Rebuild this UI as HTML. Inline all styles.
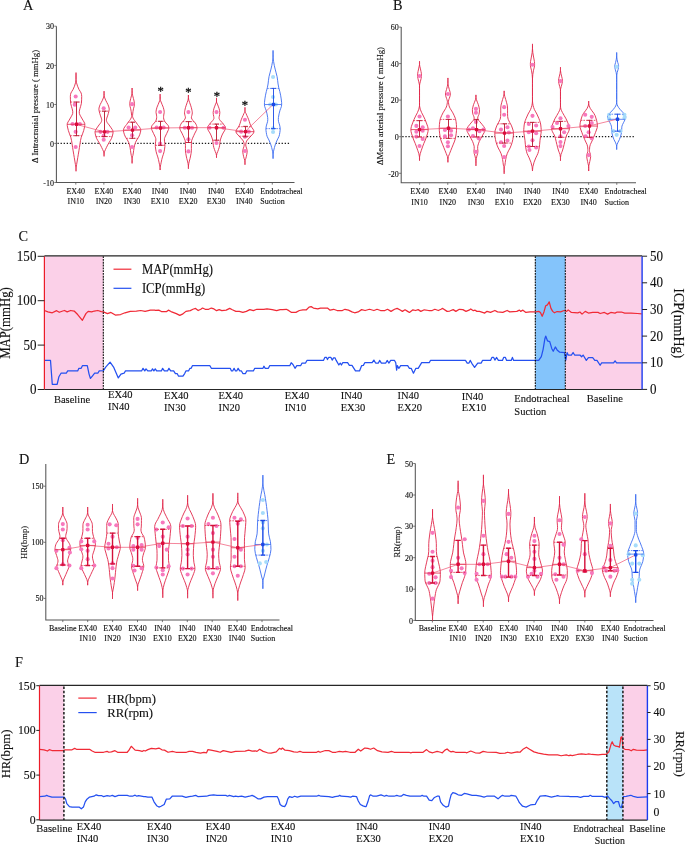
<!DOCTYPE html>
<html><head><meta charset="utf-8"><title>Figure</title>
<style>
html,body{margin:0;padding:0;background:#fff;}
body{width:685px;height:845px;overflow:hidden;}
svg{display:block;font-family:'Liberation Serif', 'DejaVu Serif', serif;fill:#111;}
text{stroke:#111;stroke-width:0.12px;}
</style></head><body>
<svg width="685" height="845" viewBox="0 0 685 845">
<rect width="685" height="845" fill="#fff"/>
<g id="panelA">
<text x="23" y="10" font-size="14.3" text-anchor="start">A</text>
<path d="M56.4 26.2V182.5H294.5" fill="none" stroke="#555" stroke-width="1.05"/>
<path d="M54.3 26.2h2.1M54.3 65.4h2.1M54.3 104.5h2.1M54.3 143.4h2.1M54.3 182.5h2.1M75.8 182.5v2.1M103.87 182.5v2.1M131.94 182.5v2.1M160.01 182.5v2.1M188.08 182.5v2.1M216.15 182.5v2.1M244.22 182.5v2.1M272.29 182.5v2.1" fill="none" stroke="#555" stroke-width="0.8"/>
<text x="54" y="29.3" font-size="8" text-anchor="end">30</text>
<text x="54" y="68.5" font-size="8" text-anchor="end">20</text>
<text x="54" y="107.6" font-size="8" text-anchor="end">10</text>
<text x="54" y="146.5" font-size="8" text-anchor="end">0</text>
<text x="54" y="185.6" font-size="8" text-anchor="end">-10</text>
<line x1="57.5" x2="290" y1="143.4" y2="143.4" stroke="#1a1a1a" stroke-width="1.3" stroke-dasharray="1.3 1.77"/>
<text x="75.8" y="193.8" font-size="8" text-anchor="middle">EX40</text><text x="75.8" y="204.2" font-size="8" text-anchor="middle">IN10</text>
<text x="103.87" y="193.8" font-size="8" text-anchor="middle">EX40</text><text x="103.87" y="204.2" font-size="8" text-anchor="middle">IN20</text>
<text x="131.94" y="193.8" font-size="8" text-anchor="middle">EX40</text><text x="131.94" y="204.2" font-size="8" text-anchor="middle">IN30</text>
<text x="160.01" y="193.8" font-size="8" text-anchor="middle">IN40</text><text x="160.01" y="204.2" font-size="8" text-anchor="middle">EX10</text>
<text x="188.08" y="193.8" font-size="8" text-anchor="middle">IN40</text><text x="188.08" y="204.2" font-size="8" text-anchor="middle">EX20</text>
<text x="216.15" y="193.8" font-size="8" text-anchor="middle">IN40</text><text x="216.15" y="204.2" font-size="8" text-anchor="middle">EX30</text>
<text x="244.22" y="193.8" font-size="8" text-anchor="middle">EX40</text><text x="244.22" y="204.2" font-size="8" text-anchor="middle">IN40</text>
<text x="260.3" y="193.8" font-size="8" text-anchor="start">Endotracheal</text><text x="260.3" y="204.2" font-size="8" text-anchor="start">Suction</text>
<text x="38.3" y="106.4" font-size="8" text-anchor="middle" transform="rotate(-90 38.3 106.4)" textLength="113" lengthAdjust="spacingAndGlyphs">&#916; Intracranial pressure ( mmHg)</text>
<path d="M76.02 72.61C76.02 73.18 76.02 74.88 76.02 76.02C76.02 77.15 75.94 78.28 76.02 79.42C76.11 80.55 76.28 81.68 76.53 82.82C76.79 83.95 77.15 85.08 77.58 86.22C78 87.35 78.48 88.49 79.07 89.62C79.67 90.75 80.7 91.89 81.14 93.02C81.57 94.15 81.62 95.29 81.7 96.42C81.78 97.56 81.66 98.69 81.62 99.82C81.57 100.96 81.59 102.09 81.41 103.22C81.23 104.36 80.86 105.49 80.55 106.63C80.24 107.76 79.77 108.89 79.57 110.03C79.37 111.16 79.11 112.29 79.35 113.43C79.58 114.56 80.37 115.7 80.97 116.83C81.57 117.96 82.3 119.1 82.94 120.23C83.57 121.36 84.51 122.5 84.77 123.63C85.04 124.76 84.71 125.9 84.53 127.03C84.36 128.17 84.05 129.3 83.72 130.43C83.39 131.57 82.96 132.7 82.55 133.83C82.14 134.97 81.61 136.1 81.27 137.24C80.92 138.37 80.7 139.5 80.48 140.64C80.26 141.77 80.12 142.9 79.95 144.04C79.78 145.17 79.63 146.31 79.45 147.44C79.28 148.57 79.08 149.71 78.9 150.84C78.71 151.97 78.52 153.11 78.33 154.24C78.14 155.38 77.95 156.51 77.76 157.64C77.57 158.78 77.39 159.91 77.2 161.04C77.01 162.18 76.84 163.31 76.64 164.45C76.44 165.58 76.13 166.71 76.02 167.85C75.92 168.98 76.02 170.68 76.02 171.25C76.02 170.68 76.13 168.98 76.02 167.85C75.92 166.71 75.6 165.58 75.41 164.45C75.21 163.31 75.03 162.18 74.85 161.04C74.66 159.91 74.47 158.78 74.29 157.64C74.1 156.51 73.9 155.38 73.71 154.24C73.53 153.11 73.34 151.97 73.15 150.84C72.96 149.71 72.77 148.57 72.59 147.44C72.42 146.31 72.27 145.17 72.09 144.04C71.92 142.9 71.79 141.77 71.57 140.64C71.35 139.5 71.12 138.37 70.78 137.24C70.43 136.1 69.91 134.97 69.5 133.83C69.09 132.7 68.66 131.57 68.33 130.43C68 129.3 67.69 128.17 67.51 127.03C67.34 125.9 67.01 124.76 67.27 123.63C67.54 122.5 68.47 121.36 69.11 120.23C69.74 119.1 70.48 117.96 71.08 116.83C71.68 115.7 72.46 114.56 72.7 113.43C72.93 112.29 72.68 111.16 72.48 110.03C72.28 108.89 71.81 107.76 71.5 106.63C71.19 105.49 70.81 104.36 70.64 103.22C70.46 102.09 70.48 100.96 70.43 99.82C70.38 98.69 70.27 97.56 70.35 96.42C70.43 95.29 70.47 94.15 70.91 93.02C71.35 91.89 72.38 90.75 72.97 89.62C73.57 88.49 74.05 87.35 74.47 86.22C74.89 85.08 75.25 83.95 75.51 82.82C75.77 81.68 75.94 80.55 76.02 79.42C76.11 78.28 76.02 77.15 76.02 76.02C76.02 74.88 76.02 73.18 76.02 72.61Z" fill="#fff" stroke="#e1284b" stroke-width="0.9" stroke-linejoin="round"/>
<circle cx="75.67" cy="96.44" r="2.05" fill="#f778bd"/>
<circle cx="74.8" cy="104.67" r="2.05" fill="#f778bd"/>
<circle cx="72.52" cy="123.95" r="2.05" fill="#f778bd"/>
<circle cx="79.88" cy="123.95" r="2.05" fill="#f778bd"/>
<circle cx="75.67" cy="131.83" r="2.05" fill="#f778bd"/>
<circle cx="75.67" cy="147.07" r="2.05" fill="#f778bd"/>
<line x1="67.19" x2="84.86" y1="124.3" y2="124.3" stroke="#e1284b" stroke-width="0.8"/>
<line x1="70.52" x2="81.53" y1="102.05" y2="102.05" stroke="#e1284b" stroke-width="0.8" stroke-dasharray="1.6 1"/>
<line x1="70.22" x2="81.82" y1="135.68" y2="135.68" stroke="#e1284b" stroke-width="0.8" stroke-dasharray="1.6 1"/>
<path d="M104.05 91.18C104.05 91.56 104.05 92.68 104.05 93.43C104.05 94.18 103.94 94.93 104.05 95.68C104.17 96.43 104.49 97.18 104.75 97.93C105.02 98.68 105.32 99.42 105.66 100.17C106 100.92 106.41 101.67 106.8 102.42C107.18 103.17 107.66 103.92 107.99 104.67C108.32 105.42 108.59 106.17 108.8 106.92C109 107.66 109.2 108.41 109.21 109.16C109.22 109.91 109.01 110.66 108.86 111.41C108.7 112.16 108.5 112.91 108.28 113.66C108.06 114.41 107.8 115.16 107.55 115.9C107.3 116.65 106.97 117.4 106.78 118.15C106.59 118.9 106.33 119.65 106.41 120.4C106.49 121.15 106.81 121.9 107.25 122.65C107.69 123.4 108.48 124.14 109.04 124.89C109.6 125.64 110.09 126.39 110.61 127.14C111.13 127.89 111.75 128.64 112.16 129.39C112.57 130.14 112.94 130.89 113.06 131.64C113.17 132.38 112.98 133.13 112.85 133.88C112.72 134.63 112.51 135.38 112.29 136.13C112.07 136.88 111.86 137.63 111.52 138.38C111.19 139.13 110.71 139.88 110.27 140.62C109.83 141.37 109.29 142.12 108.85 142.87C108.41 143.62 108.02 144.37 107.62 145.12C107.23 145.87 106.85 146.62 106.48 147.37C106.11 148.12 105.76 148.86 105.42 149.61C105.08 150.36 104.66 151.11 104.43 151.86C104.2 152.61 104.12 153.36 104.05 154.11C103.99 154.86 104.05 155.98 104.05 156.36C104.05 155.98 104.12 154.86 104.05 154.11C103.99 153.36 103.9 152.61 103.68 151.86C103.45 151.11 103.03 150.36 102.69 149.61C102.35 148.86 101.99 148.12 101.63 147.37C101.26 146.62 100.88 145.87 100.48 145.12C100.09 144.37 99.7 143.62 99.25 142.87C98.81 142.12 98.28 141.37 97.84 140.62C97.39 139.88 96.92 139.13 96.58 138.38C96.25 137.63 96.04 136.88 95.82 136.13C95.6 135.38 95.39 134.63 95.26 133.88C95.13 133.13 94.94 132.38 95.05 131.64C95.17 130.89 95.54 130.14 95.95 129.39C96.35 128.64 96.98 127.89 97.5 127.14C98.02 126.39 98.51 125.64 99.07 124.89C99.63 124.14 100.42 123.4 100.86 122.65C101.3 121.9 101.62 121.15 101.7 120.4C101.78 119.65 101.52 118.9 101.33 118.15C101.14 117.4 100.81 116.65 100.56 115.9C100.31 115.16 100.05 114.41 99.83 113.66C99.61 112.91 99.41 112.16 99.25 111.41C99.1 110.66 98.89 109.91 98.9 109.16C98.91 108.41 99.11 107.66 99.31 106.92C99.52 106.17 99.79 105.42 100.12 104.67C100.45 103.92 100.92 103.17 101.31 102.42C101.7 101.67 102.1 100.92 102.44 100.17C102.79 99.42 103.09 98.68 103.35 97.93C103.62 97.18 103.94 96.43 104.05 95.68C104.17 94.93 104.05 94.18 104.05 93.43C104.05 92.68 104.05 91.56 104.05 91.18Z" fill="#fff" stroke="#e1284b" stroke-width="0.9" stroke-linejoin="round"/>
<circle cx="103.7" cy="108.18" r="2.05" fill="#f778bd"/>
<circle cx="100.55" cy="131.83" r="2.05" fill="#f778bd"/>
<circle cx="107.56" cy="131.83" r="2.05" fill="#f778bd"/>
<circle cx="103.7" cy="135.68" r="2.05" fill="#f778bd"/>
<circle cx="103.7" cy="139.71" r="2.05" fill="#f778bd"/>
<line x1="95.04" x2="113.06" y1="131.83" y2="131.83" stroke="#e1284b" stroke-width="0.8"/>
<line x1="99.19" x2="108.92" y1="111.16" y2="111.16" stroke="#e1284b" stroke-width="0.8" stroke-dasharray="1.6 1"/>
<line x1="95.94" x2="112.16" y1="136.56" y2="136.56" stroke="#e1284b" stroke-width="0.8" stroke-dasharray="1.6 1"/>
<path d="M132.08 88.03C132.08 88.46 132.08 89.76 132.08 90.63C132.08 91.49 131.98 92.36 132.08 93.23C132.19 94.09 132.5 94.96 132.72 95.82C132.94 96.69 133.19 97.56 133.41 98.42C133.64 99.29 133.9 100.15 134.07 101.02C134.23 101.89 134.4 102.75 134.42 103.62C134.44 104.48 134.33 105.35 134.18 106.21C134.02 107.08 133.67 107.95 133.48 108.81C133.28 109.68 133.12 110.54 132.99 111.41C132.86 112.28 132.77 113.14 132.7 114.01C132.64 114.87 132.44 115.74 132.59 116.61C132.75 117.47 133.13 118.34 133.64 119.2C134.15 120.07 135.02 120.93 135.66 121.8C136.29 122.67 136.83 123.53 137.46 124.4C138.1 125.26 138.94 126.13 139.48 127C140.02 127.86 140.54 128.73 140.71 129.59C140.87 130.46 140.64 131.33 140.47 132.19C140.31 133.06 140.03 133.92 139.7 134.79C139.37 135.66 138.99 136.52 138.5 137.39C138.01 138.25 137.27 139.12 136.75 139.98C136.23 140.85 135.76 141.72 135.4 142.58C135.05 143.45 134.85 144.31 134.63 145.18C134.4 146.05 134.22 146.91 134.06 147.78C133.9 148.64 133.78 149.51 133.66 150.38C133.54 151.24 133.46 152.11 133.32 152.97C133.19 153.84 133.06 154.7 132.85 155.57C132.64 156.44 132.21 157.3 132.08 158.17C131.96 159.03 132.08 159.9 132.08 160.77C132.08 161.63 132.08 162.93 132.08 163.36C132.08 162.93 132.08 161.63 132.08 160.77C132.08 159.9 132.21 159.03 132.08 158.17C131.96 157.3 131.53 156.44 131.32 155.57C131.11 154.7 130.98 153.84 130.85 152.97C130.71 152.11 130.63 151.24 130.51 150.38C130.39 149.51 130.27 148.64 130.11 147.78C129.95 146.91 129.77 146.05 129.54 145.18C129.32 144.31 129.12 143.45 128.77 142.58C128.41 141.72 127.94 140.85 127.42 139.98C126.9 139.12 126.16 138.25 125.67 137.39C125.18 136.52 124.8 135.66 124.47 134.79C124.14 133.92 123.86 133.06 123.7 132.19C123.53 131.33 123.3 130.46 123.46 129.59C123.63 128.73 124.15 127.86 124.69 127C125.23 126.13 126.07 125.26 126.71 124.4C127.34 123.53 127.88 122.67 128.51 121.8C129.15 120.93 130.02 120.07 130.53 119.2C131.04 118.34 131.42 117.47 131.58 116.61C131.73 115.74 131.53 114.87 131.47 114.01C131.4 113.14 131.31 112.28 131.18 111.41C131.05 110.54 130.89 109.68 130.69 108.81C130.5 107.95 130.15 107.08 129.99 106.21C129.84 105.35 129.73 104.48 129.75 103.62C129.77 102.75 129.94 101.89 130.1 101.02C130.27 100.15 130.53 99.29 130.76 98.42C130.98 97.56 131.23 96.69 131.45 95.82C131.67 94.96 131.98 94.09 132.08 93.23C132.19 92.36 132.08 91.49 132.08 90.63C132.08 89.76 132.08 88.46 132.08 88.03Z" fill="#fff" stroke="#e1284b" stroke-width="0.9" stroke-linejoin="round"/>
<circle cx="132.08" cy="104.15" r="2.05" fill="#f778bd"/>
<circle cx="128.58" cy="127.45" r="2.05" fill="#f778bd"/>
<circle cx="135.24" cy="127.45" r="2.05" fill="#f778bd"/>
<circle cx="132.08" cy="135.33" r="2.05" fill="#f778bd"/>
<circle cx="132.08" cy="147.07" r="2.05" fill="#f778bd"/>
<line x1="123.42" x2="140.74" y1="130.08" y2="130.08" stroke="#e1284b" stroke-width="0.8"/>
<line x1="128.22" x2="135.95" y1="122.19" y2="122.19" stroke="#e1284b" stroke-width="0.8" stroke-dasharray="1.6 1"/>
<line x1="126.28" x2="137.89" y1="138.31" y2="138.31" stroke="#e1284b" stroke-width="0.8" stroke-dasharray="1.6 1"/>
<path d="M160.12 94.16C160.12 94.6 160.12 95.91 160.12 96.78C160.12 97.65 159.95 98.52 160.12 99.39C160.28 100.27 160.75 101.14 161.08 102.01C161.42 102.88 161.77 103.75 162.13 104.63C162.49 105.5 162.94 106.37 163.24 107.24C163.54 108.11 163.77 108.99 163.93 109.86C164.09 110.73 164.24 111.6 164.2 112.47C164.17 113.35 163.85 114.22 163.74 115.09C163.64 115.96 163.49 116.83 163.57 117.7C163.64 118.58 163.8 119.45 164.19 120.32C164.57 121.19 165.22 122.06 165.89 122.94C166.56 123.81 167.71 124.68 168.21 125.55C168.71 126.42 168.93 127.3 168.89 128.17C168.86 129.04 168.34 129.91 167.98 130.78C167.63 131.66 167.17 132.53 166.75 133.4C166.32 134.27 165.84 135.14 165.46 136.02C165.07 136.89 164.59 137.76 164.44 138.63C164.29 139.5 164.47 140.38 164.53 141.25C164.6 142.12 164.79 142.99 164.85 143.86C164.9 144.73 164.93 145.61 164.88 146.48C164.83 147.35 164.69 148.22 164.56 149.09C164.43 149.97 164.3 150.84 164.1 151.71C163.9 152.58 163.61 153.45 163.34 154.33C163.07 155.2 162.72 156.07 162.46 156.94C162.2 157.81 161.98 158.69 161.78 159.56C161.57 160.43 161.41 161.3 161.23 162.17C161.05 163.05 160.87 163.92 160.69 164.79C160.5 165.66 160.21 166.53 160.12 167.41C160.02 168.28 160.12 169.59 160.12 170.02C160.12 169.59 160.21 168.28 160.12 167.41C160.02 166.53 159.73 165.66 159.54 164.79C159.36 163.92 159.18 163.05 159 162.17C158.82 161.3 158.66 160.43 158.46 159.56C158.25 158.69 158.04 157.81 157.78 156.94C157.51 156.07 157.16 155.2 156.89 154.33C156.62 153.45 156.33 152.58 156.13 151.71C155.93 150.84 155.8 149.97 155.67 149.09C155.54 148.22 155.4 147.35 155.35 146.48C155.3 145.61 155.33 144.73 155.38 143.86C155.44 142.99 155.63 142.12 155.7 141.25C155.77 140.38 155.95 139.5 155.79 138.63C155.64 137.76 155.16 136.89 154.78 136.02C154.39 135.14 153.91 134.27 153.49 133.4C153.06 132.53 152.61 131.66 152.25 130.78C151.89 129.91 151.38 129.04 151.34 128.17C151.3 127.3 151.52 126.42 152.02 125.55C152.52 124.68 153.67 123.81 154.34 122.94C155.01 122.06 155.66 121.19 156.05 120.32C156.43 119.45 156.59 118.58 156.66 117.7C156.74 116.83 156.59 115.96 156.49 115.09C156.38 114.22 156.06 113.35 156.03 112.47C155.99 111.6 156.14 110.73 156.3 109.86C156.46 108.99 156.69 108.11 156.99 107.24C157.29 106.37 157.74 105.5 158.1 104.63C158.46 103.75 158.81 102.88 159.15 102.01C159.48 101.14 159.95 100.27 160.12 99.39C160.28 98.52 160.12 97.65 160.12 96.78C160.12 95.91 160.12 94.6 160.12 94.16Z" fill="#fff" stroke="#e1284b" stroke-width="0.9" stroke-linejoin="round"/>
<circle cx="160.12" cy="112.03" r="2.05" fill="#f778bd"/>
<circle cx="156.61" cy="127.45" r="2.05" fill="#f778bd"/>
<circle cx="163.62" cy="127.45" r="2.05" fill="#f778bd"/>
<circle cx="160.12" cy="143.57" r="2.05" fill="#f778bd"/>
<circle cx="160.12" cy="151.1" r="2.05" fill="#f778bd"/>
<line x1="151.31" x2="168.92" y1="127.97" y2="127.97" stroke="#e1284b" stroke-width="0.8"/>
<line x1="155.61" x2="164.62" y1="121.32" y2="121.32" stroke="#e1284b" stroke-width="0.8" stroke-dasharray="1.6 1"/>
<line x1="155.31" x2="164.92" y1="145.32" y2="145.32" stroke="#e1284b" stroke-width="0.8" stroke-dasharray="1.6 1"/>
<path d="M188.41 95.04C188.41 95.46 188.35 96.73 188.41 97.58C188.47 98.42 188.57 99.27 188.79 100.12C189 100.96 189.39 101.81 189.69 102.66C189.99 103.5 190.28 104.35 190.57 105.2C190.85 106.04 191.15 106.89 191.38 107.74C191.62 108.58 191.8 109.43 191.96 110.27C192.12 111.12 192.33 111.97 192.32 112.81C192.31 113.66 192.03 114.51 191.88 115.35C191.72 116.2 191.21 117.05 191.38 117.89C191.55 118.74 192.26 119.58 192.9 120.43C193.54 121.28 194.63 122.12 195.24 122.97C195.84 123.82 196.22 124.66 196.52 125.51C196.83 126.36 197.1 127.2 197.05 128.05C197.01 128.9 196.62 129.74 196.26 130.59C195.89 131.43 195.3 132.28 194.88 133.13C194.45 133.97 194.1 134.82 193.72 135.67C193.33 136.51 192.91 137.36 192.55 138.21C192.2 139.05 191.81 139.9 191.61 140.75C191.42 141.59 191.42 142.44 191.38 143.28C191.34 144.13 191.38 144.98 191.38 145.82C191.38 146.67 191.38 147.52 191.38 148.36C191.37 149.21 191.41 150.06 191.35 150.9C191.3 151.75 191.19 152.6 191.07 153.44C190.94 154.29 190.75 155.13 190.58 155.98C190.41 156.83 190.26 157.67 190.05 158.52C189.85 159.37 189.55 160.21 189.34 161.06C189.13 161.91 188.94 162.75 188.78 163.6C188.63 164.45 188.47 165.29 188.41 166.14C188.35 166.98 188.41 168.25 188.41 168.68C188.41 168.25 188.47 166.98 188.41 166.14C188.35 165.29 188.19 164.45 188.04 163.6C187.88 162.75 187.69 161.91 187.48 161.06C187.27 160.21 186.97 159.37 186.77 158.52C186.56 157.67 186.41 156.83 186.24 155.98C186.07 155.13 185.88 154.29 185.75 153.44C185.62 152.6 185.52 151.75 185.46 150.9C185.41 150.06 185.45 149.21 185.44 148.36C185.44 147.52 185.44 146.67 185.44 145.82C185.44 144.98 185.48 144.13 185.44 143.28C185.4 142.44 185.4 141.59 185.21 140.75C185.01 139.9 184.62 139.05 184.26 138.21C183.91 137.36 183.49 136.51 183.1 135.67C182.71 134.82 182.37 133.97 181.94 133.13C181.52 132.28 180.93 131.43 180.56 130.59C180.2 129.74 179.81 128.9 179.77 128.05C179.72 127.2 179.99 126.36 180.3 125.51C180.6 124.66 180.98 123.82 181.58 122.97C182.19 122.12 183.27 121.28 183.92 120.43C184.56 119.58 185.27 118.74 185.44 117.89C185.61 117.05 185.1 116.2 184.94 115.35C184.79 114.51 184.51 113.66 184.5 112.81C184.48 111.97 184.7 111.12 184.86 110.27C185.01 109.43 185.2 108.58 185.43 107.74C185.67 106.89 185.97 106.04 186.25 105.2C186.54 104.35 186.83 103.5 187.13 102.66C187.42 101.81 187.82 100.96 188.03 100.12C188.25 99.27 188.35 98.42 188.41 97.58C188.47 96.73 188.41 95.46 188.41 95.04Z" fill="#fff" stroke="#e1284b" stroke-width="0.9" stroke-linejoin="round"/>
<circle cx="188.41" cy="112.12" r="2.05" fill="#f778bd"/>
<circle cx="184.8" cy="127.68" r="2.05" fill="#f778bd"/>
<circle cx="192.02" cy="127.68" r="2.05" fill="#f778bd"/>
<circle cx="188.41" cy="139.26" r="2.05" fill="#f778bd"/>
<circle cx="188.41" cy="151.41" r="2.05" fill="#f778bd"/>
<line x1="179.75" x2="197.07" y1="127.68" y2="127.68" stroke="#e1284b" stroke-width="0.8"/>
<line x1="182.75" x2="194.07" y1="121.61" y2="121.61" stroke="#e1284b" stroke-width="0.8" stroke-dasharray="1.6 1"/>
<line x1="185.44" x2="191.38" y1="142.49" y2="142.49" stroke="#e1284b" stroke-width="0.8" stroke-dasharray="1.6 1"/>
<path d="M216.5 97.89C216.5 98.23 216.5 99.26 216.5 99.95C216.5 100.63 216.34 101.32 216.5 102.01C216.65 102.7 217.14 103.38 217.42 104.07C217.71 104.76 217.94 105.44 218.2 106.13C218.46 106.82 218.76 107.51 218.98 108.19C219.19 108.88 219.36 109.57 219.5 110.25C219.64 110.94 219.8 111.63 219.83 112.32C219.86 113 219.77 113.69 219.67 114.38C219.58 115.06 219.36 115.75 219.27 116.44C219.17 117.13 218.94 117.81 219.11 118.5C219.28 119.19 219.77 119.88 220.28 120.56C220.8 121.25 221.6 121.94 222.19 122.62C222.78 123.31 223.28 124 223.8 124.69C224.32 125.37 225.05 126.06 225.31 126.75C225.57 127.43 225.52 128.12 225.37 128.81C225.23 129.5 224.8 130.18 224.43 130.87C224.06 131.56 223.54 132.24 223.15 132.93C222.76 133.62 222.39 134.31 222.08 134.99C221.77 135.68 221.53 136.37 221.28 137.05C221.03 137.74 220.78 138.43 220.58 139.12C220.39 139.8 220.24 140.49 220.12 141.18C220 141.86 219.95 142.55 219.86 143.24C219.78 143.93 219.73 144.61 219.63 145.3C219.52 145.99 219.39 146.67 219.21 147.36C219.03 148.05 218.78 148.74 218.54 149.42C218.3 150.11 218.04 150.8 217.77 151.48C217.5 152.17 217.14 152.86 216.93 153.55C216.72 154.23 216.57 154.92 216.5 155.61C216.43 156.3 216.5 157.33 216.5 157.67C216.5 157.33 216.57 156.3 216.5 155.61C216.43 154.92 216.28 154.23 216.07 153.55C215.86 152.86 215.5 152.17 215.23 151.48C214.96 150.8 214.69 150.11 214.45 149.42C214.21 148.74 213.96 148.05 213.78 147.36C213.6 146.67 213.48 145.99 213.37 145.3C213.26 144.61 213.21 143.93 213.13 143.24C213.05 142.55 213 141.86 212.88 141.18C212.76 140.49 212.61 139.8 212.41 139.12C212.22 138.43 211.96 137.74 211.71 137.05C211.46 136.37 211.22 135.68 210.91 134.99C210.6 134.31 210.24 133.62 209.85 132.93C209.46 132.24 208.94 131.56 208.57 130.87C208.19 130.18 207.77 129.5 207.62 128.81C207.48 128.12 207.43 127.43 207.69 126.75C207.95 126.06 208.67 125.37 209.19 124.69C209.71 124 210.22 123.31 210.81 122.62C211.4 121.94 212.2 121.25 212.71 120.56C213.23 119.88 213.72 119.19 213.89 118.5C214.05 117.81 213.82 117.13 213.73 116.44C213.64 115.75 213.42 115.06 213.32 114.38C213.23 113.69 213.13 113 213.16 112.32C213.19 111.63 213.35 110.94 213.5 110.25C213.64 109.57 213.8 108.88 214.02 108.19C214.24 107.51 214.54 106.82 214.8 106.13C215.06 105.44 215.29 104.76 215.57 104.07C215.86 103.38 216.34 102.7 216.5 102.01C216.65 101.32 216.5 100.63 216.5 99.95C216.5 99.26 216.5 98.23 216.5 97.89Z" fill="#fff" stroke="#e1284b" stroke-width="0.9" stroke-linejoin="round"/>
<circle cx="216.5" cy="112.12" r="2.05" fill="#f778bd"/>
<circle cx="209.48" cy="127.68" r="2.05" fill="#f778bd"/>
<circle cx="223.52" cy="127.68" r="2.05" fill="#f778bd"/>
<circle cx="216.5" cy="143.06" r="2.05" fill="#f778bd"/>
<line x1="207.46" x2="225.54" y1="127.68" y2="127.68" stroke="#e1284b" stroke-width="0.8"/>
<line x1="209.7" x2="223.3" y1="124.08" y2="124.08" stroke="#e1284b" stroke-width="0.8" stroke-dasharray="1.6 1"/>
<line x1="212.69" x2="220.3" y1="140.21" y2="140.21" stroke="#e1284b" stroke-width="0.8" stroke-dasharray="1.6 1"/>
<path d="M244.97 107.38C244.97 107.7 244.97 108.69 244.97 109.35C244.97 110.01 244.81 110.67 244.97 111.33C245.13 111.99 245.63 112.65 245.93 113.3C246.23 113.96 246.49 114.62 246.78 115.28C247.06 115.94 247.37 116.6 247.66 117.26C247.95 117.92 248.25 118.57 248.51 119.23C248.76 119.89 248.99 120.55 249.2 121.21C249.42 121.87 249.59 122.53 249.81 123.19C250.02 123.85 250.19 124.5 250.49 125.16C250.79 125.82 251.18 126.48 251.6 127.14C252.03 127.8 252.63 128.46 253.02 129.12C253.41 129.77 253.86 130.43 253.94 131.09C254.03 131.75 253.88 132.41 253.52 133.07C253.17 133.73 252.4 134.39 251.82 135.05C251.23 135.7 250.63 136.36 250.03 137.02C249.43 137.68 248.78 138.34 248.22 139C247.66 139.66 247.05 140.32 246.68 140.97C246.3 141.63 246.14 142.29 245.97 142.95C245.81 143.61 245.69 144.27 245.7 144.93C245.72 145.59 245.91 146.24 246.09 146.9C246.26 147.56 246.59 148.22 246.77 148.88C246.95 149.54 247.12 150.2 247.17 150.86C247.22 151.52 247.13 152.17 247.05 152.83C246.98 153.49 246.84 154.15 246.71 154.81C246.58 155.47 246.43 156.13 246.26 156.79C246.1 157.44 245.94 158.1 245.72 158.76C245.5 159.42 245.09 160.08 244.97 160.74C244.84 161.4 244.97 162.06 244.97 162.72C244.97 163.37 244.97 164.36 244.97 164.69C244.97 164.36 244.97 163.37 244.97 162.72C244.97 162.06 245.09 161.4 244.97 160.74C244.84 160.08 244.43 159.42 244.21 158.76C244 158.1 243.84 157.44 243.67 156.79C243.51 156.13 243.36 155.47 243.22 154.81C243.09 154.15 242.96 153.49 242.88 152.83C242.8 152.17 242.71 151.52 242.76 150.86C242.81 150.2 242.99 149.54 243.17 148.88C243.35 148.22 243.67 147.56 243.85 146.9C244.02 146.24 244.21 145.59 244.23 144.93C244.25 144.27 244.12 143.61 243.96 142.95C243.8 142.29 243.63 141.63 243.26 140.97C242.88 140.32 242.27 139.66 241.71 139C241.16 138.34 240.5 137.68 239.9 137.02C239.31 136.36 238.7 135.7 238.12 135.05C237.53 134.39 236.76 133.73 236.41 133.07C236.05 132.41 235.9 131.75 235.99 131.09C236.07 130.43 236.52 129.77 236.91 129.12C237.3 128.46 237.91 127.8 238.33 127.14C238.75 126.48 239.14 125.82 239.44 125.16C239.74 124.5 239.91 123.85 240.13 123.19C240.34 122.53 240.51 121.87 240.73 121.21C240.95 120.55 241.17 119.89 241.43 119.23C241.68 118.57 241.98 117.92 242.27 117.26C242.56 116.6 242.87 115.94 243.16 115.28C243.45 114.62 243.7 113.96 244 113.3C244.3 112.65 244.81 111.99 244.97 111.33C245.13 110.67 244.97 110.01 244.97 109.35C244.97 108.69 244.97 107.7 244.97 107.38Z" fill="#fff" stroke="#e1284b" stroke-width="0.9" stroke-linejoin="round"/>
<circle cx="244.97" cy="119.71" r="2.05" fill="#f778bd"/>
<circle cx="241.17" cy="131.67" r="2.05" fill="#f778bd"/>
<circle cx="248.76" cy="131.67" r="2.05" fill="#f778bd"/>
<circle cx="244.97" cy="136.79" r="2.05" fill="#f778bd"/>
<circle cx="244.97" cy="151.03" r="2.05" fill="#f778bd"/>
<line x1="235.93" x2="254.01" y1="131.67" y2="131.67" stroke="#e1284b" stroke-width="0.8"/>
<line x1="238.61" x2="251.33" y1="126.73" y2="126.73" stroke="#e1284b" stroke-width="0.8" stroke-dasharray="1.6 1"/>
<line x1="239.25" x2="250.69" y1="136.22" y2="136.22" stroke="#e1284b" stroke-width="0.8" stroke-dasharray="1.6 1"/>
<path d="M273.06 50.44C273.06 51.06 273.06 52.93 273.06 54.17C273.06 55.41 272.96 56.66 273.06 57.9C273.15 59.14 273.41 60.39 273.61 61.63C273.82 62.87 274.02 64.12 274.28 65.36C274.53 66.6 274.84 67.85 275.15 69.09C275.45 70.33 275.79 71.58 276.11 72.82C276.43 74.06 276.82 75.31 277.07 76.55C277.33 77.79 277.46 79.04 277.62 80.28C277.79 81.52 277.88 82.77 278.07 84.01C278.26 85.25 278.48 86.5 278.77 87.74C279.05 88.99 279.47 90.23 279.77 91.47C280.08 92.72 280.36 93.96 280.6 95.2C280.84 96.45 281.04 97.69 281.21 98.93C281.39 100.18 281.61 101.42 281.65 102.66C281.69 103.91 281.71 105.15 281.44 106.39C281.17 107.64 280.44 108.88 280.04 110.12C279.65 111.37 279.35 112.61 279.08 113.85C278.81 115.1 278.53 116.34 278.43 117.58C278.33 118.83 278.28 120.07 278.47 121.31C278.67 122.56 279.31 123.8 279.6 125.05C279.88 126.29 280.15 127.53 280.19 128.78C280.23 130.02 280.03 131.26 279.84 132.51C279.65 133.75 279.5 134.99 279.06 136.24C278.62 137.48 277.78 138.72 277.21 139.97C276.63 141.21 276.06 142.45 275.6 143.7C275.14 144.94 274.79 146.18 274.45 147.43C274.11 148.67 273.79 149.91 273.55 151.16C273.32 152.4 273.14 153.64 273.06 154.89C272.97 156.13 273.06 158 273.06 158.62C273.06 158 273.14 156.13 273.06 154.89C272.97 153.64 272.79 152.4 272.56 151.16C272.32 149.91 272 148.67 271.66 147.43C271.32 146.18 270.97 144.94 270.51 143.7C270.05 142.45 269.48 141.21 268.91 139.97C268.33 138.72 267.49 137.48 267.05 136.24C266.61 134.99 266.46 133.75 266.27 132.51C266.09 131.26 265.88 130.02 265.92 128.78C265.96 127.53 266.23 126.29 266.52 125.05C266.8 123.8 267.44 122.56 267.64 121.31C267.83 120.07 267.78 118.83 267.68 117.58C267.58 116.34 267.3 115.1 267.03 113.85C266.76 112.61 266.46 111.37 266.07 110.12C265.67 108.88 264.94 107.64 264.67 106.39C264.4 105.15 264.43 103.91 264.46 102.66C264.5 101.42 264.73 100.18 264.9 98.93C265.07 97.69 265.27 96.45 265.51 95.2C265.75 93.96 266.03 92.72 266.34 91.47C266.64 90.23 267.06 88.99 267.34 87.74C267.63 86.5 267.85 85.25 268.05 84.01C268.24 82.77 268.32 81.52 268.49 80.28C268.65 79.04 268.79 77.79 269.04 76.55C269.29 75.31 269.68 74.06 270 72.82C270.32 71.58 270.66 70.33 270.97 69.09C271.27 67.85 271.58 66.6 271.83 65.36C272.09 64.12 272.3 62.87 272.5 61.63C272.7 60.39 272.96 59.14 273.06 57.9C273.15 56.66 273.06 55.41 273.06 54.17C273.06 52.93 273.06 51.06 273.06 50.44Z" fill="#fff" stroke="#3b6cf2" stroke-width="0.9" stroke-linejoin="round"/>
<circle cx="273.06" cy="77.01" r="2.05" fill="#a6dcfa"/>
<circle cx="273.06" cy="96.94" r="2.05" fill="#a6dcfa"/>
<circle cx="270.21" cy="104.53" r="2.05" fill="#a6dcfa"/>
<circle cx="275.9" cy="104.53" r="2.05" fill="#a6dcfa"/>
<circle cx="273.06" cy="128.25" r="2.05" fill="#a6dcfa"/>
<circle cx="273.06" cy="132.05" r="2.05" fill="#a6dcfa"/>
<line x1="264.4" x2="281.72" y1="104.53" y2="104.53" stroke="#3b6cf2" stroke-width="0.8"/>
<line x1="267.18" x2="278.93" y1="88.4" y2="88.4" stroke="#3b6cf2" stroke-width="0.8" stroke-dasharray="1.6 1"/>
<line x1="265.92" x2="280.19" y1="128.63" y2="128.63" stroke="#3b6cf2" stroke-width="0.8" stroke-dasharray="1.6 1"/>
<polyline points="76.02,124.3 104.05,131.83 132.08,130.08 160.12,127.97 188.41,127.68 216.5,127.68 244.97,131.67 273.06,104.53" fill="none" stroke="#ee4466" stroke-width="0.65"/>
<path d="M76.5 102.05V135.68M74.2 102.05H78.8M74.2 135.68H78.8" stroke="#b8142e" stroke-width="0.9" fill="none"/>
<rect x="74.8" y="122.6" width="3.4" height="3.4" rx="0.7" fill="#dc0a3c"/>
<path d="M104.5 111.16V136.56M102.2 111.16H106.8M102.2 136.56H106.8" stroke="#b8142e" stroke-width="0.9" fill="none"/>
<rect x="102.8" y="130.13" width="3.4" height="3.4" rx="0.7" fill="#dc0a3c"/>
<path d="M132.5 122.19V138.31M130.2 122.19H134.8M130.2 138.31H134.8" stroke="#b8142e" stroke-width="0.9" fill="none"/>
<rect x="130.8" y="128.38" width="3.4" height="3.4" rx="0.7" fill="#dc0a3c"/>
<path d="M160.5 121.32V145.32M158.2 121.32H162.8M158.2 145.32H162.8" stroke="#b8142e" stroke-width="0.9" fill="none"/>
<rect x="158.8" y="126.27" width="3.4" height="3.4" rx="0.7" fill="#dc0a3c"/>
<path d="M188.5 121.61V142.49M186.2 121.61H190.8M186.2 142.49H190.8" stroke="#b8142e" stroke-width="0.9" fill="none"/>
<rect x="186.8" y="125.98" width="3.4" height="3.4" rx="0.7" fill="#dc0a3c"/>
<path d="M216.5 124.08V140.21M214.2 124.08H218.8M214.2 140.21H218.8" stroke="#b8142e" stroke-width="0.9" fill="none"/>
<rect x="214.8" y="125.98" width="3.4" height="3.4" rx="0.7" fill="#dc0a3c"/>
<path d="M245.5 126.35V136.79M243.2 126.35H247.8M243.2 136.79H247.8" stroke="#b8142e" stroke-width="0.9" fill="none"/>
<rect x="243.8" y="129.97" width="3.4" height="3.4" rx="0.7" fill="#dc0a3c"/>
<path d="M273.5 88.4V128.63M271.2 88.4H275.8M271.2 128.63H275.8" stroke="#1a48e6" stroke-width="0.9" fill="none"/>
<rect x="271.8" y="102.83" width="3.4" height="3.4" rx="0.7" fill="#1a48e6"/>
<text x="160.64" y="94.93" font-size="12.5" text-anchor="middle" style="stroke-width:0.35px">*</text>
<text x="188.41" y="96.36" font-size="12.5" text-anchor="middle" style="stroke-width:0.35px">*</text>
<text x="216.88" y="99.59" font-size="12.5" text-anchor="middle" style="stroke-width:0.35px">*</text>
<text x="244.97" y="109.08" font-size="12.5" text-anchor="middle" style="stroke-width:0.35px">*</text>
</g>
<g id="panelB">
<text x="393" y="10.3" font-size="14.3" text-anchor="start">B</text>
<path d="M401.2 27.1V182.7H636" fill="none" stroke="#555" stroke-width="1.05"/>
<path d="M399.1 27.1h2.1M399.1 63.6h2.1M399.1 100.1h2.1M399.1 136.7h2.1M399.1 173.3h2.1M419.6 182.7v2.1M447.77 182.7v2.1M475.94 182.7v2.1M504.11 182.7v2.1M532.28 182.7v2.1M560.45 182.7v2.1M588.62 182.7v2.1M616.79 182.7v2.1" fill="none" stroke="#555" stroke-width="0.8"/>
<text x="398.8" y="30.4" font-size="8" text-anchor="end">60</text>
<text x="398.8" y="66.9" font-size="8" text-anchor="end">40</text>
<text x="398.8" y="103.4" font-size="8" text-anchor="end">20</text>
<text x="398.8" y="140" font-size="8" text-anchor="end">0</text>
<text x="398.8" y="176.6" font-size="8" text-anchor="end">-20</text>
<line x1="402.3" x2="634" y1="136.7" y2="136.7" stroke="#1a1a1a" stroke-width="1.3" stroke-dasharray="1.3 1.77"/>
<text x="419.6" y="193.8" font-size="8" text-anchor="middle">EX40</text><text x="419.6" y="204.6" font-size="8" text-anchor="middle">IN10</text>
<text x="447.77" y="193.8" font-size="8" text-anchor="middle">EX40</text><text x="447.77" y="204.6" font-size="8" text-anchor="middle">IN20</text>
<text x="475.94" y="193.8" font-size="8" text-anchor="middle">EX40</text><text x="475.94" y="204.6" font-size="8" text-anchor="middle">IN30</text>
<text x="504.11" y="193.8" font-size="8" text-anchor="middle">IN40</text><text x="504.11" y="204.6" font-size="8" text-anchor="middle">EX10</text>
<text x="532.28" y="193.8" font-size="8" text-anchor="middle">IN40</text><text x="532.28" y="204.6" font-size="8" text-anchor="middle">EX20</text>
<text x="560.45" y="193.8" font-size="8" text-anchor="middle">IN40</text><text x="560.45" y="204.6" font-size="8" text-anchor="middle">EX30</text>
<text x="588.62" y="193.8" font-size="8" text-anchor="middle">EX40</text><text x="588.62" y="204.6" font-size="8" text-anchor="middle">IN40</text>
<text x="604.6" y="193.8" font-size="8" text-anchor="start">Endotracheal</text><text x="604.6" y="204.6" font-size="8" text-anchor="start">Suction</text>
<text x="382.8" y="106" font-size="8" text-anchor="middle" transform="rotate(-90 382.8 106)" textLength="118" lengthAdjust="spacingAndGlyphs">&#916;Mean arterial pressure ( mmHg)</text>
<path d="M419.53 61.24C419.53 61.81 419.4 63.53 419.53 64.67C419.65 65.81 420.02 66.95 420.27 68.09C420.52 69.24 420.81 70.38 421.01 71.52C421.21 72.66 421.46 73.8 421.48 74.95C421.5 76.09 421.35 77.23 421.15 78.37C420.95 79.51 420.56 80.66 420.29 81.8C420.02 82.94 419.65 84.08 419.53 85.22C419.4 86.36 419.53 87.51 419.53 88.65C419.53 89.79 419.53 90.93 419.53 92.07C419.53 93.22 419.53 94.36 419.53 95.5C419.53 96.64 419.53 97.78 419.53 98.93C419.53 100.07 419.53 101.21 419.53 102.35C419.53 103.49 419.41 104.64 419.53 105.78C419.65 106.92 419.89 108.06 420.24 109.2C420.59 110.34 421.1 111.49 421.63 112.63C422.16 113.77 422.85 114.91 423.42 116.05C423.99 117.2 424.56 118.34 425.05 119.48C425.55 120.62 425.96 121.76 426.39 122.91C426.82 124.05 427.33 125.19 427.63 126.33C427.93 127.47 428.19 128.62 428.19 129.76C428.18 130.9 427.88 132.04 427.61 133.18C427.33 134.32 426.92 135.47 426.53 136.61C426.15 137.75 425.75 138.89 425.29 140.03C424.84 141.18 424.28 142.32 423.82 143.46C423.36 144.6 422.94 145.74 422.53 146.89C422.11 148.03 421.73 149.17 421.34 150.31C420.95 151.45 420.5 152.6 420.2 153.74C419.89 154.88 419.64 156.02 419.53 157.16C419.42 158.3 419.53 160.02 419.53 160.59C419.53 160.02 419.64 158.3 419.53 157.16C419.42 156.02 419.16 154.88 418.86 153.74C418.56 152.6 418.1 151.45 417.71 150.31C417.33 149.17 416.94 148.03 416.53 146.89C416.11 145.74 415.69 144.6 415.23 143.46C414.77 142.32 414.21 141.18 413.76 140.03C413.31 138.89 412.9 137.75 412.52 136.61C412.13 135.47 411.72 134.32 411.45 133.18C411.17 132.04 410.87 130.9 410.87 129.76C410.87 128.62 411.13 127.47 411.43 126.33C411.73 125.19 412.23 124.05 412.66 122.91C413.09 121.76 413.51 120.62 414 119.48C414.5 118.34 415.06 117.2 415.63 116.05C416.2 114.91 416.89 113.77 417.43 112.63C417.96 111.49 418.47 110.34 418.82 109.2C419.17 108.06 419.41 106.92 419.53 105.78C419.65 104.64 419.53 103.49 419.53 102.35C419.53 101.21 419.53 100.07 419.53 98.93C419.53 97.78 419.53 96.64 419.53 95.5C419.53 94.36 419.53 93.22 419.53 92.07C419.53 90.93 419.53 89.79 419.53 88.65C419.53 87.51 419.65 86.36 419.53 85.22C419.4 84.08 419.04 82.94 418.77 81.8C418.5 80.66 418.1 79.51 417.91 78.37C417.71 77.23 417.55 76.09 417.57 74.95C417.6 73.8 417.84 72.66 418.04 71.52C418.25 70.38 418.53 69.24 418.78 68.09C419.03 66.95 419.4 65.81 419.53 64.67C419.65 63.53 419.53 61.81 419.53 61.24Z" fill="#fff" stroke="#e1284b" stroke-width="0.9" stroke-linejoin="round"/>
<circle cx="419.53" cy="76.05" r="2.05" fill="#f778bd"/>
<circle cx="419.53" cy="116.44" r="2.05" fill="#f778bd"/>
<circle cx="416.37" cy="125.9" r="2.05" fill="#f778bd"/>
<circle cx="422.68" cy="127.3" r="2.05" fill="#f778bd"/>
<circle cx="416.37" cy="131.68" r="2.05" fill="#f778bd"/>
<circle cx="422.68" cy="130.81" r="2.05" fill="#f778bd"/>
<circle cx="416.37" cy="136.59" r="2.05" fill="#f778bd"/>
<circle cx="422.68" cy="139.04" r="2.05" fill="#f778bd"/>
<circle cx="419.53" cy="146.05" r="2.05" fill="#f778bd"/>
<line x1="410.87" x2="428.19" y1="129.58" y2="129.58" stroke="#e1284b" stroke-width="0.8"/>
<line x1="413.5" x2="425.55" y1="120.64" y2="120.64" stroke="#e1284b" stroke-width="0.8" stroke-dasharray="1.6 1"/>
<line x1="412.62" x2="426.44" y1="136.94" y2="136.94" stroke="#e1284b" stroke-width="0.8" stroke-dasharray="1.6 1"/>
<path d="M447.91 77.94C447.91 78.43 447.91 79.88 447.91 80.85C447.91 81.82 447.8 82.79 447.91 83.76C448.02 84.74 448.33 85.71 448.56 86.68C448.8 87.65 449.05 88.62 449.32 89.59C449.59 90.56 450.03 91.53 450.18 92.5C450.33 93.47 450.37 94.44 450.23 95.41C450.08 96.38 449.6 97.35 449.3 98.32C448.99 99.29 448.51 100.26 448.42 101.23C448.32 102.2 448.54 103.17 448.72 104.14C448.89 105.11 449.08 106.08 449.47 107.05C449.86 108.02 450.51 108.99 451.07 109.96C451.64 110.93 452.33 111.9 452.86 112.87C453.39 113.84 453.83 114.81 454.27 115.78C454.71 116.75 455.19 117.72 455.48 118.69C455.78 119.66 455.9 120.63 456.05 121.6C456.2 122.57 456.3 123.54 456.39 124.51C456.47 125.48 456.54 126.45 456.56 127.42C456.58 128.39 456.55 129.36 456.5 130.33C456.44 131.3 456.33 132.27 456.22 133.24C456.1 134.21 455.95 135.18 455.79 136.15C455.63 137.12 455.5 138.09 455.25 139.06C454.99 140.03 454.63 141 454.26 141.97C453.89 142.94 453.44 143.91 453.05 144.88C452.65 145.85 452.28 146.82 451.89 147.79C451.5 148.76 451.1 149.73 450.71 150.7C450.32 151.67 449.94 152.64 449.56 153.61C449.17 154.58 448.68 155.55 448.4 156.52C448.13 157.49 447.99 158.46 447.91 159.43C447.83 160.4 447.91 161.86 447.91 162.34C447.91 161.86 447.99 160.4 447.91 159.43C447.83 158.46 447.69 157.49 447.42 156.52C447.14 155.55 446.65 154.58 446.26 153.61C445.87 152.64 445.49 151.67 445.1 150.7C444.71 149.73 444.31 148.76 443.92 147.79C443.54 146.82 443.17 145.85 442.77 144.88C442.38 143.91 441.92 142.94 441.56 141.97C441.19 141 440.82 140.03 440.57 139.06C440.31 138.09 440.19 137.12 440.02 136.15C439.86 135.18 439.72 134.21 439.6 133.24C439.48 132.27 439.38 131.3 439.32 130.33C439.26 129.36 439.24 128.39 439.26 127.42C439.27 126.45 439.34 125.48 439.43 124.51C439.51 123.54 439.61 122.57 439.76 121.6C439.91 120.63 440.04 119.66 440.33 118.69C440.63 117.72 441.11 116.75 441.55 115.78C441.98 114.81 442.42 113.84 442.96 112.87C443.49 111.9 444.18 110.93 444.74 109.96C445.31 108.99 445.95 108.02 446.34 107.05C446.74 106.08 446.92 105.11 447.1 104.14C447.28 103.17 447.5 102.2 447.4 101.23C447.3 100.26 446.82 99.29 446.52 98.32C446.22 97.35 445.74 96.38 445.59 95.41C445.44 94.44 445.48 93.47 445.63 92.5C445.78 91.53 446.23 90.56 446.5 89.59C446.77 88.62 447.02 87.65 447.25 86.68C447.49 85.71 447.8 84.74 447.91 83.76C448.02 82.79 447.91 81.82 447.91 80.85C447.91 79.88 447.91 78.43 447.91 77.94Z" fill="#fff" stroke="#e1284b" stroke-width="0.9" stroke-linejoin="round"/>
<circle cx="447.91" cy="94.02" r="2.05" fill="#f778bd"/>
<circle cx="447.91" cy="116.44" r="2.05" fill="#f778bd"/>
<circle cx="444.93" cy="129.93" r="2.05" fill="#f778bd"/>
<circle cx="451.06" cy="130.81" r="2.05" fill="#f778bd"/>
<circle cx="444.93" cy="136.41" r="2.05" fill="#f778bd"/>
<circle cx="451.06" cy="135.19" r="2.05" fill="#f778bd"/>
<circle cx="447.91" cy="142.19" r="2.05" fill="#f778bd"/>
<circle cx="447.91" cy="146.22" r="2.05" fill="#f778bd"/>
<line x1="439.25" x2="456.57" y1="128.18" y2="128.18" stroke="#e1284b" stroke-width="0.8"/>
<line x1="440.12" x2="455.69" y1="119.42" y2="119.42" stroke="#e1284b" stroke-width="0.8" stroke-dasharray="1.6 1"/>
<line x1="440.4" x2="455.42" y1="138.34" y2="138.34" stroke="#e1284b" stroke-width="0.8" stroke-dasharray="1.6 1"/>
<path d="M475.94 94.89C475.94 95.3 475.85 96.52 475.94 97.34C476.03 98.15 476.22 98.97 476.46 99.78C476.7 100.6 477.06 101.42 477.37 102.23C477.69 103.05 478.07 103.86 478.34 104.68C478.62 105.49 478.82 106.31 479.01 107.12C479.19 107.94 479.39 108.76 479.46 109.57C479.52 110.39 479.5 111.2 479.41 112.02C479.32 112.83 479.17 113.65 478.92 114.46C478.66 115.28 478.04 116.1 477.87 116.91C477.71 117.73 477.58 118.54 477.92 119.36C478.26 120.17 479.24 120.99 479.91 121.8C480.58 122.62 481.28 123.44 481.94 124.25C482.59 125.07 483.33 125.88 483.85 126.7C484.38 127.51 484.96 128.33 485.09 129.14C485.22 129.96 484.95 130.78 484.65 131.59C484.35 132.41 483.75 133.22 483.29 134.04C482.84 134.85 482.39 135.67 481.94 136.48C481.49 137.3 481.04 138.12 480.61 138.93C480.17 139.75 479.68 140.56 479.32 141.38C478.95 142.19 478.67 143.01 478.4 143.82C478.13 144.64 477.83 145.46 477.71 146.27C477.59 147.09 477.63 147.9 477.67 148.72C477.7 149.53 477.92 150.35 477.92 151.16C477.92 151.98 477.84 152.8 477.66 153.61C477.48 154.43 477.08 155.24 476.86 156.06C476.63 156.87 476.48 157.69 476.33 158.5C476.17 159.32 476 160.14 475.94 160.95C475.87 161.77 475.94 162.58 475.94 163.4C475.94 164.21 475.94 165.44 475.94 165.84C475.94 165.44 475.94 164.21 475.94 163.4C475.94 162.58 476 161.77 475.94 160.95C475.87 160.14 475.71 159.32 475.55 158.5C475.4 157.69 475.24 156.87 475.02 156.06C474.8 155.24 474.4 154.43 474.22 153.61C474.04 152.8 473.96 151.98 473.95 151.16C473.95 150.35 474.17 149.53 474.21 148.72C474.25 147.9 474.29 147.09 474.17 146.27C474.05 145.46 473.75 144.64 473.48 143.82C473.21 143.01 472.93 142.19 472.56 141.38C472.19 140.56 471.71 139.75 471.27 138.93C470.84 138.12 470.39 137.3 469.94 136.48C469.49 135.67 469.04 134.85 468.58 134.04C468.13 133.22 467.53 132.41 467.23 131.59C466.93 130.78 466.66 129.96 466.79 129.14C466.92 128.33 467.5 127.51 468.02 126.7C468.55 125.88 469.29 125.07 469.94 124.25C470.6 123.44 471.3 122.62 471.97 121.8C472.64 120.99 473.62 120.17 473.96 119.36C474.3 118.54 474.17 117.73 474.01 116.91C473.84 116.1 473.22 115.28 472.96 114.46C472.7 113.65 472.56 112.83 472.47 112.02C472.38 111.2 472.36 110.39 472.42 109.57C472.49 108.76 472.69 107.94 472.87 107.12C473.06 106.31 473.26 105.49 473.53 104.68C473.81 103.86 474.19 103.05 474.51 102.23C474.82 101.42 475.18 100.6 475.42 99.78C475.65 98.97 475.85 98.15 475.94 97.34C476.03 96.52 475.94 95.3 475.94 94.89Z" fill="#fff" stroke="#e1284b" stroke-width="0.9" stroke-linejoin="round"/>
<circle cx="475.94" cy="108.91" r="2.05" fill="#f778bd"/>
<circle cx="475.94" cy="112.76" r="2.05" fill="#f778bd"/>
<circle cx="475.94" cy="122.05" r="2.05" fill="#f778bd"/>
<circle cx="468.93" cy="129.58" r="2.05" fill="#f778bd"/>
<circle cx="472.96" cy="128.18" r="2.05" fill="#f778bd"/>
<circle cx="483.47" cy="129.58" r="2.05" fill="#f778bd"/>
<circle cx="479.44" cy="131.16" r="2.05" fill="#f778bd"/>
<circle cx="472.96" cy="136.06" r="2.05" fill="#f778bd"/>
<circle cx="478.74" cy="138.34" r="2.05" fill="#f778bd"/>
<circle cx="475.94" cy="151.83" r="2.05" fill="#f778bd"/>
<line x1="466.75" x2="485.12" y1="129.58" y2="129.58" stroke="#e1284b" stroke-width="0.8"/>
<line x1="473.6" x2="478.28" y1="119.94" y2="119.94" stroke="#e1284b" stroke-width="0.8" stroke-dasharray="1.6 1"/>
<line x1="470.17" x2="481.71" y1="136.94" y2="136.94" stroke="#e1284b" stroke-width="0.8" stroke-dasharray="1.6 1"/>
<path d="M504.15 90.86C504.15 91.34 504.03 92.77 504.15 93.72C504.26 94.67 504.56 95.62 504.82 96.58C505.07 97.53 505.41 98.48 505.69 99.43C505.98 100.39 506.25 101.34 506.51 102.29C506.77 103.24 507.06 104.2 507.24 105.15C507.41 106.1 507.5 107.05 507.55 108.01C507.6 108.96 507.55 109.91 507.55 110.86C507.55 111.82 507.53 112.77 507.55 113.72C507.57 114.67 507.55 115.63 507.67 116.58C507.78 117.53 507.93 118.48 508.25 119.44C508.58 120.39 509.11 121.34 509.61 122.29C510.11 123.25 510.79 124.2 511.24 125.15C511.7 126.1 512.01 127.06 512.34 128.01C512.67 128.96 513.04 129.91 513.24 130.87C513.43 131.82 513.49 132.77 513.5 133.72C513.5 134.68 513.36 135.63 513.25 136.58C513.14 137.53 513 138.49 512.83 139.44C512.65 140.39 512.45 141.34 512.18 142.3C511.91 143.25 511.58 144.2 511.23 145.15C510.88 146.11 510.52 147.06 510.06 148.01C509.6 148.96 508.96 149.92 508.48 150.87C507.99 151.82 507.51 152.77 507.15 153.73C506.79 154.68 506.55 155.63 506.31 156.58C506.06 157.54 505.86 158.49 505.69 159.44C505.52 160.39 505.41 161.35 505.28 162.3C505.15 163.25 505.09 164.2 504.91 165.16C504.72 166.11 504.27 167.06 504.15 168.01C504.02 168.97 504.15 169.92 504.15 170.87C504.15 171.82 504.15 173.25 504.15 173.73C504.15 173.25 504.15 171.82 504.15 170.87C504.15 169.92 504.27 168.97 504.15 168.01C504.02 167.06 503.57 166.11 503.38 165.16C503.2 164.2 503.14 163.25 503.01 162.3C502.88 161.35 502.77 160.39 502.6 159.44C502.43 158.49 502.23 157.54 501.98 156.58C501.74 155.63 501.5 154.68 501.14 153.73C500.78 152.77 500.3 151.82 499.81 150.87C499.33 149.92 498.69 148.96 498.23 148.01C497.77 147.06 497.41 146.11 497.06 145.15C496.71 144.2 496.38 143.25 496.11 142.3C495.85 141.34 495.64 140.39 495.46 139.44C495.29 138.49 495.15 137.53 495.04 136.58C494.93 135.63 494.79 134.68 494.79 133.72C494.8 132.77 494.86 131.82 495.06 130.87C495.25 129.91 495.62 128.96 495.95 128.01C496.29 127.06 496.59 126.1 497.05 125.15C497.5 124.2 498.18 123.25 498.68 122.29C499.18 121.34 499.71 120.39 500.04 119.44C500.36 118.48 500.51 117.53 500.62 116.58C500.74 115.63 500.72 114.67 500.74 113.72C500.76 112.77 500.74 111.82 500.74 110.86C500.74 109.91 500.69 108.96 500.74 108.01C500.79 107.05 500.88 106.1 501.05 105.15C501.23 104.2 501.52 103.24 501.78 102.29C502.04 101.34 502.31 100.39 502.6 99.43C502.88 98.48 503.22 97.53 503.47 96.58C503.73 95.62 504.03 94.67 504.15 93.72C504.26 92.77 504.15 91.34 504.15 90.86Z" fill="#fff" stroke="#e1284b" stroke-width="0.9" stroke-linejoin="round"/>
<circle cx="504.15" cy="107.15" r="2.05" fill="#f778bd"/>
<circle cx="504.15" cy="114.69" r="2.05" fill="#f778bd"/>
<circle cx="500.99" cy="129.58" r="2.05" fill="#f778bd"/>
<circle cx="507.47" cy="127.3" r="2.05" fill="#f778bd"/>
<circle cx="500.99" cy="142.19" r="2.05" fill="#f778bd"/>
<circle cx="507.47" cy="140.44" r="2.05" fill="#f778bd"/>
<circle cx="504.15" cy="146.05" r="2.05" fill="#f778bd"/>
<circle cx="504.15" cy="157.08" r="2.05" fill="#f778bd"/>
<circle cx="508.88" cy="132.56" r="2.05" fill="#f778bd"/>
<line x1="494.78" x2="513.51" y1="133.08" y2="133.08" stroke="#e1284b" stroke-width="0.8"/>
<line x1="497.75" x2="510.54" y1="123.8" y2="123.8" stroke="#e1284b" stroke-width="0.8" stroke-dasharray="1.6 1"/>
<line x1="496.35" x2="511.94" y1="143.07" y2="143.07" stroke="#e1284b" stroke-width="0.8" stroke-dasharray="1.6 1"/>
<path d="M532.48 43.9C532.48 44.63 532.42 46.82 532.48 48.28C532.54 49.74 532.65 51.2 532.83 52.66C533.02 54.13 533.33 55.59 533.59 57.05C533.85 58.51 534.24 59.97 534.4 61.43C534.56 62.89 534.7 64.35 534.55 65.81C534.41 67.28 533.82 68.74 533.52 70.2C533.23 71.66 532.97 73.12 532.8 74.58C532.62 76.04 532.53 77.5 532.48 78.97C532.43 80.43 532.48 81.89 532.48 83.35C532.48 84.81 532.48 86.27 532.48 87.73C532.48 89.19 532.48 90.65 532.48 92.12C532.48 93.58 532.48 95.04 532.48 96.5C532.48 97.96 532.39 99.42 532.48 100.88C532.57 102.34 532.7 103.8 533.03 105.27C533.36 106.73 533.82 108.19 534.46 109.65C535.11 111.11 536.15 112.57 536.89 114.03C537.62 115.49 538.27 116.96 538.85 118.42C539.43 119.88 540.03 121.34 540.39 122.8C540.75 124.26 540.86 125.72 541 127.18C541.14 128.64 541.29 130.11 541.22 131.57C541.15 133.03 540.8 134.49 540.59 135.95C540.39 137.41 540.16 138.87 540 140.33C539.83 141.79 539.77 143.26 539.6 144.72C539.43 146.18 539.25 147.64 538.97 149.1C538.68 150.56 538.42 152.02 537.89 153.48C537.36 154.95 536.43 156.41 535.79 157.87C535.15 159.33 534.53 160.79 534.05 162.25C533.56 163.71 533.16 165.17 532.9 166.63C532.64 168.1 532.55 170.29 532.48 171.02C532.41 170.29 532.32 168.1 532.06 166.63C531.8 165.17 531.4 163.71 530.92 162.25C530.43 160.79 529.81 159.33 529.17 157.87C528.53 156.41 527.6 154.95 527.07 153.48C526.54 152.02 526.28 150.56 525.99 149.1C525.71 147.64 525.53 146.18 525.36 144.72C525.19 143.26 525.13 141.79 524.97 140.33C524.8 138.87 524.57 137.41 524.37 135.95C524.17 134.49 523.81 133.03 523.74 131.57C523.67 130.11 523.82 128.64 523.96 127.18C524.1 125.72 524.22 124.26 524.57 122.8C524.93 121.34 525.53 119.88 526.11 118.42C526.7 116.96 527.35 115.49 528.08 114.03C528.81 112.57 529.86 111.11 530.5 109.65C531.14 108.19 531.61 106.73 531.94 105.27C532.27 103.8 532.39 102.34 532.48 100.88C532.57 99.42 532.48 97.96 532.48 96.5C532.48 95.04 532.48 93.58 532.48 92.12C532.48 90.65 532.48 89.19 532.48 87.73C532.48 86.27 532.48 84.81 532.48 83.35C532.48 81.89 532.53 80.43 532.48 78.97C532.43 77.5 532.34 76.04 532.17 74.58C531.99 73.12 531.73 71.66 531.44 70.2C531.14 68.74 530.56 67.28 530.41 65.81C530.26 64.35 530.4 62.89 530.56 61.43C530.73 59.97 531.11 58.51 531.37 57.05C531.63 55.59 531.94 54.13 532.13 52.66C532.31 51.2 532.42 49.74 532.48 48.28C532.54 46.82 532.48 44.63 532.48 43.9Z" fill="#fff" stroke="#e1284b" stroke-width="0.9" stroke-linejoin="round"/>
<circle cx="532.48" cy="64.74" r="2.05" fill="#f778bd"/>
<circle cx="532.48" cy="115.84" r="2.05" fill="#f778bd"/>
<circle cx="528.8" cy="124.01" r="2.05" fill="#f778bd"/>
<circle cx="536.16" cy="125.44" r="2.05" fill="#f778bd"/>
<circle cx="528.8" cy="132.19" r="2.05" fill="#f778bd"/>
<circle cx="536.16" cy="133.21" r="2.05" fill="#f778bd"/>
<circle cx="528.8" cy="146.49" r="2.05" fill="#f778bd"/>
<circle cx="536.16" cy="147.51" r="2.05" fill="#f778bd"/>
<circle cx="529.42" cy="149.97" r="2.05" fill="#f778bd"/>
<circle cx="532.48" cy="140.36" r="2.05" fill="#f778bd"/>
<line x1="523.73" x2="541.23" y1="131.16" y2="131.16" stroke="#e1284b" stroke-width="0.8"/>
<line x1="524.68" x2="540.28" y1="122.38" y2="122.38" stroke="#e1284b" stroke-width="0.8" stroke-dasharray="1.6 1"/>
<line x1="525.57" x2="539.39" y1="146.49" y2="146.49" stroke="#e1284b" stroke-width="0.8" stroke-dasharray="1.6 1"/>
<path d="M560.48 67.2C560.48 67.73 560.4 69.35 560.48 70.42C560.56 71.5 560.77 72.58 560.98 73.65C561.2 74.73 561.52 75.8 561.76 76.88C562 77.95 562.37 79.03 562.43 80.11C562.49 81.18 562.3 82.26 562.11 83.33C561.91 84.41 561.52 85.49 561.25 86.56C560.98 87.64 560.61 88.71 560.48 89.79C560.35 90.87 560.48 91.94 560.48 93.02C560.48 94.09 560.48 95.17 560.48 96.25C560.48 97.32 560.48 98.4 560.48 99.47C560.48 100.55 560.48 101.62 560.48 102.7C560.48 103.78 560.4 104.85 560.48 105.93C560.56 107 560.63 108.08 560.94 109.16C561.26 110.23 561.83 111.31 562.37 112.38C562.92 113.46 563.59 114.54 564.21 115.61C564.83 116.69 565.53 117.76 566.07 118.84C566.62 119.91 567.05 120.99 567.5 122.07C567.96 123.14 568.48 124.22 568.8 125.29C569.12 126.37 569.48 127.45 569.43 128.52C569.38 129.6 568.96 130.67 568.5 131.75C568.05 132.83 567.18 133.9 566.7 134.98C566.22 136.05 565.92 137.13 565.61 138.21C565.29 139.28 565.09 140.36 564.83 141.43C564.58 142.51 564.33 143.58 564.06 144.66C563.8 145.74 563.54 146.81 563.25 147.89C562.95 148.96 562.68 150.04 562.3 151.12C561.93 152.19 561.31 153.27 561.01 154.34C560.71 155.42 560.57 156.5 560.48 157.57C560.39 158.65 560.48 160.26 560.48 160.8C560.48 160.26 560.57 158.65 560.48 157.57C560.39 156.5 560.25 155.42 559.95 154.34C559.65 153.27 559.03 152.19 558.66 151.12C558.29 150.04 558.01 148.96 557.71 147.89C557.42 146.81 557.16 145.74 556.9 144.66C556.63 143.58 556.38 142.51 556.13 141.43C555.87 140.36 555.67 139.28 555.36 138.21C555.04 137.13 554.74 136.05 554.26 134.98C553.78 133.9 552.91 132.83 552.46 131.75C552 130.67 551.58 129.6 551.53 128.52C551.48 127.45 551.84 126.37 552.16 125.29C552.48 124.22 553.01 123.14 553.46 122.07C553.92 120.99 554.34 119.91 554.89 118.84C555.44 117.76 556.13 116.69 556.75 115.61C557.37 114.54 558.04 113.46 558.59 112.38C559.13 111.31 559.7 110.23 560.02 109.16C560.33 108.08 560.4 107 560.48 105.93C560.56 104.85 560.48 103.78 560.48 102.7C560.48 101.62 560.48 100.55 560.48 99.47C560.48 98.4 560.48 97.32 560.48 96.25C560.48 95.17 560.48 94.09 560.48 93.02C560.48 91.94 560.61 90.87 560.48 89.79C560.35 88.71 559.98 87.64 559.71 86.56C559.44 85.49 559.05 84.41 558.85 83.33C558.66 82.26 558.47 81.18 558.53 80.11C558.59 79.03 558.96 77.95 559.2 76.88C559.44 75.8 559.76 74.73 559.98 73.65C560.19 72.58 560.4 71.5 560.48 70.42C560.56 69.35 560.48 67.73 560.48 67.2Z" fill="#fff" stroke="#e1284b" stroke-width="0.9" stroke-linejoin="round"/>
<circle cx="560.48" cy="81.09" r="2.05" fill="#f778bd"/>
<circle cx="560.48" cy="118.29" r="2.05" fill="#f778bd"/>
<circle cx="552.51" cy="127.08" r="2.05" fill="#f778bd"/>
<circle cx="568.45" cy="126.06" r="2.05" fill="#f778bd"/>
<circle cx="557.01" cy="122.99" r="2.05" fill="#f778bd"/>
<circle cx="564.16" cy="132.19" r="2.05" fill="#f778bd"/>
<circle cx="560.48" cy="136.27" r="2.05" fill="#f778bd"/>
<circle cx="560.48" cy="142" r="2.05" fill="#f778bd"/>
<circle cx="560.48" cy="146.08" r="2.05" fill="#f778bd"/>
<line x1="551.53" x2="569.43" y1="128.71" y2="128.71" stroke="#e1284b" stroke-width="0.8"/>
<line x1="553.78" x2="567.18" y1="121.35" y2="121.35" stroke="#e1284b" stroke-width="0.8" stroke-dasharray="1.6 1"/>
<line x1="555.11" x2="565.85" y1="137.3" y2="137.3" stroke="#e1284b" stroke-width="0.8" stroke-dasharray="1.6 1"/>
<path d="M588.68 101.12C588.68 101.52 588.6 102.73 588.68 103.53C588.76 104.34 588.9 105.14 589.16 105.94C589.42 106.75 589.78 107.55 590.24 108.35C590.7 109.16 591.32 109.96 591.9 110.76C592.48 111.57 593.2 112.37 593.73 113.17C594.26 113.98 594.73 114.78 595.09 115.58C595.45 116.39 595.64 117.19 595.89 117.99C596.14 118.8 596.39 119.6 596.6 120.4C596.8 121.21 597 122.01 597.13 122.81C597.27 123.62 597.39 124.42 597.41 125.22C597.43 126.03 597.4 126.83 597.23 127.63C597.07 128.44 596.71 129.24 596.42 130.04C596.13 130.85 595.8 131.65 595.5 132.45C595.2 133.26 594.91 134.06 594.59 134.86C594.28 135.67 593.94 136.47 593.6 137.27C593.27 138.08 592.95 138.88 592.6 139.69C592.25 140.49 591.89 141.29 591.51 142.1C591.13 142.9 590.64 143.7 590.34 144.51C590.03 145.31 589.82 146.11 589.69 146.92C589.56 147.72 589.55 148.52 589.54 149.33C589.52 150.13 589.43 150.93 589.58 151.74C589.72 152.54 590.2 153.34 590.38 154.15C590.56 154.95 590.67 155.75 590.66 156.56C590.65 157.36 590.46 158.16 590.32 158.97C590.18 159.77 589.97 160.57 589.8 161.38C589.63 162.18 589.48 162.98 589.3 163.79C589.11 164.59 588.79 165.39 588.68 166.2C588.58 167 588.68 167.8 588.68 168.61C588.68 169.41 588.68 170.62 588.68 171.02C588.68 170.62 588.68 169.41 588.68 168.61C588.68 167.8 588.79 167 588.68 166.2C588.58 165.39 588.26 164.59 588.07 163.79C587.89 162.98 587.74 162.18 587.57 161.38C587.4 160.57 587.19 159.77 587.05 158.97C586.9 158.16 586.72 157.36 586.71 156.56C586.7 155.75 586.8 154.95 586.98 154.15C587.17 153.34 587.65 152.54 587.79 151.74C587.93 150.93 587.85 150.13 587.83 149.33C587.81 148.52 587.81 147.72 587.68 146.92C587.55 146.11 587.34 145.31 587.03 144.51C586.73 143.7 586.23 142.9 585.86 142.1C585.48 141.29 585.12 140.49 584.77 139.69C584.42 138.88 584.1 138.08 583.76 137.27C583.43 136.47 583.09 135.67 582.77 134.86C582.46 134.06 582.17 133.26 581.87 132.45C581.56 131.65 581.24 130.85 580.95 130.04C580.66 129.24 580.3 128.44 580.14 127.63C579.97 126.83 579.94 126.03 579.96 125.22C579.98 124.42 580.1 123.62 580.24 122.81C580.37 122.01 580.56 121.21 580.77 120.4C580.98 119.6 581.23 118.8 581.48 117.99C581.73 117.19 581.92 116.39 582.28 115.58C582.64 114.78 583.11 113.98 583.64 113.17C584.17 112.37 584.89 111.57 585.47 110.76C586.05 109.96 586.67 109.16 587.13 108.35C587.59 107.55 587.95 106.75 588.21 105.94C588.47 105.14 588.6 104.34 588.68 103.53C588.76 102.73 588.68 101.52 588.68 101.12Z" fill="#fff" stroke="#e1284b" stroke-width="0.9" stroke-linejoin="round"/>
<circle cx="585.21" cy="114.82" r="2.05" fill="#f778bd"/>
<circle cx="591.75" cy="116.86" r="2.05" fill="#f778bd"/>
<circle cx="585.21" cy="126.06" r="2.05" fill="#f778bd"/>
<circle cx="591.75" cy="122.99" r="2.05" fill="#f778bd"/>
<circle cx="588.68" cy="132.19" r="2.05" fill="#f778bd"/>
<circle cx="591.75" cy="138.32" r="2.05" fill="#f778bd"/>
<circle cx="585.62" cy="136.27" r="2.05" fill="#f778bd"/>
<circle cx="588.68" cy="155.08" r="2.05" fill="#f778bd"/>
<line x1="579.94" x2="597.43" y1="126.06" y2="126.06" stroke="#e1284b" stroke-width="0.8"/>
<line x1="580.79" x2="596.58" y1="120.33" y2="120.33" stroke="#e1284b" stroke-width="0.8" stroke-dasharray="1.6 1"/>
<line x1="583.77" x2="593.59" y1="137.3" y2="137.3" stroke="#e1284b" stroke-width="0.8" stroke-dasharray="1.6 1"/>
<path d="M616.68 52.48C616.68 53.04 616.62 54.71 616.68 55.83C616.74 56.94 616.85 58.06 617.03 59.18C617.22 60.29 617.52 61.41 617.78 62.52C618.05 63.64 618.57 64.76 618.63 65.87C618.69 66.99 618.38 68.1 618.15 69.22C617.91 70.33 617.44 71.45 617.2 72.57C616.95 73.68 616.77 74.8 616.68 75.91C616.6 77.03 616.68 78.15 616.68 79.26C616.68 80.38 616.68 81.49 616.68 82.61C616.68 83.72 616.68 84.84 616.68 85.96C616.68 87.07 616.68 88.19 616.68 89.3C616.68 90.42 616.68 91.54 616.68 92.65C616.68 93.77 616.68 94.88 616.68 96C616.68 97.11 616.68 98.23 616.68 99.35C616.68 100.46 616.52 101.58 616.68 102.69C616.85 103.81 617.12 104.93 617.69 106.04C618.25 107.16 619.14 108.27 620.05 109.39C620.97 110.5 622.25 111.62 623.2 112.74C624.14 113.85 625.38 114.97 625.7 116.08C626.02 117.2 625.47 118.32 625.09 119.43C624.72 120.55 623.96 121.66 623.44 122.78C622.91 123.89 622.23 125.01 621.95 126.13C621.66 127.24 621.81 128.36 621.73 129.47C621.65 130.59 621.65 131.71 621.46 132.82C621.28 133.94 620.98 135.05 620.64 136.17C620.29 137.28 619.9 138.4 619.41 139.52C618.92 140.63 618.17 141.75 617.71 142.86C617.26 143.98 616.85 145.1 616.68 146.21C616.51 147.33 616.68 149 616.68 149.56C616.68 149 616.85 147.33 616.68 146.21C616.51 145.1 616.11 143.98 615.65 142.86C615.2 141.75 614.44 140.63 613.96 139.52C613.47 138.4 613.07 137.28 612.73 136.17C612.39 135.05 612.08 133.94 611.9 132.82C611.72 131.71 611.72 130.59 611.64 129.47C611.56 128.36 611.7 127.24 611.42 126.13C611.13 125.01 610.46 123.89 609.93 122.78C609.41 121.66 608.65 120.55 608.27 119.43C607.9 118.32 607.35 117.2 607.67 116.08C607.98 114.97 609.23 113.85 610.17 112.74C611.11 111.62 612.39 110.5 613.31 109.39C614.23 108.27 615.12 107.16 615.68 106.04C616.24 104.93 616.52 103.81 616.68 102.69C616.85 101.58 616.68 100.46 616.68 99.35C616.68 98.23 616.68 97.11 616.68 96C616.68 94.88 616.68 93.77 616.68 92.65C616.68 91.54 616.68 90.42 616.68 89.3C616.68 88.19 616.68 87.07 616.68 85.96C616.68 84.84 616.68 83.72 616.68 82.61C616.68 81.49 616.68 80.38 616.68 79.26C616.68 78.15 616.77 77.03 616.68 75.91C616.6 74.8 616.41 73.68 616.17 72.57C615.92 71.45 615.46 70.33 615.22 69.22C614.98 68.1 614.68 66.99 614.74 65.87C614.8 64.76 615.32 63.64 615.58 62.52C615.85 61.41 616.15 60.29 616.33 59.18C616.52 58.06 616.62 56.94 616.68 55.83C616.74 54.71 616.68 53.04 616.68 52.48Z" fill="#fff" stroke="#3b6cf2" stroke-width="0.9" stroke-linejoin="round"/>
<circle cx="616.68" cy="66.79" r="2.05" fill="#a6dcfa"/>
<circle cx="609.12" cy="114.82" r="2.05" fill="#a6dcfa"/>
<circle cx="624.45" cy="114.82" r="2.05" fill="#a6dcfa"/>
<circle cx="609.12" cy="118.9" r="2.05" fill="#a6dcfa"/>
<circle cx="624.45" cy="117.88" r="2.05" fill="#a6dcfa"/>
<circle cx="613.21" cy="131.16" r="2.05" fill="#a6dcfa"/>
<circle cx="620.36" cy="131.16" r="2.05" fill="#a6dcfa"/>
<circle cx="616.68" cy="134.84" r="2.05" fill="#a6dcfa"/>
<line x1="608.22" x2="625.15" y1="119.31" y2="119.31" stroke="#3b6cf2" stroke-width="0.8"/>
<line x1="608.86" x2="624.51" y1="114.2" y2="114.2" stroke="#3b6cf2" stroke-width="0.8" stroke-dasharray="1.6 1"/>
<line x1="611.73" x2="621.64" y1="131.16" y2="131.16" stroke="#3b6cf2" stroke-width="0.8" stroke-dasharray="1.6 1"/>
<polyline points="419.53,129.58 447.91,128.18 475.94,129.58 504.15,133.08 532.48,131.16 560.48,128.71 588.68,126.06 616.68,119.31" fill="none" stroke="#ee4466" stroke-width="0.65"/>
<path d="M419.5 120.64V136.94M417.2 120.64H421.8M417.2 136.94H421.8" stroke="#b8142e" stroke-width="0.9" fill="none"/>
<rect x="417.8" y="127.88" width="3.4" height="3.4" rx="0.7" fill="#dc0a3c"/>
<path d="M448.5 119.42V138.34M446.2 119.42H450.8M446.2 138.34H450.8" stroke="#b8142e" stroke-width="0.9" fill="none"/>
<rect x="446.8" y="126.48" width="3.4" height="3.4" rx="0.7" fill="#dc0a3c"/>
<path d="M476.5 119.42V136.94M474.2 119.42H478.8M474.2 136.94H478.8" stroke="#b8142e" stroke-width="0.9" fill="none"/>
<rect x="474.8" y="127.88" width="3.4" height="3.4" rx="0.7" fill="#dc0a3c"/>
<path d="M504.5 123.8V143.07M502.2 123.8H506.8M502.2 143.07H506.8" stroke="#b8142e" stroke-width="0.9" fill="none"/>
<rect x="502.8" y="131.38" width="3.4" height="3.4" rx="0.7" fill="#dc0a3c"/>
<path d="M532.5 122.38V146.49M530.2 122.38H534.8M530.2 146.49H534.8" stroke="#b8142e" stroke-width="0.9" fill="none"/>
<rect x="530.8" y="129.46" width="3.4" height="3.4" rx="0.7" fill="#dc0a3c"/>
<path d="M560.5 121.35V137.3M558.2 121.35H562.8M558.2 137.3H562.8" stroke="#b8142e" stroke-width="0.9" fill="none"/>
<rect x="558.8" y="127.01" width="3.4" height="3.4" rx="0.7" fill="#dc0a3c"/>
<path d="M589.5 120.33V137.3M587.2 120.33H591.8M587.2 137.3H591.8" stroke="#b8142e" stroke-width="0.9" fill="none"/>
<rect x="587.8" y="124.36" width="3.4" height="3.4" rx="0.7" fill="#dc0a3c"/>
<path d="M617.5 114.2V131.16M615.2 114.2H619.8M615.2 131.16H619.8" stroke="#1a48e6" stroke-width="0.9" fill="none"/>
<rect x="615.8" y="117.61" width="3.4" height="3.4" rx="0.7" fill="#1a48e6"/>
</g>
<g id="panelC">
<text x="18.5" y="241.2" font-size="14.3" text-anchor="start">C</text>
<rect x="44.4" y="256.2" width="58.9" height="133.3" fill="#fbd0e8"/>
<rect x="535.3" y="256.2" width="30" height="133.3" fill="#84c4fb"/>
<rect x="565.3" y="256.2" width="76.8" height="133.3" fill="#fbd0e8"/>
<polyline points="44.38,310.5 47.88,311.9 52.26,312.78 56.64,310.67 59.27,312.25 62.78,311.02 64.53,310.5 67.15,311.9 70.66,310.5 74.16,311.02 77.67,314.53 82.4,320.31 85.9,313.65 88.18,311.37 91.68,311.9 94.31,311.02 97.81,310.5 101.32,311.55 103.42,311.9 107.45,313.65 110.95,312.42 115.33,315.05 120.59,314.53 124.97,312.78 130.22,311.37 136.36,311.02 140.74,310.5 145.12,311.37 150.37,310.15 154.75,310.15 155.26,310.32 158.76,310.15 161.39,311.55 166.64,311.55 168.4,310.15 171.02,311.55 176.28,313.65 179.78,315.4 182.41,314.18 185.91,311.37 190.29,310.67 192.92,309.27 195.55,308.4 198.18,310.5 200.81,309.27 202.56,308.04 205.19,309.27 208.69,309.27 211.32,308.04 213.95,308.92 216.57,310.67 219.2,309.62 221.83,310.67 226.21,310.15 229.71,308.4 232.34,309.8 235.84,311.37 239.35,311.37 242.85,312.42 246.36,311.37 249.86,309.62 253.36,310.67 256.87,309.27 263.88,309.27 265.26,309.1 267.01,308.92 272.26,309.62 276.64,310.67 280.15,309.62 282.78,309.62 286.28,309.27 288.91,310.67 291.53,312.42 295.91,312.42 299.42,310.5 302.92,309.8 306.43,309.8 309.05,307.17 311.16,306.64 313.43,308.04 317.81,308.92 320.44,308.04 327.45,308.04 330.08,310.15 333.58,309.27 337.08,310.5 342.34,310.5 344.97,309.27 348.47,310.15 351.98,311.9 354.6,312.78 358.11,311.9 361.61,309.62 365.12,310.5 369.5,309.27 373.88,310.5 375.26,309.97 377.01,309.27 380.51,310.5 384.89,310.5 387.52,309.27 391.02,311.37 394.53,309.27 397.15,308.4 399.78,309.8 402.41,311.37 405.04,309.8 407.67,311.37 409.42,312.42 412.92,309.8 415.55,310.5 418.18,309.62 420.81,311.37 424.31,309.8 428.69,310.5 432.19,310.5 434.82,309.27 438.33,310.5 440.95,309.27 442.7,308.4 447.08,311.37 449.71,311.02 453.22,309.62 455.84,311.37 459.35,309.27 462.85,309.62 466.01,311.37 468.98,310.15 470.74,308.92 473.36,310.67 475.12,310.15 476.87,311.37 479.5,311.37 484.75,313.13 485.26,312.42 487.01,311.37 490.51,312.42 494.89,310.5 497.52,311.9 502.78,312.42 507.15,310.5 509.78,311.9 516.79,311.37 519.42,310.15 520.64,311.37 522.92,310.15 525.9,312.42 529.93,311.9 536.06,311.9 538.69,311.37 540.44,312.42 542.19,316.28 543.95,311.9 545.7,305.77 547.45,304.89 549.2,301.91 550.95,308.4 552.7,311.37 554.46,312.78 557.08,311.55 560.59,311.9 564.09,310.5 566.72,311.37 568.2,309.88 571.39,312.43 577.78,312.86 579.91,312.01 582.04,314.14 585.24,311.37 588.43,313.07 592.69,312.43 598.02,312.43 600.15,313.5 604.41,312.43 607.61,314.14 610.8,312.43 615.06,313.07 617.19,312.01 621.46,312.01 624.65,313.07 631.04,313.07 637.43,313.5 641.69,313.92" fill="none" stroke="#f02a36" stroke-width="1.25" stroke-linejoin="round"/>
<polyline points="44.38,360.43 50.51,360.43 52.26,384.25 57.17,384.25 58.92,376.72 61.02,373.22 66.28,373.22 67.68,370.94 77.67,370.94 78.89,368.31 81.17,368.31 82.4,365.68 87.3,365.68 89.05,374.09 90.46,378.47 92.56,375.84 94.66,373.22 97.81,373.22 99.22,370.94 103.42,370.59 105.7,367.08 110.08,362.18 113.58,367.08 118.31,377.95 120.94,374.09 124.09,373.22 125.49,370.94 141.61,370.94 143.01,368.31 144.77,370.94 145.99,368.84 147.74,370.94 151.25,370.94 152.47,368.84 153.88,370.94 155.26,368.84 156.66,370.94 161.39,370.94 162.61,368.31 164.37,370.94 167.52,370.94 168.92,368.31 170.67,370.94 173.65,370.94 175.4,373.57 177.15,373.57 178.56,376.19 182.94,376.19 184.69,373.57 185.91,370.94 188.54,370.94 189.94,368.31 191.17,368.31 192.4,365.68 209.92,365.68 211.32,368.31 230.24,368.31 231.46,370.94 232.69,370.94 234.09,368.31 235.49,370.94 236.72,370.94 238.12,368.31 239.7,370.94 241.45,370.94 242.85,373.57 245.48,373.57 246.71,370.94 253.36,370.94 254.77,368.31 263,368.31 263.88,366.21 265.26,368.31 268.41,368.31 269.64,365.68 289.78,365.68 291.18,362.7 292.94,364.46 295.04,368.31 296.79,365.68 300.64,365.68 302.05,363.06 305.55,363.06 306.95,360.43 323.42,360.43 324.82,357.45 326.57,357.45 327.45,359.55 328.68,357.45 330.95,357.45 332.18,360.08 333.58,357.8 334.98,357.8 336.21,360.43 338.84,364.98 340.24,363.06 341.46,364.98 342.69,362.7 347.6,362.7 349.35,365.33 351.98,365.33 355.48,370.94 359.51,370.94 361.61,365.68 363.36,365.33 364.77,362.7 372.12,362.7 373.88,360.08 375.61,363.06 378.41,363.06 379.64,360.43 381.39,363.06 385.77,363.06 387.17,360.43 388.92,363.06 390.67,360.43 394.53,360.43 395.75,362.7 396.63,370.06 397.33,365.68 398.91,368.31 400.66,365.68 407.67,365.68 409.42,368.31 411.17,368.31 413.45,373.22 415.9,368.31 418.18,368.31 421.68,362.7 429.22,362.7 430.44,360.43 465.48,360.43 467.23,363.06 468.98,363.06 470.21,360.43 472.49,364.46 474.59,367.44 477.74,363.06 481.25,363.06 482.47,360.43 484.75,360.43 485.26,360.43 490.51,360.43 491.91,357.45 493.67,357.45 494.89,360.08 496.64,357.45 498.4,360.43 502.42,360.43 503.65,357.45 505.4,357.45 506.63,360.43 511.18,360.43 512.41,357.45 513.64,360.43 538.69,360.43 541.32,356.57 543.07,349.57 544.82,339.05 545.7,336.08 547.45,340.81 549.73,341.68 551.83,348.69 553.23,351.32 555.33,346.94 557.08,349.92 559.71,352.19 564.44,352.54 565.84,360.08 567.07,352.54 568.2,355.04 571.39,355.04 573.1,352.48 574.59,355.04 579.91,355.04 581.62,356.74 583.11,355.04 586.3,360.37 588.43,357.6 592.69,357.6 594.83,360.37 596.96,360.37 600.15,365.27 601.64,362.92 613.57,362.92 615.06,360.79 616.56,362.92 641.69,362.92" fill="none" stroke="#2450f0" stroke-width="1.25" stroke-linejoin="round"/>
<line x1="103.3" x2="103.3" y1="256.2" y2="389.5" stroke="#000" stroke-width="1.05" stroke-dasharray="1.85 0.95"/>
<line x1="535.3" x2="535.3" y1="256.2" y2="389.5" stroke="#000" stroke-width="1.05" stroke-dasharray="1.85 0.95"/>
<line x1="565.3" x2="565.3" y1="256.2" y2="389.5" stroke="#000" stroke-width="1.05" stroke-dasharray="1.85 0.95"/>
<path d="M44.4 255.9H642.1M44.4 389.5H642.1" fill="none" stroke="#262626" stroke-width="1.1"/>
<line x1="44.4" x2="44.4" y1="256.2" y2="389.5" stroke="#ec1c28" stroke-width="1.2"/>
<line x1="642.1" x2="642.1" y1="256.2" y2="389.5" stroke="#1c3cf0" stroke-width="1.4"/>
<text transform="translate(36.4 260.8) scale(0.96 1)" font-size="13.58" text-anchor="end">150</text>
<text transform="translate(36.4 305.2) scale(0.96 1)" font-size="13.58" text-anchor="end">100</text>
<text transform="translate(36.4 349.6) scale(0.96 1)" font-size="13.58" text-anchor="end">50</text>
<text transform="translate(36.4 394) scale(0.96 1)" font-size="13.58" text-anchor="end">0</text>
<text transform="translate(650 260.7) scale(0.96 1)" font-size="13.58" text-anchor="start">50</text>
<text transform="translate(650 287.3) scale(0.96 1)" font-size="13.58" text-anchor="start">40</text>
<text transform="translate(650 314) scale(0.96 1)" font-size="13.58" text-anchor="start">30</text>
<text transform="translate(650 340.6) scale(0.96 1)" font-size="13.58" text-anchor="start">20</text>
<text transform="translate(650 367.3) scale(0.96 1)" font-size="13.58" text-anchor="start">10</text>
<text transform="translate(650 393.9) scale(0.96 1)" font-size="13.58" text-anchor="start">0</text>
<path d="M37.7 256.3H44.4M37.7 300.7H44.4M37.7 345.1H44.4M37.7 389.5H44.4M642.1 256.2H647.1M642.1 282.8H647.1M642.1 309.5H647.1M642.1 336.1H647.1M642.1 362.8H647.1M642.1 389.4H647.1" fill="none" stroke="#222" stroke-width="1"/>
<text transform="translate(10 323) rotate(-90) scale(0.93 1)" font-size="13.76" text-anchor="middle">MAP(mmHg)</text>
<text transform="translate(673.7 323.2) rotate(90) scale(0.93 1)" font-size="15.05" text-anchor="middle">ICP(mmHg)</text>
<line x1="113.5" x2="131.4" y1="269.2" y2="269.2" stroke="#f02a36" stroke-width="1.2"/>
<text transform="translate(141.9 274) scale(0.93 1)" font-size="13.65" text-anchor="start">MAP(mmHg)</text>
<line x1="113.5" x2="131.4" y1="288.3" y2="288.3" stroke="#2450f0" stroke-width="1.2"/>
<text transform="translate(141.9 293.1) scale(0.93 1)" font-size="13.65" text-anchor="start">ICP(mmHg)</text>
<text transform="translate(72 402.5) scale(0.93 1)" font-size="11.29" text-anchor="middle">Baseline</text>
<text transform="translate(108 398.1) scale(0.93 1)" font-size="11.29" text-anchor="start">EX40</text><text transform="translate(108 410.4) scale(0.93 1)" font-size="11.29" text-anchor="start">IN40</text>
<text transform="translate(164.1 399) scale(0.93 1)" font-size="11.29" text-anchor="start">EX40</text><text transform="translate(164.1 411.3) scale(0.93 1)" font-size="11.29" text-anchor="start">IN30</text>
<text transform="translate(218.4 399) scale(0.93 1)" font-size="11.29" text-anchor="start">EX40</text><text transform="translate(218.4 410.9) scale(0.93 1)" font-size="11.29" text-anchor="start">IN20</text>
<text transform="translate(284.7 399) scale(0.93 1)" font-size="11.29" text-anchor="start">EX40</text><text transform="translate(284.7 410.9) scale(0.93 1)" font-size="11.29" text-anchor="start">IN10</text>
<text transform="translate(340.7 399) scale(0.93 1)" font-size="11.29" text-anchor="start">IN40</text><text transform="translate(340.7 410.9) scale(0.93 1)" font-size="11.29" text-anchor="start">EX30</text>
<text transform="translate(397.5 399) scale(0.93 1)" font-size="11.29" text-anchor="start">IN40</text><text transform="translate(397.5 410.9) scale(0.93 1)" font-size="11.29" text-anchor="start">EX20</text>
<text transform="translate(461.8 399.6) scale(0.93 1)" font-size="11.29" text-anchor="start">IN40</text><text transform="translate(461.8 411.3) scale(0.93 1)" font-size="11.29" text-anchor="start">EX10</text>
<text transform="translate(514.3 401.9) scale(0.93 1)" font-size="11.29" text-anchor="start">Endotracheal</text><text transform="translate(514.3 414.8) scale(0.93 1)" font-size="11.29" text-anchor="start">Suction</text>
<text transform="translate(604.8 402.3) scale(0.93 1)" font-size="11.29" text-anchor="middle">Baseline</text>
</g>
<g id="panelF">
<text x="15" y="666.6" font-size="14.3" text-anchor="start">F</text>
<rect x="39.5" y="685.7" width="24.3" height="134.4" fill="#fbd0e8"/>
<rect x="606.8" y="685.7" width="16.2" height="134.4" fill="#b9e3f9"/>
<rect x="623" y="685.7" width="24.4" height="134.4" fill="#fbd0e8"/>
<polyline points="39.64,749.27 44.02,749.8 47.52,751.02 49.27,749.62 51.9,750.5 63.29,750.5 65.04,749.8 72.05,749.8 74.67,748.4 76.43,749.27 89.57,749.27 92.19,751.02 94.82,752.25 103.58,752.25 107.08,751.37 108.84,752.25 111.46,751.9 114.97,750.67 117.6,752.25 127.23,752.25 128.98,750.15 131.26,746.29 133.36,748.4 135.12,750.15 139.5,750.67 142.12,751.37 143.88,750.5 145.26,751.02 147.88,749.62 151.39,748.4 155.77,748.92 158.92,748.04 161.9,749.8 164.53,750.15 168.03,752.25 172.41,751.37 175.91,752.25 186.43,752.25 189.05,751.37 192.56,751.37 196.06,752.42 200.44,753.13 203.95,752.42 206.57,752.78 207.97,749.62 210.95,750.15 217.08,751.37 220.24,752.25 223.22,750.67 226.72,751.37 231.1,752.42 235.48,751.37 245.12,751.02 248.62,750.15 252.12,751.02 255.26,750.85 257.01,751.37 259.64,749.27 263.14,751.37 267.52,752.78 271.02,753.13 276.28,751.9 279.43,748.4 281.18,749.27 282.41,748.04 285.04,750.15 289.42,750.67 293.8,751.9 297.3,752.25 299.93,751.37 302.56,752.25 316.57,752.25 318.33,751.37 320.08,752.25 325.33,750.5 328.84,750.67 332.34,752.25 335.84,752.25 339.35,751.37 342.85,751.9 345.48,751.37 349.86,752.25 355.12,752.25 358.27,749.27 360.72,751.02 364.75,748.04 365.26,748.04 367.88,748.4 370.51,749.27 373.67,748.04 377.52,750.67 381.9,751.9 388.03,752.42 391.53,751.37 394.16,752.25 409.05,752.25 410.81,752.78 412.56,752.25 423.07,752.25 426.57,749.62 429.2,751.9 432.7,752.78 437.08,751.37 440.59,752.25 442.34,752.78 444.97,750.15 447.07,748.92 449.35,751.02 451.1,751.9 452.85,751.37 455.48,752.25 465.12,752.25 466.87,752.78 470.72,751.02 473.88,752.25 475.26,752.78 479.64,753.13 483.14,751.37 487.52,752.25 496.28,752.42 499.78,753.3 505.04,753.13 507.67,752.25 511.17,753.13 517.3,751.9 519.93,752.25 523.43,748.92 526.41,747.17 529.57,749.27 533.95,751.9 538.33,753.13 543.58,754.18 548.84,754.88 557.6,754.88 561.1,755.75 566.36,754.88 568.98,755.75 570.18,755.11 572.25,755.52 577.42,754.49 581.57,753.87 585.71,754.49 588.81,753.87 591.92,754.49 598.13,754.9 602.27,754.49 606.42,754.28 608.9,751.8 610.97,744.55 612.21,741.86 613.66,744.96 615.74,746.21 618.43,746.62 619.46,747.24 620.91,737.3 621.95,736.68 622.98,748.28 625.05,749.31 629.2,749.73 631.27,750.76 633.34,749.31 636.44,750.14 643.69,750.35 647.42,749.93" fill="none" stroke="#f02a36" stroke-width="1.25" stroke-linejoin="round"/>
<polyline points="39.64,796.57 44.89,796.22 46.64,795.35 48.4,796.05 51.9,797.1 64.16,797.1 65.56,799.2 66.79,803.58 69.42,806.56 72.05,807.08 79.05,807.08 81.33,808.84 83.43,807.08 85.19,801.83 86.94,799.2 89.57,797.1 93.95,796.22 96.22,794.82 98.33,795.7 101.83,795.7 103.58,796.57 107.08,795.7 109.71,796.22 112.34,795.35 114.97,796.57 118.47,795.35 127.23,795.35 129.86,796.22 132.49,796.22 135.12,795.17 136.87,796.22 138.62,795.7 143.88,796.57 145.26,796.57 147.88,797.1 151.91,797.1 154.02,801.83 156.64,805.68 158.92,807.08 161.02,806.21 164.18,804.46 166.28,799.2 169.78,798.85 172.41,796.05 182.05,796.05 185.9,797.45 189.05,796.57 192.56,796.22 195.71,795.35 197.81,796.57 206.57,796.22 209.2,795.35 213.58,794.82 217.08,795.35 225.84,795.35 227.6,796.22 229.35,795.35 233.73,796.57 235.48,796.22 238.11,796.57 241.61,796.22 245.12,797.1 249.5,796.22 252.12,795.35 254.75,796.57 255.26,797.1 257.88,798.85 260.51,798.85 264.02,797.1 267.52,796.57 274.53,796.57 277.15,796.57 278.56,799.2 280.13,804.46 282.41,806.21 284.69,806.56 286.44,803.58 287.67,799.2 289.42,796.57 292.05,797.45 294.67,796.22 297.3,797.1 300.81,796.22 316.57,796.22 318.68,795.35 320.95,796.22 328.84,796.57 332.34,797.45 334.97,796.57 338.47,796.22 339.7,795.35 341.1,796.22 348.11,796.57 350.74,797.1 352.49,796.22 356.52,796.57 358.27,800.95 360.37,804.46 363,805.86 365.26,806.56 366.13,806.56 367.88,801.83 369.64,795.7 370.51,794.82 373.14,796.22 376.64,796.05 381.02,794.82 384.53,796.22 386.28,795.35 388.91,796.22 394.16,796.22 396.79,795.35 399.42,796.22 401.17,796.22 403.45,794.47 406.43,795.35 409.93,796.22 420.44,796.22 422.19,795.35 423.95,796.22 426.57,796.22 429.2,800.08 431.83,800.6 434.46,797.45 437.08,796.22 439.19,796.22 440.59,801.83 443.22,805.33 445.84,807.08 448.47,806.21 449.7,800.08 451.1,794.82 452.85,792.54 455.48,793.42 458.11,794.82 461.61,795.35 464.24,793.42 466.87,793.95 472.12,795.35 476.13,795.35 480.51,796.22 484.02,797.1 486.64,796.22 494.53,796.22 498.03,798.85 500.66,796.57 502.41,795.35 505.04,796.22 509.42,796.22 511.17,795.35 515.9,796.22 517.65,799.2 519.4,802.7 522.56,806.21 526.06,807.08 530.44,804.98 535.17,804.46 537.45,800.08 540.08,796.05 545.33,795.7 551.46,797.1 555.84,796.22 557.6,795.7 559.35,796.22 568.98,796.4 570.18,796.73 577.42,796.73 580.53,797.36 583.64,796.32 588.81,796.32 590.26,795.28 591.92,796.32 602.27,796.32 605.38,797.36 607.45,795.91 609.52,798.39 611.59,800.46 613.66,803.57 615.74,801.5 618.43,801.5 619.88,806.67 621.33,807.71 622.57,802.53 623.4,796.73 626.09,796.32 629.2,795.7 630.85,795.28 633.34,796.32 637.48,797.36 647.42,796.94" fill="none" stroke="#2450f0" stroke-width="1.25" stroke-linejoin="round"/>
<line x1="63.9" x2="63.9" y1="686.5" y2="820.1" stroke="#262626" stroke-width="1.6" stroke-dasharray="2.4 1.85"/>
<line x1="606.8" x2="606.8" y1="686.5" y2="820.1" stroke="#262626" stroke-width="1.6" stroke-dasharray="2.4 1.85"/>
<line x1="622.9" x2="622.9" y1="686.5" y2="820.1" stroke="#262626" stroke-width="1.6" stroke-dasharray="2.4 1.85"/>
<path d="M39.5 685.4H647.4M39.5 820.1H647.4" fill="none" stroke="#262626" stroke-width="1.1"/>
<line x1="39.5" x2="39.5" y1="685.7" y2="820.1" stroke="#ec1c28" stroke-width="1.2"/>
<line x1="647.4" x2="647.4" y1="685.7" y2="820.1" stroke="#1c3cf0" stroke-width="1.4"/>
<text transform="translate(35.6 689.6) scale(1.03 1)" font-size="11.45" text-anchor="end">150</text>
<text transform="translate(35.6 734.3) scale(1.03 1)" font-size="11.45" text-anchor="end">100</text>
<text transform="translate(35.6 779) scale(1.03 1)" font-size="11.45" text-anchor="end">50</text>
<text transform="translate(35.6 823.7) scale(1.03 1)" font-size="11.45" text-anchor="end">0</text>
<text transform="translate(653.4 689.6) scale(1.03 1)" font-size="11.45" text-anchor="start">50</text>
<text transform="translate(653.4 716.4) scale(1.03 1)" font-size="11.45" text-anchor="start">40</text>
<text transform="translate(653.4 743.3) scale(1.03 1)" font-size="11.45" text-anchor="start">30</text>
<text transform="translate(653.4 770.2) scale(1.03 1)" font-size="11.45" text-anchor="start">20</text>
<text transform="translate(653.4 797.5) scale(1.03 1)" font-size="11.45" text-anchor="start">10</text>
<text transform="translate(653.4 815.9) scale(1.03 1)" font-size="11.45" text-anchor="start">0</text>
<path d="M36.3 685.7H39.5M36.3 730.4H39.5M36.3 775.1H39.5M36.3 819.8H39.5M647.4 685.7H650.6M647.4 712.5H650.6M647.4 739.4H650.6M647.4 766.3H650.6M647.4 793.6H650.6" fill="none" stroke="#222" stroke-width="1"/>
<text transform="translate(10.2 754) rotate(-90) scale(1.06 1)" font-size="12" text-anchor="middle">HR(bpm)</text>
<text transform="translate(675.8 753.9) rotate(90) scale(1.06 1)" font-size="12" text-anchor="middle">RR(rpm)</text>
<line x1="78.3" x2="96.7" y1="698.1" y2="698.1" stroke="#f02a36" stroke-width="1.2"/>
<text transform="translate(107.2 702.6) scale(1.06 1)" font-size="12" text-anchor="start">HR(bpm)</text>
<line x1="78.3" x2="96.7" y1="712.6" y2="712.6" stroke="#2450f0" stroke-width="1.2"/>
<text transform="translate(107.2 717.3) scale(1.06 1)" font-size="12" text-anchor="start">RR(rpm)</text>
<text transform="translate(54.3 832.1) scale(0.93 1)" font-size="11.29" text-anchor="middle">Baseline</text>
<text transform="translate(76.7 829.9) scale(0.93 1)" font-size="11.29" text-anchor="start">EX40</text><text transform="translate(76.7 841.8) scale(0.93 1)" font-size="11.29" text-anchor="start">IN40</text>
<text transform="translate(147.1 829.9) scale(0.93 1)" font-size="11.29" text-anchor="start">EX40</text><text transform="translate(147.1 841.8) scale(0.93 1)" font-size="11.29" text-anchor="start">IN30</text>
<text transform="translate(205.7 829.9) scale(0.93 1)" font-size="11.29" text-anchor="start">EX40</text><text transform="translate(205.7 841.8) scale(0.93 1)" font-size="11.29" text-anchor="start">IN20</text>
<text transform="translate(270.7 829.9) scale(0.93 1)" font-size="11.29" text-anchor="start">EX40</text><text transform="translate(270.7 841.8) scale(0.93 1)" font-size="11.29" text-anchor="start">IN10</text>
<text transform="translate(356.3 829.9) scale(0.93 1)" font-size="11.29" text-anchor="start">IN40</text><text transform="translate(356.3 841.8) scale(0.93 1)" font-size="11.29" text-anchor="start">EX30</text>
<text transform="translate(428.7 829.9) scale(0.93 1)" font-size="11.29" text-anchor="start">IN40</text><text transform="translate(428.7 841.8) scale(0.93 1)" font-size="11.29" text-anchor="start">EX20</text>
<text transform="translate(519.9 829.9) scale(0.93 1)" font-size="11.29" text-anchor="start">IN40</text><text transform="translate(519.9 841.8) scale(0.93 1)" font-size="11.29" text-anchor="start">EX10</text>
<text transform="translate(624.3 831.5) scale(0.93 1)" font-size="10.43" text-anchor="end">Endotracheal</text><text transform="translate(625 843.6) scale(0.93 1)" font-size="10.64" text-anchor="end">Suction</text>
<text transform="translate(629.2 831.5) scale(0.93 1)" font-size="11.29" text-anchor="start">Baseline</text>
</g>
<g id="panelD">
<text x="19" y="464.2" font-size="14.3" text-anchor="start">D</text>
<path d="M45.8 464V620H279.5" fill="none" stroke="#555" stroke-width="1.05"/>
<path d="M43.7 486.2h2.1M43.7 542.3h2.1M43.7 598.4h2.1M62.8 620v2.1M87.7 620v2.1M112.6 620v2.1M137.5 620v2.1M162.4 620v2.1M187.3 620v2.1M212.2 620v2.1M237.1 620v2.1M262 620v2.1" fill="none" stroke="#555" stroke-width="0.8"/>
<text x="43.6" y="488.9" font-size="8" text-anchor="end">150</text>
<text x="43.6" y="545" font-size="8" text-anchor="end">100</text>
<text x="43.6" y="601.1" font-size="8" text-anchor="end">50</text>
<text x="62.8" y="631.3" font-size="8" text-anchor="middle">Baseline</text>
<text x="87.7" y="631.3" font-size="8" text-anchor="middle">EX40</text>
<text x="87.7" y="641.4" font-size="8" text-anchor="middle">IN10</text>
<text x="112.6" y="631.3" font-size="8" text-anchor="middle">EX40</text>
<text x="112.6" y="641.4" font-size="8" text-anchor="middle">IN20</text>
<text x="137.5" y="631.3" font-size="8" text-anchor="middle">EX40</text>
<text x="137.5" y="641.4" font-size="8" text-anchor="middle">IN30</text>
<text x="162.4" y="631.3" font-size="8" text-anchor="middle">IN40</text>
<text x="162.4" y="641.4" font-size="8" text-anchor="middle">EX10</text>
<text x="187.3" y="631.3" font-size="8" text-anchor="middle">IN40</text>
<text x="187.3" y="641.4" font-size="8" text-anchor="middle">EX20</text>
<text x="212.2" y="631.3" font-size="8" text-anchor="middle">IN40</text>
<text x="212.2" y="641.4" font-size="8" text-anchor="middle">EX30</text>
<text x="237.1" y="631.3" font-size="8" text-anchor="middle">EX40</text>
<text x="237.1" y="641.4" font-size="8" text-anchor="middle">IN40</text>
<text x="250.8" y="631.3" font-size="8" text-anchor="start">Endotracheal</text><text x="250.8" y="641.4" font-size="8" text-anchor="start">Suction</text>
<text x="27.2" y="542.4" font-size="8.6" text-anchor="middle" transform="rotate(-90 27.2 542.4)">HR(bmp)</text>
<path d="M62.81 507.07C62.81 507.52 62.81 508.87 62.81 509.76C62.81 510.66 62.71 511.56 62.81 512.46C62.91 513.36 63.09 514.25 63.39 515.15C63.68 516.05 64.18 516.95 64.59 517.84C65 518.74 65.46 519.64 65.86 520.54C66.26 521.44 66.77 522.33 66.98 523.23C67.18 524.13 67.08 525.03 67.09 525.92C67.11 526.82 67.15 527.72 67.09 528.62C67.04 529.52 66.93 530.41 66.76 531.31C66.59 532.21 66.24 533.11 66.05 534C65.87 534.9 65.58 535.8 65.68 536.7C65.77 537.6 66.16 538.49 66.63 539.39C67.1 540.29 67.95 541.19 68.49 542.08C69.04 542.98 69.57 543.88 69.9 544.78C70.22 545.68 70.33 546.57 70.45 547.47C70.57 548.37 70.71 549.27 70.62 550.16C70.54 551.06 70.2 551.96 69.93 552.86C69.66 553.76 69.29 554.65 69 555.55C68.71 556.45 68.41 557.35 68.18 558.24C67.94 559.14 67.59 560.04 67.59 560.94C67.59 561.84 67.94 562.73 68.17 563.63C68.4 564.53 68.98 565.43 68.99 566.32C68.99 567.22 68.53 568.12 68.21 569.02C67.88 569.92 67.43 570.81 67.04 571.71C66.65 572.61 66.28 573.51 65.88 574.4C65.49 575.3 65.08 576.2 64.68 577.1C64.28 578 63.8 578.89 63.49 579.79C63.18 580.69 62.92 581.59 62.81 582.48C62.7 583.38 62.81 584.73 62.81 585.18C62.81 584.73 62.92 583.38 62.81 582.48C62.7 581.59 62.44 580.69 62.13 579.79C61.82 578.89 61.34 578 60.94 577.1C60.54 576.2 60.13 575.3 59.74 574.4C59.35 573.51 58.97 572.61 58.58 571.71C58.19 570.81 57.74 569.92 57.42 569.02C57.09 568.12 56.63 567.22 56.63 566.32C56.64 565.43 57.22 564.53 57.45 563.63C57.69 562.73 58.03 561.84 58.03 560.94C58.03 560.04 57.68 559.14 57.44 558.24C57.21 557.35 56.91 556.45 56.62 555.55C56.33 554.65 55.97 553.76 55.69 552.86C55.42 551.96 55.09 551.06 55 550.16C54.91 549.27 55.05 548.37 55.17 547.47C55.29 546.57 55.4 545.68 55.73 544.78C56.05 543.88 56.58 542.98 57.13 542.08C57.67 541.19 58.53 540.29 58.99 539.39C59.46 538.49 59.85 537.6 59.95 536.7C60.04 535.8 59.75 534.9 59.57 534C59.39 533.11 59.04 532.21 58.86 531.31C58.69 530.41 58.58 529.52 58.53 528.62C58.47 527.72 58.51 526.82 58.53 525.92C58.55 525.03 58.44 524.13 58.64 523.23C58.85 522.33 59.36 521.44 59.76 520.54C60.16 519.64 60.62 518.74 61.03 517.84C61.44 516.95 61.94 516.05 62.23 515.15C62.53 514.25 62.71 513.36 62.81 512.46C62.91 511.56 62.81 510.66 62.81 509.76C62.81 508.87 62.81 507.52 62.81 507.07Z" fill="#fff" stroke="#e1284b" stroke-width="0.9" stroke-linejoin="round"/>
<circle cx="62.81" cy="524.11" r="2.05" fill="#f778bd"/>
<circle cx="62.81" cy="529.56" r="2.05" fill="#f778bd"/>
<circle cx="56.42" cy="550.86" r="2.05" fill="#f778bd"/>
<circle cx="69.44" cy="547.78" r="2.05" fill="#f778bd"/>
<circle cx="69.91" cy="552.51" r="2.05" fill="#f778bd"/>
<circle cx="56.42" cy="568.14" r="2.05" fill="#f778bd"/>
<circle cx="69.44" cy="565.53" r="2.05" fill="#f778bd"/>
<circle cx="62.81" cy="564.35" r="2.05" fill="#f778bd"/>
<circle cx="62.81" cy="540.21" r="2.05" fill="#f778bd"/>
<line x1="54.98" x2="70.64" y1="549.67" y2="549.67" stroke="#e1284b" stroke-width="0.8"/>
<line x1="59.56" x2="66.06" y1="538.31" y2="538.31" stroke="#e1284b" stroke-width="0.8" stroke-dasharray="1.6 1"/>
<line x1="56.86" x2="68.77" y1="565.06" y2="565.06" stroke="#e1284b" stroke-width="0.8" stroke-dasharray="1.6 1"/>
<path d="M87.66 507.07C87.66 507.52 87.66 508.87 87.66 509.76C87.66 510.66 87.56 511.56 87.66 512.46C87.76 513.36 87.93 514.25 88.25 515.15C88.58 516.05 89.14 516.95 89.59 517.84C90.04 518.74 90.53 519.64 90.95 520.54C91.38 521.44 91.88 522.33 92.13 523.23C92.37 524.13 92.37 525.03 92.42 525.92C92.47 526.82 92.42 527.72 92.42 528.62C92.42 529.52 92.36 530.41 92.44 531.31C92.51 532.21 92.67 533.11 92.85 534C93.04 534.9 93.31 535.8 93.55 536.7C93.8 537.6 94.04 538.49 94.32 539.39C94.6 540.29 95.07 541.19 95.25 542.08C95.44 542.98 95.5 543.88 95.44 544.78C95.37 545.68 95.09 546.57 94.88 547.47C94.67 548.37 94.46 549.27 94.19 550.16C93.93 551.06 93.57 551.96 93.29 552.86C93.02 553.76 92.65 554.65 92.53 555.55C92.41 556.45 92.46 557.35 92.57 558.24C92.69 559.14 93.02 560.04 93.24 560.94C93.46 561.84 93.72 562.73 93.9 563.63C94.07 564.53 94.39 565.43 94.31 566.32C94.23 567.22 93.78 568.12 93.41 569.02C93.04 569.92 92.53 570.81 92.1 571.71C91.67 572.61 91.25 573.51 90.83 574.4C90.41 575.3 89.97 576.2 89.55 577.1C89.13 578 88.65 578.89 88.34 579.79C88.02 580.69 87.78 581.59 87.66 582.48C87.55 583.38 87.66 584.73 87.66 585.18C87.66 584.73 87.78 583.38 87.66 582.48C87.55 581.59 87.3 580.69 86.99 579.79C86.67 578.89 86.19 578 85.78 577.1C85.36 576.2 84.92 575.3 84.5 574.4C84.07 573.51 83.66 572.61 83.23 571.71C82.8 570.81 82.28 569.92 81.91 569.02C81.54 568.12 81.09 567.22 81.01 566.32C80.93 565.43 81.25 564.53 81.43 563.63C81.61 562.73 81.86 561.84 82.09 560.94C82.31 560.04 82.63 559.14 82.75 558.24C82.87 557.35 82.92 556.45 82.8 555.55C82.68 554.65 82.31 553.76 82.03 552.86C81.76 551.96 81.4 551.06 81.13 550.16C80.87 549.27 80.65 548.37 80.44 547.47C80.24 546.57 79.95 545.68 79.89 544.78C79.83 543.88 79.89 542.98 80.07 542.08C80.26 541.19 80.72 540.29 81.01 539.39C81.29 538.49 81.53 537.6 81.77 536.7C82.02 535.8 82.29 534.9 82.47 534C82.66 533.11 82.82 532.21 82.89 531.31C82.96 530.41 82.9 529.52 82.91 528.62C82.91 527.72 82.86 526.82 82.91 525.92C82.95 525.03 82.95 524.13 83.2 523.23C83.44 522.33 83.95 521.44 84.37 520.54C84.79 519.64 85.28 518.74 85.73 517.84C86.18 516.95 86.75 516.05 87.07 515.15C87.39 514.25 87.56 513.36 87.66 512.46C87.76 511.56 87.66 510.66 87.66 509.76C87.66 508.87 87.66 507.52 87.66 507.07Z" fill="#fff" stroke="#e1284b" stroke-width="0.9" stroke-linejoin="round"/>
<circle cx="87.66" cy="524.82" r="2.05" fill="#f778bd"/>
<circle cx="87.66" cy="529.56" r="2.05" fill="#f778bd"/>
<circle cx="81.27" cy="541.39" r="2.05" fill="#f778bd"/>
<circle cx="94.29" cy="541.39" r="2.05" fill="#f778bd"/>
<circle cx="81.27" cy="549.2" r="2.05" fill="#f778bd"/>
<circle cx="87.66" cy="550.86" r="2.05" fill="#f778bd"/>
<circle cx="81.27" cy="568.14" r="2.05" fill="#f778bd"/>
<circle cx="94.29" cy="565.53" r="2.05" fill="#f778bd"/>
<circle cx="87.66" cy="559.14" r="2.05" fill="#f778bd"/>
<line x1="79.98" x2="95.35" y1="545.41" y2="545.41" stroke="#e1284b" stroke-width="0.8"/>
<line x1="81.36" x2="93.96" y1="538.31" y2="538.31" stroke="#e1284b" stroke-width="0.8" stroke-dasharray="1.6 1"/>
<line x1="81.05" x2="94.27" y1="565.53" y2="565.53" stroke="#e1284b" stroke-width="0.8" stroke-dasharray="1.6 1"/>
<path d="M112.51 503.99C112.51 504.54 112.51 506.18 112.51 507.27C112.51 508.36 112.35 509.45 112.51 510.54C112.68 511.63 113.01 512.72 113.49 513.81C113.97 514.9 114.79 515.99 115.39 517.09C115.98 518.18 116.62 519.27 117.09 520.36C117.56 521.45 118.03 522.54 118.22 523.63C118.41 524.72 118.22 525.81 118.22 526.9C118.22 527.99 118.22 529.09 118.22 530.18C118.22 531.27 118.16 532.36 118.22 533.45C118.28 534.54 118.42 535.63 118.57 536.72C118.72 537.81 118.93 538.9 119.13 539.99C119.34 541.09 119.58 542.18 119.78 543.27C119.98 544.36 120.28 545.45 120.32 546.54C120.36 547.63 120.23 548.72 120.02 549.81C119.81 550.9 119.37 552 119.06 553.09C118.75 554.18 118.46 555.27 118.16 556.36C117.85 557.45 117.48 558.54 117.22 559.63C116.95 560.72 116.75 561.81 116.57 562.9C116.39 564 116.27 565.09 116.13 566.18C116 567.27 115.87 568.36 115.76 569.45C115.64 570.54 115.55 571.63 115.44 572.72C115.34 573.81 115.25 574.9 115.13 576C115.02 577.09 114.9 578.18 114.76 579.27C114.62 580.36 114.46 581.45 114.3 582.54C114.14 583.63 113.97 584.72 113.79 585.81C113.61 586.91 113.43 588 113.22 589.09C113.01 590.18 112.63 591.27 112.51 592.36C112.4 593.45 112.51 594.54 112.51 595.63C112.51 596.72 112.51 598.36 112.51 598.91C112.51 598.36 112.51 596.72 112.51 595.63C112.51 594.54 112.63 593.45 112.51 592.36C112.4 591.27 112.02 590.18 111.81 589.09C111.6 588 111.42 586.91 111.24 585.81C111.06 584.72 110.89 583.63 110.73 582.54C110.57 581.45 110.41 580.36 110.27 579.27C110.13 578.18 110.01 577.09 109.9 576C109.78 574.9 109.69 573.81 109.59 572.72C109.48 571.63 109.39 570.54 109.27 569.45C109.16 568.36 109.03 567.27 108.9 566.18C108.76 565.09 108.64 564 108.46 562.9C108.28 561.81 108.08 560.72 107.81 559.63C107.55 558.54 107.18 557.45 106.87 556.36C106.57 555.27 106.28 554.18 105.97 553.09C105.66 552 105.22 550.9 105.01 549.81C104.8 548.72 104.67 547.63 104.71 546.54C104.75 545.45 105.05 544.36 105.25 543.27C105.45 542.18 105.69 541.09 105.9 539.99C106.1 538.9 106.31 537.81 106.46 536.72C106.61 535.63 106.75 534.54 106.81 533.45C106.87 532.36 106.81 531.27 106.81 530.18C106.81 529.09 106.81 527.99 106.81 526.9C106.81 525.81 106.62 524.72 106.81 523.63C107 522.54 107.47 521.45 107.94 520.36C108.41 519.27 109.04 518.18 109.64 517.09C110.24 515.99 111.06 514.9 111.54 513.81C112.01 512.72 112.35 511.63 112.51 510.54C112.68 509.45 112.51 508.36 112.51 507.27C112.51 506.18 112.51 504.54 112.51 503.99Z" fill="#fff" stroke="#e1284b" stroke-width="0.9" stroke-linejoin="round"/>
<circle cx="109.67" cy="524.35" r="2.05" fill="#f778bd"/>
<circle cx="116.3" cy="525.3" r="2.05" fill="#f778bd"/>
<circle cx="112.51" cy="536.66" r="2.05" fill="#f778bd"/>
<circle cx="108.49" cy="543.76" r="2.05" fill="#f778bd"/>
<circle cx="108.49" cy="548.49" r="2.05" fill="#f778bd"/>
<circle cx="116.78" cy="547.31" r="2.05" fill="#f778bd"/>
<circle cx="112.51" cy="563.4" r="2.05" fill="#f778bd"/>
<circle cx="112.51" cy="568.14" r="2.05" fill="#f778bd"/>
<circle cx="112.51" cy="578.55" r="2.05" fill="#f778bd"/>
<line x1="104.68" x2="120.35" y1="547.31" y2="547.31" stroke="#e1284b" stroke-width="0.8"/>
<line x1="106.81" x2="118.22" y1="533.11" y2="533.11" stroke="#e1284b" stroke-width="0.8" stroke-dasharray="1.6 1"/>
<line x1="108.6" x2="116.43" y1="563.88" y2="563.88" stroke="#e1284b" stroke-width="0.8" stroke-dasharray="1.6 1"/>
<path d="M137.6 498.31C137.6 498.84 137.6 500.44 137.6 501.5C137.6 502.56 137.52 503.62 137.6 504.68C137.69 505.74 137.83 506.8 138.1 507.86C138.37 508.92 138.84 509.98 139.24 511.05C139.63 512.11 140.1 513.17 140.46 514.23C140.82 515.29 141.24 516.35 141.4 517.41C141.56 518.47 141.41 519.53 141.41 520.59C141.42 521.66 141.44 522.72 141.41 523.78C141.39 524.84 141.35 525.9 141.27 526.96C141.2 528.02 140.86 529.08 140.95 530.14C141.05 531.2 141.35 532.27 141.82 533.33C142.29 534.39 143.3 535.45 143.77 536.51C144.24 537.57 144.39 538.63 144.62 539.69C144.84 540.75 144.99 541.81 145.13 542.88C145.26 543.94 145.41 545 145.41 546.06C145.41 547.12 145.38 548.18 145.14 549.24C144.89 550.3 144.3 551.36 143.94 552.43C143.59 553.49 143.28 554.55 143.02 555.61C142.76 556.67 142.44 557.73 142.4 558.79C142.36 559.85 142.56 560.91 142.77 561.97C142.99 563.04 143.56 564.1 143.68 565.16C143.8 566.22 143.71 567.28 143.51 568.34C143.31 569.4 142.84 570.46 142.49 571.52C142.15 572.58 141.82 573.65 141.47 574.71C141.12 575.77 140.77 576.83 140.41 577.89C140.05 578.95 139.68 580.01 139.29 581.07C138.9 582.13 138.36 583.19 138.08 584.26C137.8 585.32 137.68 586.38 137.6 587.44C137.52 588.5 137.6 590.09 137.6 590.62C137.6 590.09 137.68 588.5 137.6 587.44C137.52 586.38 137.41 585.32 137.13 584.26C136.85 583.19 136.3 582.13 135.92 581.07C135.53 580.01 135.16 578.95 134.8 577.89C134.43 576.83 134.09 575.77 133.74 574.71C133.39 573.65 133.05 572.58 132.71 571.52C132.37 570.46 131.89 569.4 131.7 568.34C131.5 567.28 131.4 566.22 131.53 565.16C131.65 564.1 132.22 563.04 132.43 561.97C132.65 560.91 132.85 559.85 132.81 558.79C132.77 557.73 132.44 556.67 132.19 555.61C131.93 554.55 131.62 553.49 131.26 552.43C130.91 551.36 130.32 550.3 130.07 549.24C129.83 548.18 129.8 547.12 129.8 546.06C129.8 545 129.95 543.94 130.08 542.88C130.21 541.81 130.37 540.75 130.59 539.69C130.82 538.63 130.97 537.57 131.44 536.51C131.9 535.45 132.92 534.39 133.39 533.33C133.86 532.27 134.16 531.2 134.25 530.14C134.34 529.08 134.01 528.02 133.93 526.96C133.86 525.9 133.82 524.84 133.79 523.78C133.77 522.72 133.79 521.66 133.79 520.59C133.79 519.53 133.64 518.47 133.8 517.41C133.96 516.35 134.39 515.29 134.75 514.23C135.11 513.17 135.58 512.11 135.97 511.05C136.36 509.98 136.84 508.92 137.11 507.86C137.38 506.8 137.52 505.74 137.6 504.68C137.69 503.62 137.6 502.56 137.6 501.5C137.6 500.44 137.6 498.84 137.6 498.31Z" fill="#fff" stroke="#e1284b" stroke-width="0.9" stroke-linejoin="round"/>
<circle cx="137.6" cy="518.91" r="2.05" fill="#f778bd"/>
<circle cx="137.6" cy="524.35" r="2.05" fill="#f778bd"/>
<circle cx="137.6" cy="537.84" r="2.05" fill="#f778bd"/>
<circle cx="133.34" cy="546.12" r="2.05" fill="#f778bd"/>
<circle cx="141.63" cy="544.94" r="2.05" fill="#f778bd"/>
<circle cx="133.34" cy="549.67" r="2.05" fill="#f778bd"/>
<circle cx="141.63" cy="549.67" r="2.05" fill="#f778bd"/>
<circle cx="133.34" cy="565.77" r="2.05" fill="#f778bd"/>
<circle cx="141.63" cy="568.14" r="2.05" fill="#f778bd"/>
<circle cx="134.53" cy="570.5" r="2.05" fill="#f778bd"/>
<line x1="129.77" x2="145.44" y1="547.31" y2="547.31" stroke="#e1284b" stroke-width="0.8"/>
<line x1="131.37" x2="143.84" y1="536.66" y2="536.66" stroke="#e1284b" stroke-width="0.8" stroke-dasharray="1.6 1"/>
<line x1="131.43" x2="143.78" y1="566.24" y2="566.24" stroke="#e1284b" stroke-width="0.8" stroke-dasharray="1.6 1"/>
<path d="M162.75 499.26C162.75 499.83 162.75 501.52 162.75 502.66C162.75 503.79 162.66 504.92 162.75 506.05C162.84 507.18 163.02 508.31 163.31 509.45C163.6 510.58 164.01 511.71 164.49 512.84C164.98 513.97 165.64 515.1 166.2 516.24C166.76 517.37 167.25 518.5 167.87 519.63C168.48 520.76 169.39 521.9 169.88 523.03C170.38 524.16 170.69 525.29 170.82 526.42C170.94 527.55 170.71 528.69 170.63 529.82C170.55 530.95 170.44 532.08 170.34 533.21C170.24 534.34 170.14 535.48 170.03 536.61C169.92 537.74 169.79 538.87 169.67 540C169.55 541.13 169.45 542.27 169.31 543.4C169.18 544.53 169.01 545.66 168.88 546.79C168.74 547.93 168.59 549.06 168.52 550.19C168.45 551.32 168.47 552.45 168.46 553.58C168.44 554.72 168.45 555.85 168.46 556.98C168.46 558.11 168.42 559.24 168.51 560.37C168.6 561.51 168.86 562.64 169.01 563.77C169.16 564.9 169.42 566.03 169.4 567.16C169.38 568.3 169.16 569.43 168.87 570.56C168.58 571.69 168.05 572.82 167.65 573.96C167.25 575.09 166.89 576.22 166.48 577.35C166.08 578.48 165.62 579.61 165.24 580.75C164.85 581.88 164.48 583.01 164.17 584.14C163.85 585.27 163.59 586.4 163.35 587.54C163.11 588.67 162.85 589.8 162.75 590.93C162.65 592.06 162.75 593.19 162.75 594.33C162.75 595.46 162.75 597.16 162.75 597.72C162.75 597.16 162.75 595.46 162.75 594.33C162.75 593.19 162.85 592.06 162.75 590.93C162.65 589.8 162.39 588.67 162.15 587.54C161.92 586.4 161.65 585.27 161.34 584.14C161.02 583.01 160.65 581.88 160.27 580.75C159.88 579.61 159.42 578.48 159.02 577.35C158.62 576.22 158.25 575.09 157.85 573.96C157.46 572.82 156.92 571.69 156.63 570.56C156.34 569.43 156.13 568.3 156.1 567.16C156.08 566.03 156.34 564.9 156.49 563.77C156.64 562.64 156.9 561.51 156.99 560.37C157.08 559.24 157.04 558.11 157.05 556.98C157.06 555.85 157.06 554.72 157.05 553.58C157.04 552.45 157.05 551.32 156.98 550.19C156.91 549.06 156.76 547.93 156.63 546.79C156.5 545.66 156.32 544.53 156.19 543.4C156.06 542.27 155.95 541.13 155.83 540C155.71 538.87 155.59 537.74 155.48 536.61C155.36 535.48 155.26 534.34 155.16 533.21C155.06 532.08 154.95 530.95 154.87 529.82C154.79 528.69 154.56 527.55 154.68 526.42C154.81 525.29 155.13 524.16 155.62 523.03C156.11 521.9 157.02 520.76 157.64 519.63C158.25 518.5 158.74 517.37 159.3 516.24C159.86 515.1 160.53 513.97 161.01 512.84C161.49 511.71 161.91 510.58 162.2 509.45C162.49 508.31 162.66 507.18 162.75 506.05C162.84 504.92 162.75 503.79 162.75 502.66C162.75 501.52 162.75 499.83 162.75 499.26Z" fill="#fff" stroke="#e1284b" stroke-width="0.9" stroke-linejoin="round"/>
<circle cx="162.75" cy="522.46" r="2.05" fill="#f778bd"/>
<circle cx="156.36" cy="529.56" r="2.05" fill="#f778bd"/>
<circle cx="168.67" cy="527.19" r="2.05" fill="#f778bd"/>
<circle cx="162.75" cy="536.66" r="2.05" fill="#f778bd"/>
<circle cx="159.2" cy="546.12" r="2.05" fill="#f778bd"/>
<circle cx="166.78" cy="549.67" r="2.05" fill="#f778bd"/>
<circle cx="156.36" cy="567.43" r="2.05" fill="#f778bd"/>
<circle cx="168.67" cy="566.24" r="2.05" fill="#f778bd"/>
<circle cx="162.75" cy="570.27" r="2.05" fill="#f778bd"/>
<circle cx="162.75" cy="574.53" r="2.05" fill="#f778bd"/>
<line x1="156.18" x2="169.33" y1="543.28" y2="543.28" stroke="#e1284b" stroke-width="0.8"/>
<line x1="154.83" x2="170.67" y1="529.32" y2="529.32" stroke="#e1284b" stroke-width="0.8" stroke-dasharray="1.6 1"/>
<line x1="156.12" x2="169.39" y1="567.9" y2="567.9" stroke="#e1284b" stroke-width="0.8" stroke-dasharray="1.6 1"/>
<path d="M187.6 495.24C187.6 495.83 187.6 497.6 187.6 498.79C187.6 499.97 187.51 501.15 187.6 502.34C187.7 503.52 187.85 504.7 188.15 505.89C188.46 507.07 188.92 508.25 189.43 509.44C189.95 510.62 190.68 511.8 191.25 512.99C191.81 514.17 192.34 515.36 192.83 516.54C193.33 517.72 193.79 518.91 194.22 520.09C194.64 521.27 195.14 522.46 195.38 523.64C195.62 524.82 195.65 526.01 195.66 527.19C195.66 528.37 195.53 529.56 195.43 530.74C195.33 531.92 195.2 533.11 195.08 534.29C194.96 535.47 194.84 536.66 194.69 537.84C194.54 539.02 194.33 540.21 194.18 541.39C194.03 542.57 193.89 543.76 193.78 544.94C193.67 546.12 193.6 547.31 193.53 548.49C193.46 549.67 193.38 550.86 193.35 552.04C193.32 553.22 193.29 554.41 193.33 555.59C193.36 556.78 193.45 557.96 193.56 559.14C193.66 560.33 193.76 561.51 193.95 562.69C194.14 563.88 194.55 565.06 194.71 566.24C194.86 567.43 195.02 568.61 194.86 569.79C194.7 570.98 194.16 572.16 193.75 573.34C193.34 574.53 192.87 575.71 192.4 576.89C191.92 578.08 191.37 579.26 190.89 580.44C190.41 581.63 189.93 582.81 189.52 583.99C189.12 585.18 188.78 586.36 188.46 587.54C188.14 588.73 187.75 589.91 187.6 591.09C187.46 592.28 187.6 593.46 187.6 594.64C187.6 595.83 187.6 597.6 187.6 598.2C187.6 597.6 187.6 595.83 187.6 594.64C187.6 593.46 187.75 592.28 187.6 591.09C187.46 589.91 187.07 588.73 186.75 587.54C186.43 586.36 186.09 585.18 185.68 583.99C185.28 582.81 184.79 581.63 184.32 580.44C183.84 579.26 183.28 578.08 182.81 576.89C182.33 575.71 181.87 574.53 181.46 573.34C181.05 572.16 180.5 570.98 180.34 569.79C180.18 568.61 180.35 567.43 180.5 566.24C180.65 565.06 181.07 563.88 181.26 562.69C181.45 561.51 181.55 560.33 181.65 559.14C181.75 557.96 181.85 556.78 181.88 555.59C181.91 554.41 181.89 553.22 181.86 552.04C181.82 550.86 181.75 549.67 181.68 548.49C181.6 547.31 181.53 546.12 181.43 544.94C181.32 543.76 181.18 542.57 181.03 541.39C180.88 540.21 180.67 539.02 180.52 537.84C180.37 536.66 180.25 535.47 180.13 534.29C180 533.11 179.87 531.92 179.78 530.74C179.68 529.56 179.54 528.37 179.55 527.19C179.56 526.01 179.58 524.82 179.82 523.64C180.06 522.46 180.57 521.27 180.99 520.09C181.42 518.91 181.88 517.72 182.37 516.54C182.87 515.36 183.39 514.17 183.96 512.99C184.53 511.8 185.26 510.62 185.77 509.44C186.29 508.25 186.75 507.07 187.05 505.89C187.36 504.7 187.51 503.52 187.6 502.34C187.7 501.15 187.6 499.97 187.6 498.79C187.6 497.6 187.6 495.83 187.6 495.24Z" fill="#fff" stroke="#e1284b" stroke-width="0.9" stroke-linejoin="round"/>
<circle cx="187.6" cy="518.43" r="2.05" fill="#f778bd"/>
<circle cx="182.87" cy="526.01" r="2.05" fill="#f778bd"/>
<circle cx="191.63" cy="526.01" r="2.05" fill="#f778bd"/>
<circle cx="187.6" cy="536.66" r="2.05" fill="#f778bd"/>
<circle cx="187.6" cy="549.67" r="2.05" fill="#f778bd"/>
<circle cx="187.6" cy="554.41" r="2.05" fill="#f778bd"/>
<circle cx="182.87" cy="568.61" r="2.05" fill="#f778bd"/>
<circle cx="191.63" cy="568.61" r="2.05" fill="#f778bd"/>
<circle cx="187.6" cy="574.53" r="2.05" fill="#f778bd"/>
<line x1="181.32" x2="193.88" y1="543.76" y2="543.76" stroke="#e1284b" stroke-width="0.8"/>
<line x1="179.53" x2="195.67" y1="526.01" y2="526.01" stroke="#e1284b" stroke-width="0.8" stroke-dasharray="1.6 1"/>
<line x1="180.24" x2="194.96" y1="568.61" y2="568.61" stroke="#e1284b" stroke-width="0.8" stroke-dasharray="1.6 1"/>
<path d="M212.93 493.34C212.93 493.95 212.93 495.75 212.93 496.96C212.93 498.16 212.85 499.37 212.93 500.57C213 501.78 213.11 502.98 213.38 504.19C213.65 505.4 214.04 506.6 214.54 507.81C215.04 509.01 215.79 510.22 216.37 511.42C216.95 512.63 217.53 513.83 218.05 515.04C218.56 516.24 219 517.45 219.44 518.65C219.88 519.86 220.41 521.06 220.67 522.27C220.92 523.47 220.96 524.68 220.99 525.88C221.03 527.09 220.93 528.29 220.88 529.5C220.82 530.7 220.75 531.91 220.67 533.11C220.6 534.32 220.54 535.53 220.44 536.73C220.34 537.94 220.21 539.14 220.08 540.35C219.96 541.55 219.82 542.76 219.68 543.96C219.54 545.17 219.41 546.37 219.26 547.58C219.12 548.78 218.92 549.99 218.81 551.19C218.71 552.4 218.63 553.6 218.64 554.81C218.64 556.01 218.73 557.22 218.82 558.42C218.91 559.63 218.97 560.83 219.17 562.04C219.38 563.24 219.85 564.45 220.07 565.65C220.28 566.86 220.61 568.07 220.49 569.27C220.37 570.48 219.79 571.68 219.36 572.89C218.92 574.09 218.36 575.3 217.86 576.5C217.36 577.71 216.83 578.91 216.34 580.12C215.85 581.32 215.35 582.53 214.93 583.73C214.52 584.94 214.17 586.14 213.83 587.35C213.5 588.55 213.08 589.76 212.93 590.96C212.78 592.17 212.93 593.37 212.93 594.58C212.93 595.78 212.93 597.59 212.93 598.2C212.93 597.59 212.93 595.78 212.93 594.58C212.93 593.37 213.08 592.17 212.93 590.96C212.78 589.76 212.36 588.55 212.02 587.35C211.69 586.14 211.34 584.94 210.93 583.73C210.51 582.53 210.01 581.32 209.52 580.12C209.03 578.91 208.5 577.71 208 576.5C207.49 575.3 206.94 574.09 206.5 572.89C206.06 571.68 205.49 570.48 205.37 569.27C205.25 568.07 205.57 566.86 205.79 565.65C206.01 564.45 206.48 563.24 206.68 562.04C206.89 560.83 206.95 559.63 207.04 558.42C207.13 557.22 207.22 556.01 207.22 554.81C207.22 553.6 207.15 552.4 207.04 551.19C206.94 549.99 206.74 548.78 206.59 547.58C206.45 546.37 206.31 545.17 206.18 543.96C206.04 542.76 205.9 541.55 205.78 540.35C205.65 539.14 205.52 537.94 205.42 536.73C205.32 535.53 205.26 534.32 205.18 533.11C205.11 531.91 205.03 530.7 204.98 529.5C204.93 528.29 204.83 527.09 204.87 525.88C204.9 524.68 204.93 523.47 205.19 522.27C205.45 521.06 205.98 519.86 206.42 518.65C206.85 517.45 207.3 516.24 207.81 515.04C208.32 513.83 208.9 512.63 209.49 511.42C210.07 510.22 210.82 509.01 211.32 507.81C211.82 506.6 212.21 505.4 212.48 504.19C212.75 502.98 212.85 501.78 212.93 500.57C213 499.37 212.93 498.16 212.93 496.96C212.93 495.75 212.93 493.95 212.93 493.34Z" fill="#fff" stroke="#e1284b" stroke-width="0.9" stroke-linejoin="round"/>
<circle cx="212.93" cy="517.72" r="2.05" fill="#f778bd"/>
<circle cx="208.43" cy="524.11" r="2.05" fill="#f778bd"/>
<circle cx="216.48" cy="526.01" r="2.05" fill="#f778bd"/>
<circle cx="212.93" cy="533.11" r="2.05" fill="#f778bd"/>
<circle cx="212.93" cy="549.67" r="2.05" fill="#f778bd"/>
<circle cx="212.93" cy="556.78" r="2.05" fill="#f778bd"/>
<circle cx="208.43" cy="568.14" r="2.05" fill="#f778bd"/>
<circle cx="217.19" cy="568.14" r="2.05" fill="#f778bd"/>
<circle cx="212.93" cy="573.34" r="2.05" fill="#f778bd"/>
<line x1="205.97" x2="219.89" y1="542.1" y2="542.1" stroke="#e1284b" stroke-width="0.8"/>
<line x1="204.86" x2="221" y1="525.53" y2="525.53" stroke="#e1284b" stroke-width="0.8" stroke-dasharray="1.6 1"/>
<line x1="205.33" x2="220.53" y1="568.61" y2="568.61" stroke="#e1284b" stroke-width="0.8" stroke-dasharray="1.6 1"/>
<path d="M237.78 492.87C237.78 493.49 237.78 495.35 237.78 496.58C237.78 497.82 237.63 499.06 237.78 500.3C237.93 501.53 238.2 502.77 238.7 504.01C239.19 505.25 240.05 506.49 240.75 507.72C241.44 508.96 242.23 510.2 242.86 511.44C243.48 512.68 244.03 513.91 244.51 515.15C244.99 516.39 245.53 517.63 245.75 518.86C245.96 520.1 245.82 521.34 245.79 522.58C245.75 523.82 245.61 525.05 245.52 526.29C245.42 527.53 245.3 528.77 245.2 530.01C245.09 531.24 244.99 532.48 244.88 533.72C244.77 534.96 244.61 536.19 244.54 537.43C244.46 538.67 244.45 539.91 244.43 541.15C244.41 542.38 244.43 543.62 244.43 544.86C244.43 546.1 244.43 547.33 244.43 548.57C244.43 549.81 244.43 551.05 244.43 552.29C244.43 553.52 244.43 554.76 244.43 556C244.43 557.24 244.38 558.48 244.44 559.71C244.5 560.95 244.69 562.19 244.81 563.43C244.92 564.66 245.17 565.9 245.14 567.14C245.1 568.38 244.89 569.62 244.6 570.85C244.3 572.09 243.78 573.33 243.37 574.57C242.97 575.81 242.59 577.04 242.15 578.28C241.72 579.52 241.19 580.76 240.76 581.99C240.32 583.23 239.92 584.47 239.55 585.71C239.18 586.95 238.84 588.18 238.54 589.42C238.25 590.66 237.91 591.9 237.78 593.14C237.65 594.37 237.78 595.61 237.78 596.85C237.78 598.09 237.78 599.94 237.78 600.56C237.78 599.94 237.78 598.09 237.78 596.85C237.78 595.61 237.91 594.37 237.78 593.14C237.65 591.9 237.31 590.66 237.02 589.42C236.72 588.18 236.38 586.95 236.01 585.71C235.64 584.47 235.24 583.23 234.8 581.99C234.37 580.76 233.85 579.52 233.41 578.28C232.97 577.04 232.6 575.81 232.19 574.57C231.78 573.33 231.26 572.09 230.97 570.85C230.67 569.62 230.46 568.38 230.42 567.14C230.39 565.9 230.64 564.66 230.76 563.43C230.87 562.19 231.06 560.95 231.12 559.71C231.18 558.48 231.13 557.24 231.13 556C231.13 554.76 231.13 553.52 231.13 552.29C231.13 551.05 231.13 549.81 231.13 548.57C231.13 547.33 231.13 546.1 231.13 544.86C231.13 543.62 231.15 542.38 231.13 541.15C231.11 539.91 231.1 538.67 231.02 537.43C230.95 536.19 230.8 534.96 230.69 533.72C230.58 532.48 230.47 531.24 230.37 530.01C230.26 528.77 230.14 527.53 230.05 526.29C229.95 525.05 229.82 523.82 229.78 522.58C229.74 521.34 229.6 520.1 229.82 518.86C230.03 517.63 230.57 516.39 231.05 515.15C231.54 513.91 232.08 512.68 232.71 511.44C233.33 510.2 234.12 508.96 234.82 507.72C235.51 506.49 236.37 505.25 236.86 504.01C237.36 502.77 237.63 501.53 237.78 500.3C237.93 499.06 237.78 497.82 237.78 496.58C237.78 495.35 237.78 493.49 237.78 492.87Z" fill="#fff" stroke="#e1284b" stroke-width="0.9" stroke-linejoin="round"/>
<circle cx="234.47" cy="517.72" r="2.05" fill="#f778bd"/>
<circle cx="240.86" cy="519.38" r="2.05" fill="#f778bd"/>
<circle cx="237.78" cy="523.64" r="2.05" fill="#f778bd"/>
<circle cx="234.47" cy="539.02" r="2.05" fill="#f778bd"/>
<circle cx="240.86" cy="549.67" r="2.05" fill="#f778bd"/>
<circle cx="234.47" cy="556.78" r="2.05" fill="#f778bd"/>
<circle cx="234.47" cy="566.24" r="2.05" fill="#f778bd"/>
<circle cx="240.86" cy="566.24" r="2.05" fill="#f778bd"/>
<circle cx="237.78" cy="575.71" r="2.05" fill="#f778bd"/>
<line x1="231.13" x2="244.43" y1="547.78" y2="547.78" stroke="#e1284b" stroke-width="0.8"/>
<line x1="229.72" x2="245.85" y1="520.8" y2="520.8" stroke="#e1284b" stroke-width="0.8" stroke-dasharray="1.6 1"/>
<line x1="230.46" x2="245.1" y1="566.24" y2="566.24" stroke="#e1284b" stroke-width="0.8" stroke-dasharray="1.6 1"/>
<path d="M262.87 475.12C262.87 475.77 262.87 477.73 262.87 479.04C262.87 480.34 262.79 481.65 262.87 482.95C262.95 484.26 263.16 485.57 263.34 486.87C263.52 488.18 263.71 489.48 263.94 490.79C264.18 492.09 264.49 493.4 264.74 494.71C264.98 496.01 265.21 497.32 265.42 498.62C265.63 499.93 265.82 501.24 266.01 502.54C266.2 503.85 266.38 505.15 266.55 506.46C266.72 507.76 266.87 509.07 267.03 510.38C267.18 511.68 267.34 512.99 267.48 514.29C267.62 515.6 267.77 516.91 267.88 518.21C267.99 519.52 268.08 520.82 268.15 522.13C268.21 523.44 268.24 524.74 268.29 526.05C268.33 527.35 268.35 528.66 268.41 529.96C268.47 531.27 268.47 532.58 268.65 533.88C268.82 535.19 269.18 536.49 269.48 537.8C269.77 539.11 270.21 540.41 270.44 541.72C270.66 543.02 270.73 544.33 270.82 545.63C270.9 546.94 271.01 548.25 270.94 549.55C270.87 550.86 270.64 552.16 270.38 553.47C270.12 554.78 269.73 556.08 269.37 557.39C269.01 558.69 268.61 560 268.21 561.3C267.81 562.61 267.35 563.92 266.97 565.22C266.59 566.53 266.25 567.83 265.92 569.14C265.58 570.45 265.27 571.75 264.95 573.06C264.63 574.36 264.36 575.67 264.01 576.98C263.67 578.28 263.06 579.59 262.87 580.89C262.68 582.2 262.87 583.5 262.87 584.81C262.87 586.12 262.87 588.07 262.87 588.73C262.87 588.07 262.87 586.12 262.87 584.81C262.87 583.5 263.06 582.2 262.87 580.89C262.68 579.59 262.07 578.28 261.73 576.98C261.38 575.67 261.11 574.36 260.79 573.06C260.47 571.75 260.16 570.45 259.82 569.14C259.49 567.83 259.15 566.53 258.77 565.22C258.39 563.92 257.93 562.61 257.53 561.3C257.13 560 256.73 558.69 256.37 557.39C256.01 556.08 255.62 554.78 255.36 553.47C255.1 552.16 254.87 550.86 254.8 549.55C254.73 548.25 254.84 546.94 254.92 545.63C255.01 544.33 255.08 543.02 255.3 541.72C255.53 540.41 255.96 539.11 256.26 537.8C256.56 536.49 256.91 535.19 257.09 533.88C257.27 532.58 257.27 531.27 257.33 529.96C257.39 528.66 257.41 527.35 257.45 526.05C257.5 524.74 257.53 523.44 257.59 522.13C257.66 520.82 257.75 519.52 257.86 518.21C257.97 516.91 258.12 515.6 258.26 514.29C258.4 512.99 258.56 511.68 258.71 510.38C258.87 509.07 259.02 507.76 259.19 506.46C259.36 505.15 259.54 503.85 259.73 502.54C259.92 501.24 260.11 499.93 260.32 498.62C260.53 497.32 260.76 496.01 261 494.71C261.25 493.4 261.56 492.09 261.8 490.79C262.03 489.48 262.22 488.18 262.4 486.87C262.58 485.57 262.79 484.26 262.87 482.95C262.95 481.65 262.87 480.34 262.87 479.04C262.87 477.73 262.87 475.77 262.87 475.12Z" fill="#fff" stroke="#3b6cf2" stroke-width="0.9" stroke-linejoin="round"/>
<circle cx="262.87" cy="499.97" r="2.05" fill="#a6dcfa"/>
<circle cx="262.87" cy="512.99" r="2.05" fill="#a6dcfa"/>
<circle cx="262.87" cy="522.46" r="2.05" fill="#a6dcfa"/>
<circle cx="262.87" cy="528.37" r="2.05" fill="#a6dcfa"/>
<circle cx="266.89" cy="544.47" r="2.05" fill="#a6dcfa"/>
<circle cx="262.87" cy="550.86" r="2.05" fill="#a6dcfa"/>
<circle cx="259.79" cy="563.4" r="2.05" fill="#a6dcfa"/>
<circle cx="266.18" cy="561.98" r="2.05" fill="#a6dcfa"/>
<line x1="254.99" x2="270.75" y1="544.47" y2="544.47" stroke="#3b6cf2" stroke-width="0.8"/>
<line x1="257.68" x2="268.06" y1="520.56" y2="520.56" stroke="#3b6cf2" stroke-width="0.8" stroke-dasharray="1.6 1"/>
<line x1="255.79" x2="269.95" y1="555.12" y2="555.12" stroke="#3b6cf2" stroke-width="0.8" stroke-dasharray="1.6 1"/>
<polyline points="62.81,549.67 87.66,545.41 112.51,547.31 137.6,547.31 162.75,543.28 187.6,543.76 212.93,542.1 237.78,547.78 262.87,544.47" fill="none" stroke="#ee4466" stroke-width="0.65"/>
<path d="M62.81 538.31V565.06M60.41 538.31H65.21M60.41 565.06H65.21" stroke="#d40f3a" stroke-width="1.4" fill="none"/>
<rect x="61.11" y="547.97" width="3.4" height="3.4" rx="0.7" fill="#dc0a3c"/>
<path d="M87.66 538.31V565.53M85.26 538.31H90.06M85.26 565.53H90.06" stroke="#d40f3a" stroke-width="1.4" fill="none"/>
<rect x="85.96" y="543.71" width="3.4" height="3.4" rx="0.7" fill="#dc0a3c"/>
<path d="M112.51 533.11V563.88M110.11 533.11H114.91M110.11 563.88H114.91" stroke="#d40f3a" stroke-width="1.4" fill="none"/>
<rect x="110.81" y="545.61" width="3.4" height="3.4" rx="0.7" fill="#dc0a3c"/>
<path d="M137.6 536.66V566.24M135.2 536.66H140M135.2 566.24H140" stroke="#d40f3a" stroke-width="1.4" fill="none"/>
<rect x="135.9" y="545.61" width="3.4" height="3.4" rx="0.7" fill="#dc0a3c"/>
<path d="M162.75 529.32V567.9M160.35 529.32H165.15M160.35 567.9H165.15" stroke="#d40f3a" stroke-width="1.4" fill="none"/>
<rect x="161.05" y="541.58" width="3.4" height="3.4" rx="0.7" fill="#dc0a3c"/>
<path d="M187.6 526.01V568.61M185.2 526.01H190M185.2 568.61H190" stroke="#d40f3a" stroke-width="1.4" fill="none"/>
<rect x="185.9" y="542.06" width="3.4" height="3.4" rx="0.7" fill="#dc0a3c"/>
<path d="M212.93 525.53V568.61M210.53 525.53H215.33M210.53 568.61H215.33" stroke="#d40f3a" stroke-width="1.4" fill="none"/>
<rect x="211.23" y="540.4" width="3.4" height="3.4" rx="0.7" fill="#dc0a3c"/>
<path d="M237.78 521.27V566.24M235.38 521.27H240.18M235.38 566.24H240.18" stroke="#d40f3a" stroke-width="1.4" fill="none"/>
<rect x="236.08" y="546.08" width="3.4" height="3.4" rx="0.7" fill="#dc0a3c"/>
<path d="M262.87 520.56V555.12M260.47 520.56H265.27M260.47 555.12H265.27" stroke="#1a48e6" stroke-width="1.4" fill="none"/>
<rect x="261.17" y="542.77" width="3.4" height="3.4" rx="0.7" fill="#1a48e6"/>
</g>
<g id="panelE">
<text x="386.6" y="464.2" font-size="14.3" text-anchor="start">E</text>
<path d="M415.3 463.5V620.4H653.5" fill="none" stroke="#555" stroke-width="1.05"/>
<path d="M413.2 463.5h2.1M413.2 495h2.1M413.2 526.2h2.1M413.2 557.7h2.1M413.2 589.2h2.1M413.2 620.4h2.1M432.4 620.4v2.1M457.8 620.4v2.1M483.2 620.4v2.1M508.6 620.4v2.1M534 620.4v2.1M559.4 620.4v2.1M584.8 620.4v2.1M610.2 620.4v2.1M635.6 620.4v2.1" fill="none" stroke="#555" stroke-width="0.8"/>
<text x="413" y="466.7" font-size="8" text-anchor="end">50</text>
<text x="413" y="498.2" font-size="8" text-anchor="end">40</text>
<text x="413" y="529.4" font-size="8" text-anchor="end">30</text>
<text x="413" y="560.9" font-size="8" text-anchor="end">20</text>
<text x="413" y="592.4" font-size="8" text-anchor="end">10</text>
<text x="413" y="623.6" font-size="8" text-anchor="end">0</text>
<text x="432.4" y="631.1" font-size="8" text-anchor="middle">Baseline</text>
<text x="457.8" y="631.1" font-size="8" text-anchor="middle">EX40</text>
<text x="457.8" y="641.2" font-size="8" text-anchor="middle">IN10</text>
<text x="483.2" y="631.1" font-size="8" text-anchor="middle">EX40</text>
<text x="483.2" y="641.2" font-size="8" text-anchor="middle">IN20</text>
<text x="508.6" y="631.1" font-size="8" text-anchor="middle">EX40</text>
<text x="508.6" y="641.2" font-size="8" text-anchor="middle">IN30</text>
<text x="534" y="631.1" font-size="8" text-anchor="middle">IN40</text>
<text x="534" y="641.2" font-size="8" text-anchor="middle">EX10</text>
<text x="559.4" y="631.1" font-size="8" text-anchor="middle">IN40</text>
<text x="559.4" y="641.2" font-size="8" text-anchor="middle">EX20</text>
<text x="584.8" y="631.1" font-size="8" text-anchor="middle">IN40</text>
<text x="584.8" y="641.2" font-size="8" text-anchor="middle">EX30</text>
<text x="610.2" y="631.1" font-size="8" text-anchor="middle">EX40</text>
<text x="610.2" y="641.2" font-size="8" text-anchor="middle">IN40</text>
<text x="623.4" y="631.1" font-size="8" text-anchor="start">Endotracheal</text><text x="623.4" y="641.2" font-size="8" text-anchor="start">Suction</text>
<text x="400.4" y="542" font-size="8.6" text-anchor="middle" transform="rotate(-90 400.4 542)">RR(rmp)</text>
<path d="M432.54 509.17C432.54 509.81 432.54 511.73 432.54 513.01C432.54 514.29 432.45 515.56 432.54 516.84C432.64 518.12 432.92 519.4 433.12 520.68C433.32 521.96 433.51 523.24 433.73 524.52C433.95 525.79 434.23 527.07 434.45 528.35C434.68 529.63 434.9 530.91 435.09 532.19C435.28 533.47 435.43 534.74 435.59 536.02C435.76 537.3 435.95 538.58 436.07 539.86C436.2 541.14 436.29 542.42 436.34 543.7C436.39 544.97 436.35 546.25 436.35 547.53C436.36 548.81 436.29 550.09 436.35 551.37C436.42 552.65 436.54 553.92 436.77 555.2C437 556.48 437.44 557.76 437.74 559.04C438.05 560.32 438.3 561.6 438.59 562.87C438.88 564.15 439.22 565.43 439.49 566.71C439.76 567.99 440.06 569.27 440.21 570.55C440.35 571.83 440.37 573.1 440.36 574.38C440.36 575.66 440.28 576.94 440.18 578.22C440.08 579.5 440.14 580.78 439.79 582.05C439.44 583.33 438.67 584.61 438.09 585.89C437.51 587.17 436.77 588.45 436.33 589.73C435.9 591.01 435.73 592.28 435.48 593.56C435.23 594.84 435.03 596.12 434.83 597.4C434.64 598.68 434.49 599.96 434.32 601.23C434.16 602.51 434 603.79 433.84 605.07C433.68 606.35 433.52 607.63 433.37 608.91C433.22 610.18 433.1 611.46 432.96 612.74C432.83 614.02 432.61 615.3 432.54 616.58C432.47 617.86 432.54 619.77 432.54 620.41C432.54 619.77 432.61 617.86 432.54 616.58C432.47 615.3 432.26 614.02 432.12 612.74C431.99 611.46 431.86 610.18 431.72 608.91C431.57 607.63 431.4 606.35 431.25 605.07C431.09 603.79 430.93 602.51 430.77 601.23C430.6 599.96 430.45 598.68 430.25 597.4C430.06 596.12 429.86 594.84 429.61 593.56C429.36 592.28 429.19 591.01 428.76 589.73C428.32 588.45 427.57 587.17 427 585.89C426.42 584.61 425.65 583.33 425.3 582.05C424.95 580.78 425 579.5 424.91 578.22C424.81 576.94 424.73 575.66 424.72 574.38C424.72 573.1 424.73 571.83 424.88 570.55C425.03 569.27 425.33 567.99 425.6 566.71C425.87 565.43 426.21 564.15 426.5 562.87C426.79 561.6 427.04 560.32 427.35 559.04C427.65 557.76 428.09 556.48 428.32 555.2C428.55 553.92 428.66 552.65 428.73 551.37C428.8 550.09 428.73 548.81 428.73 547.53C428.74 546.25 428.7 544.97 428.75 543.7C428.8 542.42 428.89 541.14 429.02 539.86C429.14 538.58 429.33 537.3 429.5 536.02C429.66 534.74 429.81 533.47 430 532.19C430.19 530.91 430.41 529.63 430.64 528.35C430.86 527.07 431.14 525.79 431.36 524.52C431.58 523.24 431.77 521.96 431.97 520.68C432.16 519.4 432.45 518.12 432.54 516.84C432.64 515.56 432.54 514.29 432.54 513.01C432.54 511.73 432.54 509.81 432.54 509.17Z" fill="#fff" stroke="#e1284b" stroke-width="0.9" stroke-linejoin="round"/>
<circle cx="432.54" cy="532.84" r="2.05" fill="#f778bd"/>
<circle cx="432.54" cy="551.78" r="2.05" fill="#f778bd"/>
<circle cx="432.54" cy="560.77" r="2.05" fill="#f778bd"/>
<circle cx="432.54" cy="567.16" r="2.05" fill="#f778bd"/>
<circle cx="429.23" cy="573.79" r="2.05" fill="#f778bd"/>
<circle cx="435.62" cy="577.34" r="2.05" fill="#f778bd"/>
<circle cx="429.23" cy="583.02" r="2.05" fill="#f778bd"/>
<circle cx="435.62" cy="583.02" r="2.05" fill="#f778bd"/>
<circle cx="432.54" cy="598.64" r="2.05" fill="#f778bd"/>
<line x1="424.71" x2="440.38" y1="573.08" y2="573.08" stroke="#e1284b" stroke-width="0.8"/>
<line x1="428.01" x2="437.08" y1="556.51" y2="556.51" stroke="#e1284b" stroke-width="0.8" stroke-dasharray="1.6 1"/>
<line x1="425.59" x2="439.5" y1="583.02" y2="583.02" stroke="#e1284b" stroke-width="0.8" stroke-dasharray="1.6 1"/>
<path d="M458.11 480.77C458.11 481.48 458.11 483.6 458.11 485.01C458.11 486.43 457.98 487.84 458.11 489.26C458.23 490.67 458.63 492.09 458.88 493.5C459.13 494.92 459.4 496.33 459.61 497.75C459.82 499.16 459.99 500.57 460.13 501.99C460.27 503.4 460.43 504.82 460.46 506.23C460.48 507.65 460.46 509.06 460.3 510.48C460.15 511.89 459.72 513.31 459.52 514.72C459.32 516.14 459.13 517.55 459.1 518.97C459.08 520.38 459.26 521.79 459.4 523.21C459.54 524.62 459.75 526.04 459.95 527.45C460.14 528.87 460.33 530.28 460.55 531.7C460.77 533.11 461.05 534.53 461.28 535.94C461.52 537.36 461.76 538.77 461.95 540.19C462.14 541.6 462.29 543.02 462.45 544.43C462.61 545.84 462.74 547.26 462.92 548.67C463.1 550.09 463.26 551.5 463.54 552.92C463.83 554.33 464.28 555.75 464.63 557.16C464.98 558.58 465.45 559.99 465.66 561.41C465.88 562.82 465.92 564.24 465.93 565.65C465.94 567.06 465.83 568.48 465.73 569.89C465.63 571.31 465.61 572.72 465.32 574.14C465.02 575.55 464.46 576.97 463.97 578.38C463.47 579.8 462.85 581.21 462.36 582.63C461.88 584.04 461.47 585.46 461.05 586.87C460.62 588.28 460.2 589.7 459.8 591.11C459.4 592.53 458.94 593.94 458.66 595.36C458.37 596.77 458.2 598.19 458.11 599.6C458.01 601.02 458.11 603.14 458.11 603.85C458.11 603.14 458.2 601.02 458.11 599.6C458.01 598.19 457.84 596.77 457.56 595.36C457.27 593.94 456.81 592.53 456.41 591.11C456.01 589.7 455.59 588.28 455.17 586.87C454.74 585.46 454.33 584.04 453.85 582.63C453.36 581.21 452.74 579.8 452.25 578.38C451.76 576.97 451.19 575.55 450.9 574.14C450.6 572.72 450.59 571.31 450.49 569.89C450.38 568.48 450.28 567.06 450.29 565.65C450.3 564.24 450.33 562.82 450.55 561.41C450.77 559.99 451.23 558.58 451.58 557.16C451.94 555.75 452.39 554.33 452.67 552.92C452.96 551.5 453.11 550.09 453.29 548.67C453.47 547.26 453.6 545.84 453.76 544.43C453.92 543.02 454.07 541.6 454.26 540.19C454.46 538.77 454.7 537.36 454.93 535.94C455.16 534.53 455.44 533.11 455.66 531.7C455.89 530.28 456.08 528.87 456.27 527.45C456.46 526.04 456.67 524.62 456.81 523.21C456.95 521.79 457.13 520.38 457.11 518.97C457.09 517.55 456.89 516.14 456.69 514.72C456.49 513.31 456.07 511.89 455.91 510.48C455.75 509.06 455.73 507.65 455.76 506.23C455.79 504.82 455.94 503.4 456.08 501.99C456.23 500.57 456.4 499.16 456.6 497.75C456.81 496.33 457.09 494.92 457.34 493.5C457.59 492.09 457.98 490.67 458.11 489.26C458.23 487.84 458.11 486.43 458.11 485.01C458.11 483.6 458.11 481.48 458.11 480.77Z" fill="#fff" stroke="#e1284b" stroke-width="0.9" stroke-linejoin="round"/>
<circle cx="458.11" cy="507.51" r="2.05" fill="#f778bd"/>
<circle cx="464.73" cy="539.23" r="2.05" fill="#f778bd"/>
<circle cx="458.11" cy="557.69" r="2.05" fill="#f778bd"/>
<circle cx="451.01" cy="570.71" r="2.05" fill="#f778bd"/>
<circle cx="464.73" cy="573.08" r="2.05" fill="#f778bd"/>
<circle cx="451.01" cy="577.1" r="2.05" fill="#f778bd"/>
<circle cx="461.66" cy="568.34" r="2.05" fill="#f778bd"/>
<line x1="450.27" x2="465.94" y1="564.32" y2="564.32" stroke="#e1284b" stroke-width="0.8"/>
<line x1="454.23" x2="461.98" y1="540.41" y2="540.41" stroke="#e1284b" stroke-width="0.8" stroke-dasharray="1.6 1"/>
<line x1="450.68" x2="465.53" y1="572.37" y2="572.37" stroke="#e1284b" stroke-width="0.8" stroke-dasharray="1.6 1"/>
<path d="M483.43 474.85C483.43 475.61 483.43 477.88 483.43 479.4C483.43 480.91 483.32 482.43 483.43 483.94C483.54 485.46 483.88 486.97 484.09 488.49C484.29 490.01 484.5 491.52 484.67 493.04C484.85 494.55 485.05 496.07 485.15 497.58C485.26 499.1 485.37 500.61 485.32 502.13C485.26 503.64 484.97 505.16 484.83 506.67C484.68 508.19 484.48 509.7 484.43 511.22C484.38 512.74 484.46 514.25 484.51 515.77C484.56 517.28 484.64 518.8 484.72 520.31C484.8 521.83 484.87 523.34 484.97 524.86C485.06 526.37 485.17 527.89 485.29 529.4C485.42 530.92 485.55 532.43 485.7 533.95C485.85 535.47 486 536.98 486.18 538.5C486.36 540.01 486.56 541.53 486.77 543.04C486.98 544.56 487.19 546.07 487.43 547.59C487.67 549.1 487.92 550.62 488.21 552.13C488.51 553.65 488.89 555.16 489.21 556.68C489.53 558.2 489.89 559.71 490.14 561.23C490.38 562.74 490.54 564.26 490.69 565.77C490.85 567.29 490.98 568.8 491.07 570.32C491.17 571.83 491.38 573.35 491.26 574.86C491.15 576.38 490.86 577.89 490.4 579.41C489.94 580.93 489.07 582.44 488.52 583.96C487.97 585.47 487.56 586.99 487.1 588.5C486.63 590.02 486.22 591.53 485.75 593.05C485.28 594.56 484.67 596.08 484.29 597.59C483.9 599.11 483.57 600.63 483.43 602.14C483.29 603.66 483.43 605.93 483.43 606.69C483.43 605.93 483.57 603.66 483.43 602.14C483.29 600.63 482.96 599.11 482.58 597.59C482.19 596.08 481.58 594.56 481.12 593.05C480.65 591.53 480.23 590.02 479.77 588.5C479.31 586.99 478.9 585.47 478.35 583.96C477.8 582.44 476.92 580.93 476.46 579.41C476.01 577.89 475.71 576.38 475.6 574.86C475.49 573.35 475.7 571.83 475.79 570.32C475.89 568.8 476.02 567.29 476.17 565.77C476.33 564.26 476.48 562.74 476.73 561.23C476.97 559.71 477.33 558.2 477.65 556.68C477.97 555.16 478.35 553.65 478.65 552.13C478.95 550.62 479.19 549.1 479.43 547.59C479.67 546.07 479.89 544.56 480.1 543.04C480.3 541.53 480.5 540.01 480.68 538.5C480.86 536.98 481.01 535.47 481.16 533.95C481.31 532.43 481.45 530.92 481.57 529.4C481.69 527.89 481.8 526.37 481.89 524.86C481.99 523.34 482.07 521.83 482.14 520.31C482.22 518.8 482.3 517.28 482.35 515.77C482.4 514.25 482.49 512.74 482.43 511.22C482.38 509.7 482.19 508.19 482.04 506.67C481.89 505.16 481.6 503.64 481.55 502.13C481.49 500.61 481.6 499.1 481.71 497.58C481.82 496.07 482.01 494.55 482.19 493.04C482.37 491.52 482.57 490.01 482.78 488.49C482.98 486.97 483.32 485.46 483.43 483.94C483.54 482.43 483.43 480.91 483.43 479.4C483.43 477.88 483.43 475.61 483.43 474.85Z" fill="#fff" stroke="#e1284b" stroke-width="0.9" stroke-linejoin="round"/>
<circle cx="483.43" cy="500.89" r="2.05" fill="#f778bd"/>
<circle cx="483.43" cy="535.68" r="2.05" fill="#f778bd"/>
<circle cx="483.43" cy="554.14" r="2.05" fill="#f778bd"/>
<circle cx="479.41" cy="564.32" r="2.05" fill="#f778bd"/>
<circle cx="487.69" cy="564.32" r="2.05" fill="#f778bd"/>
<circle cx="476.57" cy="573.79" r="2.05" fill="#f778bd"/>
<circle cx="476.57" cy="579.7" r="2.05" fill="#f778bd"/>
<circle cx="490.06" cy="576.63" r="2.05" fill="#f778bd"/>
<line x1="476.31" x2="490.56" y1="564.32" y2="564.32" stroke="#e1284b" stroke-width="0.8"/>
<line x1="479.8" x2="487.07" y1="545.15" y2="545.15" stroke="#e1284b" stroke-width="0.8" stroke-dasharray="1.6 1"/>
<line x1="475.6" x2="491.27" y1="575.44" y2="575.44" stroke="#e1284b" stroke-width="0.8" stroke-dasharray="1.6 1"/>
<path d="M508.52 489.05C508.52 489.7 508.47 491.65 508.52 492.95C508.58 494.24 508.72 495.54 508.85 496.84C508.98 498.14 509.13 499.43 509.32 500.73C509.5 502.03 509.78 503.33 509.97 504.63C510.17 505.92 510.35 507.22 510.5 508.52C510.65 509.82 510.82 511.11 510.87 512.41C510.91 513.71 510.87 515.01 510.76 516.3C510.65 517.6 510.35 518.9 510.22 520.2C510.09 521.5 510 522.79 509.98 524.09C509.96 525.39 510.05 526.69 510.11 527.98C510.18 529.28 510.26 530.58 510.37 531.88C510.48 533.17 510.58 534.47 510.75 535.77C510.92 537.07 511.14 538.37 511.37 539.66C511.6 540.96 511.82 542.26 512.12 543.56C512.42 544.85 512.82 546.15 513.16 547.45C513.49 548.75 513.86 550.04 514.14 551.34C514.42 552.64 514.62 553.94 514.83 555.24C515.04 556.53 515.23 557.83 515.4 559.13C515.57 560.43 515.7 561.72 515.84 563.02C515.98 564.32 516.13 565.62 516.25 566.91C516.37 568.21 516.5 569.51 516.54 570.81C516.58 572.11 516.65 573.4 516.48 574.7C516.31 576 515.9 577.3 515.53 578.59C515.16 579.89 514.7 581.19 514.24 582.49C513.79 583.78 513.32 585.08 512.8 586.38C512.28 587.68 511.68 588.98 511.14 590.27C510.6 591.57 509.98 592.87 509.54 594.17C509.11 595.46 508.69 596.76 508.52 598.06C508.35 599.36 508.52 601.3 508.52 601.95C508.52 601.3 508.69 599.36 508.52 598.06C508.35 596.76 507.93 595.46 507.5 594.17C507.06 592.87 506.45 591.57 505.9 590.27C505.36 588.98 504.76 587.68 504.24 586.38C503.72 585.08 503.25 583.78 502.8 582.49C502.34 581.19 501.88 579.89 501.51 578.59C501.14 577.3 500.73 576 500.56 574.7C500.4 573.4 500.47 572.11 500.5 570.81C500.54 569.51 500.67 568.21 500.79 566.91C500.91 565.62 501.06 564.32 501.2 563.02C501.35 561.72 501.48 560.43 501.64 559.13C501.81 557.83 502 556.53 502.21 555.24C502.42 553.94 502.62 552.64 502.9 551.34C503.18 550.04 503.55 548.75 503.89 547.45C504.22 546.15 504.62 544.85 504.92 543.56C505.22 542.26 505.44 540.96 505.67 539.66C505.9 538.37 506.12 537.07 506.29 535.77C506.46 534.47 506.56 533.17 506.67 531.88C506.78 530.58 506.86 529.28 506.93 527.98C506.99 526.69 507.08 525.39 507.06 524.09C507.05 522.79 506.95 521.5 506.82 520.2C506.69 518.9 506.39 517.6 506.28 516.3C506.17 515.01 506.13 513.71 506.18 512.41C506.22 511.11 506.4 509.82 506.54 508.52C506.69 507.22 506.87 505.92 507.07 504.63C507.26 503.33 507.54 502.03 507.73 500.73C507.91 499.43 508.06 498.14 508.19 496.84C508.33 495.54 508.47 494.24 508.52 492.95C508.58 491.65 508.52 489.7 508.52 489.05Z" fill="#fff" stroke="#e1284b" stroke-width="0.9" stroke-linejoin="round"/>
<circle cx="508.52" cy="513.91" r="2.05" fill="#f778bd"/>
<circle cx="508.52" cy="541.83" r="2.05" fill="#f778bd"/>
<circle cx="506.63" cy="554.14" r="2.05" fill="#f778bd"/>
<circle cx="511.36" cy="557.69" r="2.05" fill="#f778bd"/>
<circle cx="501.89" cy="576.63" r="2.05" fill="#f778bd"/>
<circle cx="505.44" cy="576.63" r="2.05" fill="#f778bd"/>
<circle cx="511.36" cy="576.63" r="2.05" fill="#f778bd"/>
<circle cx="515.38" cy="576.63" r="2.05" fill="#f778bd"/>
<line x1="501.4" x2="515.64" y1="561.24" y2="561.24" stroke="#e1284b" stroke-width="0.8"/>
<line x1="503.67" x2="513.37" y1="548.22" y2="548.22" stroke="#e1284b" stroke-width="0.8" stroke-dasharray="1.6 1"/>
<line x1="501.07" x2="515.97" y1="577.1" y2="577.1" stroke="#e1284b" stroke-width="0.8" stroke-dasharray="1.6 1"/>
<path d="M534.41 516.98C534.41 517.43 534.41 518.79 534.41 519.69C534.41 520.6 534.36 521.5 534.41 522.4C534.46 523.3 534.59 524.21 534.72 525.11C534.84 526.01 534.93 526.92 535.15 527.82C535.36 528.72 535.7 529.63 536.01 530.53C536.31 531.43 536.68 532.34 536.96 533.24C537.24 534.14 537.45 535.05 537.68 535.95C537.9 536.85 538.12 537.76 538.32 538.66C538.52 539.56 538.73 540.47 538.87 541.37C539.01 542.27 539.11 543.18 539.15 544.08C539.19 544.98 539.14 545.89 539.11 546.79C539.07 547.69 538.98 548.59 538.92 549.5C538.86 550.4 538.78 551.3 538.74 552.21C538.71 553.11 538.64 554.01 538.72 554.92C538.8 555.82 539.01 556.72 539.22 557.63C539.44 558.53 539.77 559.43 540.02 560.34C540.27 561.24 540.49 562.14 540.74 563.05C540.99 563.95 541.28 564.85 541.53 565.76C541.78 566.66 542.08 567.56 542.24 568.47C542.4 569.37 542.49 570.27 542.47 571.18C542.45 572.08 542.28 572.98 542.1 573.88C541.93 574.79 541.67 575.69 541.41 576.59C541.14 577.5 540.9 578.4 540.52 579.3C540.13 580.21 539.6 581.11 539.1 582.01C538.6 582.92 538.02 583.82 537.52 584.72C537.02 585.63 536.54 586.53 536.09 587.43C535.65 588.34 535.14 589.24 534.86 590.14C534.58 591.05 534.48 591.95 534.41 592.85C534.33 593.76 534.41 595.11 534.41 595.56C534.41 595.11 534.48 593.76 534.41 592.85C534.33 591.95 534.24 591.05 533.96 590.14C533.68 589.24 533.17 588.34 532.72 587.43C532.28 586.53 531.8 585.63 531.29 584.72C530.79 583.82 530.21 582.92 529.71 582.01C529.21 581.11 528.69 580.21 528.3 579.3C527.92 578.4 527.67 577.5 527.41 576.59C527.14 575.69 526.89 574.79 526.71 573.88C526.53 572.98 526.37 572.08 526.35 571.18C526.32 570.27 526.42 569.37 526.58 568.47C526.73 567.56 527.04 566.66 527.29 565.76C527.54 564.85 527.83 563.95 528.08 563.05C528.33 562.14 528.55 561.24 528.8 560.34C529.05 559.43 529.38 558.53 529.6 557.63C529.81 556.72 530.01 555.82 530.09 554.92C530.17 554.01 530.11 553.11 530.07 552.21C530.04 551.3 529.95 550.4 529.89 549.5C529.83 548.59 529.75 547.69 529.71 546.79C529.67 545.89 529.62 544.98 529.66 544.08C529.7 543.18 529.81 542.27 529.95 541.37C530.09 540.47 530.3 539.56 530.5 538.66C530.7 537.76 530.91 536.85 531.14 535.95C531.37 535.05 531.58 534.14 531.86 533.24C532.13 532.34 532.51 531.43 532.81 530.53C533.11 529.63 533.45 528.72 533.67 527.82C533.88 526.92 533.98 526.01 534.1 525.11C534.22 524.21 534.36 523.3 534.41 522.4C534.46 521.5 534.41 520.6 534.41 519.69C534.41 518.79 534.41 517.43 534.41 516.98Z" fill="#fff" stroke="#e1284b" stroke-width="0.9" stroke-linejoin="round"/>
<circle cx="534.41" cy="535.68" r="2.05" fill="#f778bd"/>
<circle cx="534.41" cy="541.12" r="2.05" fill="#f778bd"/>
<circle cx="534.41" cy="551.78" r="2.05" fill="#f778bd"/>
<circle cx="534.41" cy="558.88" r="2.05" fill="#f778bd"/>
<circle cx="528.02" cy="576.63" r="2.05" fill="#f778bd"/>
<circle cx="531.57" cy="573.79" r="2.05" fill="#f778bd"/>
<circle cx="537.49" cy="576.63" r="2.05" fill="#f778bd"/>
<circle cx="541.04" cy="573.79" r="2.05" fill="#f778bd"/>
<circle cx="534.41" cy="570.71" r="2.05" fill="#f778bd"/>
<line x1="526.76" x2="542.05" y1="567.63" y2="567.63" stroke="#e1284b" stroke-width="0.8"/>
<line x1="529.65" x2="539.16" y1="545.15" y2="545.15" stroke="#e1284b" stroke-width="0.8" stroke-dasharray="1.6 1"/>
<line x1="527.09" x2="541.73" y1="575.44" y2="575.44" stroke="#e1284b" stroke-width="0.8" stroke-dasharray="1.6 1"/>
<path d="M559.5 496.15C559.5 496.77 559.5 498.63 559.5 499.87C559.5 501.11 559.43 502.34 559.5 503.58C559.57 504.82 559.74 506.06 559.91 507.29C560.07 508.53 560.26 509.77 560.49 511.01C560.72 512.25 561.06 513.48 561.28 514.72C561.51 515.96 561.75 517.2 561.83 518.44C561.92 519.67 561.85 520.91 561.8 522.15C561.74 523.39 561.54 524.62 561.5 525.86C561.46 527.1 561.36 528.34 561.56 529.58C561.76 530.81 562.31 532.05 562.7 533.29C563.08 534.53 563.49 535.76 563.88 537C564.27 538.24 564.83 539.48 565.03 540.72C565.23 541.95 565.16 543.19 565.08 544.43C565 545.67 564.7 546.91 564.57 548.14C564.43 549.38 564.25 550.62 564.25 551.86C564.26 553.09 564.43 554.33 564.61 555.57C564.79 556.81 565.08 558.05 565.32 559.28C565.55 560.52 565.76 561.76 566.01 563C566.27 564.24 566.63 565.47 566.85 566.71C567.07 567.95 567.26 569.19 567.33 570.42C567.4 571.66 567.31 572.9 567.27 574.14C567.23 575.38 567.3 576.61 567.09 577.85C566.89 579.09 566.52 580.33 566.03 581.56C565.55 582.8 564.74 584.04 564.18 585.28C563.62 586.52 563.15 587.75 562.68 588.99C562.21 590.23 561.78 591.47 561.38 592.71C560.97 593.94 560.56 595.18 560.25 596.42C559.93 597.66 559.62 598.89 559.5 600.13C559.37 601.37 559.5 603.23 559.5 603.85C559.5 603.23 559.62 601.37 559.5 600.13C559.37 598.89 559.06 597.66 558.75 596.42C558.43 595.18 558.02 593.94 557.62 592.71C557.21 591.47 556.78 590.23 556.31 588.99C555.85 587.75 555.37 586.52 554.81 585.28C554.25 584.04 553.45 582.8 552.96 581.56C552.48 580.33 552.11 579.09 551.9 577.85C551.7 576.61 551.76 575.38 551.72 574.14C551.69 572.9 551.6 571.66 551.67 570.42C551.74 569.19 551.92 567.95 552.14 566.71C552.36 565.47 552.73 564.24 552.98 563C553.24 561.76 553.44 560.52 553.68 559.28C553.91 558.05 554.21 556.81 554.39 555.57C554.56 554.33 554.73 553.09 554.74 551.86C554.75 550.62 554.57 549.38 554.43 548.14C554.29 546.91 553.99 545.67 553.91 544.43C553.84 543.19 553.76 541.95 553.96 540.72C554.16 539.48 554.73 538.24 555.12 537C555.51 535.76 555.91 534.53 556.3 533.29C556.68 532.05 557.23 530.81 557.43 529.58C557.63 528.34 557.53 527.1 557.49 525.86C557.45 524.62 557.25 523.39 557.2 522.15C557.14 520.91 557.07 519.67 557.16 518.44C557.25 517.2 557.49 515.96 557.71 514.72C557.94 513.48 558.28 512.25 558.51 511.01C558.74 509.77 558.92 508.53 559.09 507.29C559.25 506.06 559.43 504.82 559.5 503.58C559.57 502.34 559.5 501.11 559.5 499.87C559.5 498.63 559.5 496.77 559.5 496.15Z" fill="#fff" stroke="#e1284b" stroke-width="0.9" stroke-linejoin="round"/>
<circle cx="559.5" cy="520.3" r="2.05" fill="#f778bd"/>
<circle cx="559.5" cy="534.02" r="2.05" fill="#f778bd"/>
<circle cx="563.52" cy="544.67" r="2.05" fill="#f778bd"/>
<circle cx="559.5" cy="557.69" r="2.05" fill="#f778bd"/>
<circle cx="563.52" cy="564.32" r="2.05" fill="#f778bd"/>
<circle cx="555.24" cy="574.26" r="2.05" fill="#f778bd"/>
<circle cx="563.52" cy="576.63" r="2.05" fill="#f778bd"/>
<circle cx="556.42" cy="579.7" r="2.05" fill="#f778bd"/>
<line x1="552.68" x2="566.31" y1="564.32" y2="564.32" stroke="#e1284b" stroke-width="0.8"/>
<line x1="553.79" x2="565.2" y1="542.31" y2="542.31" stroke="#e1284b" stroke-width="0.8" stroke-dasharray="1.6 1"/>
<line x1="551.76" x2="567.24" y1="574.97" y2="574.97" stroke="#e1284b" stroke-width="0.8" stroke-dasharray="1.6 1"/>
<path d="M584.82 493.31C584.82 493.91 584.82 495.7 584.82 496.9C584.82 498.09 584.77 499.29 584.82 500.48C584.88 501.67 585.03 502.87 585.16 504.06C585.3 505.26 585.42 506.45 585.63 507.65C585.84 508.84 586.18 510.03 586.42 511.23C586.66 512.42 586.96 513.62 587.07 514.81C587.19 516.01 587.23 517.2 587.12 518.39C587 519.59 586.58 520.78 586.36 521.98C586.15 523.17 585.86 524.37 585.82 525.56C585.78 526.75 585.97 527.95 586.12 529.14C586.27 530.34 586.51 531.53 586.73 532.73C586.94 533.92 587.18 535.11 587.39 536.31C587.61 537.5 587.88 538.7 588.03 539.89C588.18 541.09 588.23 542.28 588.29 543.47C588.36 544.67 588.37 545.86 588.41 547.06C588.46 548.25 588.47 549.45 588.56 550.64C588.65 551.83 588.75 553.03 588.94 554.22C589.13 555.42 589.44 556.61 589.71 557.81C589.98 559 590.24 560.2 590.56 561.39C590.88 562.58 591.29 563.78 591.64 564.97C591.99 566.17 592.48 567.36 592.67 568.56C592.85 569.75 592.92 570.94 592.77 572.14C592.62 573.33 592.13 574.53 591.74 575.72C591.35 576.92 590.93 578.11 590.43 579.3C589.93 580.5 589.3 581.69 588.73 582.89C588.17 584.08 587.59 585.28 587.05 586.47C586.51 587.66 585.87 588.86 585.5 590.05C585.13 591.25 584.94 592.44 584.82 593.64C584.71 594.83 584.82 596.62 584.82 597.22C584.82 596.62 584.94 594.83 584.82 593.64C584.71 592.44 584.52 591.25 584.15 590.05C583.77 588.86 583.13 587.66 582.59 586.47C582.05 585.28 581.48 584.08 580.91 582.89C580.35 581.69 579.71 580.5 579.21 579.3C578.71 578.11 578.29 576.92 577.9 575.72C577.51 574.53 577.03 573.33 576.87 572.14C576.72 570.94 576.79 569.75 576.98 568.56C577.17 567.36 577.65 566.17 578 564.97C578.35 563.78 578.76 562.58 579.09 561.39C579.41 560.2 579.67 559 579.94 557.81C580.21 556.61 580.51 555.42 580.7 554.22C580.89 553.03 581 551.83 581.09 550.64C581.17 549.45 581.19 548.25 581.23 547.06C581.28 545.86 581.29 544.67 581.35 543.47C581.42 542.28 581.46 541.09 581.61 539.89C581.76 538.7 582.03 537.5 582.25 536.31C582.47 535.11 582.71 533.92 582.92 532.73C583.13 531.53 583.37 530.34 583.52 529.14C583.67 527.95 583.86 526.75 583.82 525.56C583.78 524.37 583.5 523.17 583.28 521.98C583.07 520.78 582.65 519.59 582.53 518.39C582.41 517.2 582.45 516.01 582.57 514.81C582.69 513.62 582.99 512.42 583.23 511.23C583.47 510.03 583.8 508.84 584.01 507.65C584.22 506.45 584.35 505.26 584.48 504.06C584.62 502.87 584.77 501.67 584.82 500.48C584.88 499.29 584.82 498.09 584.82 496.9C584.82 495.7 584.82 493.91 584.82 493.31Z" fill="#fff" stroke="#e1284b" stroke-width="0.9" stroke-linejoin="round"/>
<circle cx="584.82" cy="516.98" r="2.05" fill="#f778bd"/>
<circle cx="581.27" cy="539.23" r="2.05" fill="#f778bd"/>
<circle cx="584.82" cy="554.14" r="2.05" fill="#f778bd"/>
<circle cx="577.72" cy="570.71" r="2.05" fill="#f778bd"/>
<circle cx="584.82" cy="570.71" r="2.05" fill="#f778bd"/>
<circle cx="591.92" cy="573.08" r="2.05" fill="#f778bd"/>
<line x1="576.75" x2="592.89" y1="570.71" y2="570.71" stroke="#e1284b" stroke-width="0.8"/>
<line x1="581.53" x2="588.12" y1="540.65" y2="540.65" stroke="#e1284b" stroke-width="0.8" stroke-dasharray="1.6 1"/>
<path d="M610.38 503.96C610.38 504.5 610.38 506.1 610.38 507.16C610.38 508.23 610.31 509.3 610.38 510.36C610.46 511.43 610.67 512.5 610.84 513.56C611 514.63 611.18 515.7 611.37 516.76C611.56 517.83 611.83 518.89 611.99 519.96C612.14 521.03 612.33 522.09 612.3 523.16C612.28 524.23 612.04 525.29 611.86 526.36C611.68 527.43 611.32 528.49 611.21 529.56C611.1 530.63 611.18 531.69 611.22 532.76C611.25 533.83 611.35 534.89 611.44 535.96C611.53 537.02 611.63 538.09 611.76 539.16C611.88 540.22 612.01 541.29 612.18 542.36C612.36 543.42 612.61 544.49 612.8 545.56C612.98 546.62 613.17 547.69 613.32 548.76C613.46 549.82 613.54 550.89 613.66 551.95C613.77 553.02 613.85 554.09 614 555.15C614.15 556.22 614.32 557.29 614.56 558.35C614.8 559.42 615.11 560.49 615.44 561.55C615.77 562.62 616.11 563.69 616.56 564.75C617.01 565.82 617.85 566.88 618.14 567.95C618.43 569.02 618.42 570.08 618.29 571.15C618.17 572.22 617.74 573.28 617.39 574.35C617.04 575.42 616.65 576.48 616.18 577.55C615.7 578.62 615.03 579.68 614.53 580.75C614.04 581.82 613.6 582.88 613.2 583.95C612.8 585.01 612.49 586.08 612.15 587.15C611.81 588.21 611.45 589.28 611.15 590.35C610.86 591.41 610.51 592.48 610.38 593.55C610.26 594.61 610.38 596.21 610.38 596.75C610.38 596.21 610.51 594.61 610.38 593.55C610.26 592.48 609.91 591.41 609.61 590.35C609.32 589.28 608.96 588.21 608.62 587.15C608.28 586.08 607.97 585.01 607.57 583.95C607.17 582.88 606.73 581.82 606.24 580.75C605.74 579.68 605.07 578.62 604.59 577.55C604.12 576.48 603.73 575.42 603.38 574.35C603.03 573.28 602.6 572.22 602.47 571.15C602.35 570.08 602.34 569.02 602.63 567.95C602.92 566.88 603.76 565.82 604.21 564.75C604.66 563.69 605 562.62 605.33 561.55C605.66 560.49 605.97 559.42 606.21 558.35C606.45 557.29 606.62 556.22 606.77 555.15C606.92 554.09 607 553.02 607.11 551.95C607.23 550.89 607.31 549.82 607.45 548.76C607.59 547.69 607.78 546.62 607.97 545.56C608.16 544.49 608.41 543.42 608.59 542.36C608.76 541.29 608.89 540.22 609.01 539.16C609.14 538.09 609.24 537.02 609.33 535.96C609.42 534.89 609.52 533.83 609.55 532.76C609.59 531.69 609.67 530.63 609.56 529.56C609.45 528.49 609.09 527.43 608.91 526.36C608.73 525.29 608.49 524.23 608.47 523.16C608.44 522.09 608.63 521.03 608.78 519.96C608.94 518.89 609.21 517.83 609.4 516.76C609.59 515.7 609.77 514.63 609.93 513.56C610.1 512.5 610.31 511.43 610.38 510.36C610.46 509.3 610.38 508.23 610.38 507.16C610.38 506.1 610.38 504.5 610.38 503.96Z" fill="#fff" stroke="#e1284b" stroke-width="0.9" stroke-linejoin="round"/>
<circle cx="610.38" cy="523.37" r="2.05" fill="#f778bd"/>
<circle cx="610.38" cy="545.86" r="2.05" fill="#f778bd"/>
<circle cx="610.38" cy="560.06" r="2.05" fill="#f778bd"/>
<circle cx="603.76" cy="567.63" r="2.05" fill="#f778bd"/>
<circle cx="606.12" cy="570.71" r="2.05" fill="#f778bd"/>
<circle cx="614.41" cy="570.71" r="2.05" fill="#f778bd"/>
<circle cx="617.25" cy="570.24" r="2.05" fill="#f778bd"/>
<circle cx="610.38" cy="576.63" r="2.05" fill="#f778bd"/>
<line x1="602.75" x2="618.02" y1="567.63" y2="567.63" stroke="#e1284b" stroke-width="0.8"/>
<line x1="607.52" x2="613.25" y1="548.22" y2="548.22" stroke="#e1284b" stroke-width="0.8" stroke-dasharray="1.6 1"/>
<line x1="602.48" x2="618.29" y1="571.18" y2="571.18" stroke="#e1284b" stroke-width="0.8" stroke-dasharray="1.6 1"/>
<path d="M635.71 494.26C635.71 494.88 635.71 496.75 635.71 498C635.71 499.24 635.63 500.49 635.71 501.74C635.79 502.98 635.98 504.23 636.2 505.47C636.41 506.72 636.76 507.97 637 509.21C637.23 510.46 637.6 511.7 637.62 512.95C637.64 514.2 637.33 515.44 637.12 516.69C636.92 517.93 636.52 519.18 636.4 520.43C636.27 521.67 636.38 522.92 636.38 524.16C636.38 525.41 636.37 526.66 636.38 527.9C636.39 529.15 636.28 530.39 636.45 531.64C636.62 532.89 637.01 534.13 637.38 535.38C637.75 536.62 638.17 537.87 638.64 539.12C639.12 540.36 639.73 541.61 640.24 542.85C640.74 544.1 641.19 545.35 641.66 546.59C642.14 547.84 642.73 549.08 643.09 550.33C643.44 551.58 643.72 552.82 643.78 554.07C643.84 555.31 643.63 556.56 643.46 557.81C643.29 559.05 643.12 560.3 642.77 561.54C642.43 562.79 641.87 564.04 641.38 565.28C640.9 566.53 640.2 567.77 639.86 569.02C639.53 570.27 639.48 571.51 639.37 572.76C639.26 574 639.28 575.25 639.2 576.5C639.13 577.74 639.07 578.99 638.91 580.23C638.75 581.48 638.49 582.73 638.26 583.97C638.03 585.22 637.77 586.46 637.56 587.71C637.34 588.96 637.18 590.2 636.97 591.45C636.77 592.69 636.53 593.94 636.32 595.19C636.11 596.43 635.81 597.68 635.71 598.92C635.61 600.17 635.71 602.04 635.71 602.66C635.71 602.04 635.81 600.17 635.71 598.92C635.61 597.68 635.31 596.43 635.1 595.19C634.89 593.94 634.65 592.69 634.45 591.45C634.24 590.2 634.08 588.96 633.86 587.71C633.65 586.46 633.39 585.22 633.16 583.97C632.94 582.73 632.67 581.48 632.51 580.23C632.35 578.99 632.29 577.74 632.22 576.5C632.14 575.25 632.16 574 632.05 572.76C631.94 571.51 631.89 570.27 631.56 569.02C631.22 567.77 630.52 566.53 630.04 565.28C629.55 564.04 628.99 562.79 628.65 561.54C628.3 560.3 628.13 559.05 627.96 557.81C627.79 556.56 627.58 555.31 627.64 554.07C627.7 552.82 627.98 551.58 628.33 550.33C628.69 549.08 629.28 547.84 629.76 546.59C630.23 545.35 630.68 544.1 631.18 542.85C631.69 541.61 632.3 540.36 632.78 539.12C633.25 537.87 633.67 536.62 634.04 535.38C634.41 534.13 634.8 532.89 634.97 531.64C635.14 530.39 635.03 529.15 635.04 527.9C635.05 526.66 635.04 525.41 635.04 524.16C635.04 522.92 635.15 521.67 635.02 520.43C634.9 519.18 634.5 517.93 634.3 516.69C634.09 515.44 633.78 514.2 633.8 512.95C633.82 511.7 634.19 510.46 634.42 509.21C634.66 507.97 635.01 506.72 635.22 505.47C635.44 504.23 635.63 502.98 635.71 501.74C635.79 500.49 635.71 499.24 635.71 498C635.71 496.75 635.71 494.88 635.71 494.26Z" fill="#fff" stroke="#3b6cf2" stroke-width="0.9" stroke-linejoin="round"/>
<circle cx="635.71" cy="513.43" r="2.05" fill="#a6dcfa"/>
<circle cx="635.71" cy="545.38" r="2.05" fill="#a6dcfa"/>
<circle cx="628.61" cy="554.14" r="2.05" fill="#a6dcfa"/>
<circle cx="642.81" cy="555.33" r="2.05" fill="#a6dcfa"/>
<circle cx="632.16" cy="563.61" r="2.05" fill="#a6dcfa"/>
<circle cx="639.26" cy="563.61" r="2.05" fill="#a6dcfa"/>
<circle cx="632.16" cy="579.7" r="2.05" fill="#a6dcfa"/>
<circle cx="639.26" cy="579.7" r="2.05" fill="#a6dcfa"/>
<circle cx="632.16" cy="583.73" r="2.05" fill="#a6dcfa"/>
<line x1="627.64" x2="643.78" y1="554.14" y2="554.14" stroke="#3b6cf2" stroke-width="0.8"/>
<line x1="628.25" x2="643.17" y1="550.59" y2="550.59" stroke="#3b6cf2" stroke-width="0.8" stroke-dasharray="1.6 1"/>
<line x1="632.03" x2="639.39" y1="572.37" y2="572.37" stroke="#3b6cf2" stroke-width="0.8" stroke-dasharray="1.6 1"/>
<polyline points="432.54,573.08 458.11,564.32 483.43,564.32 508.52,561.24 534.41,567.63 559.5,564.32 584.82,570.71 610.38,567.63 635.71,554.85" fill="none" stroke="#ee4466" stroke-width="0.65"/>
<path d="M432.54 556.51V583.02M430.14 556.51H434.94M430.14 583.02H434.94" stroke="#d40f3a" stroke-width="1.4" fill="none"/>
<rect x="430.84" y="571.38" width="3.4" height="3.4" rx="0.7" fill="#dc0a3c"/>
<path d="M458.11 540.41V572.37M455.71 540.41H460.51M455.71 572.37H460.51" stroke="#d40f3a" stroke-width="1.4" fill="none"/>
<rect x="456.41" y="562.62" width="3.4" height="3.4" rx="0.7" fill="#dc0a3c"/>
<path d="M483.43 545.15V575.44M481.03 545.15H485.83M481.03 575.44H485.83" stroke="#d40f3a" stroke-width="1.4" fill="none"/>
<rect x="481.73" y="562.62" width="3.4" height="3.4" rx="0.7" fill="#dc0a3c"/>
<path d="M508.52 548.22V577.1M506.12 548.22H510.92M506.12 577.1H510.92" stroke="#d40f3a" stroke-width="1.4" fill="none"/>
<rect x="506.82" y="559.54" width="3.4" height="3.4" rx="0.7" fill="#dc0a3c"/>
<path d="M534.41 545.15V575.44M532.01 545.15H536.81M532.01 575.44H536.81" stroke="#d40f3a" stroke-width="1.4" fill="none"/>
<rect x="532.71" y="565.93" width="3.4" height="3.4" rx="0.7" fill="#dc0a3c"/>
<path d="M559.5 542.31V574.97M557.1 542.31H561.9M557.1 574.97H561.9" stroke="#d40f3a" stroke-width="1.4" fill="none"/>
<rect x="557.8" y="562.62" width="3.4" height="3.4" rx="0.7" fill="#dc0a3c"/>
<path d="M584.82 540.65V571.89M582.42 540.65H587.22M582.42 571.89H587.22" stroke="#d40f3a" stroke-width="1.4" fill="none"/>
<rect x="583.12" y="569.01" width="3.4" height="3.4" rx="0.7" fill="#dc0a3c"/>
<path d="M610.38 548.22V570.71M607.98 548.22H612.78M607.98 570.71H612.78" stroke="#d40f3a" stroke-width="1.4" fill="none"/>
<rect x="608.68" y="565.93" width="3.4" height="3.4" rx="0.7" fill="#dc0a3c"/>
<path d="M635.71 550.59V572.37M633.31 550.59H638.11M633.31 572.37H638.11" stroke="#1a48e6" stroke-width="1.4" fill="none"/>
<rect x="634.01" y="553.15" width="3.4" height="3.4" rx="0.7" fill="#1a48e6"/>
</g>
</svg>
</body></html>
